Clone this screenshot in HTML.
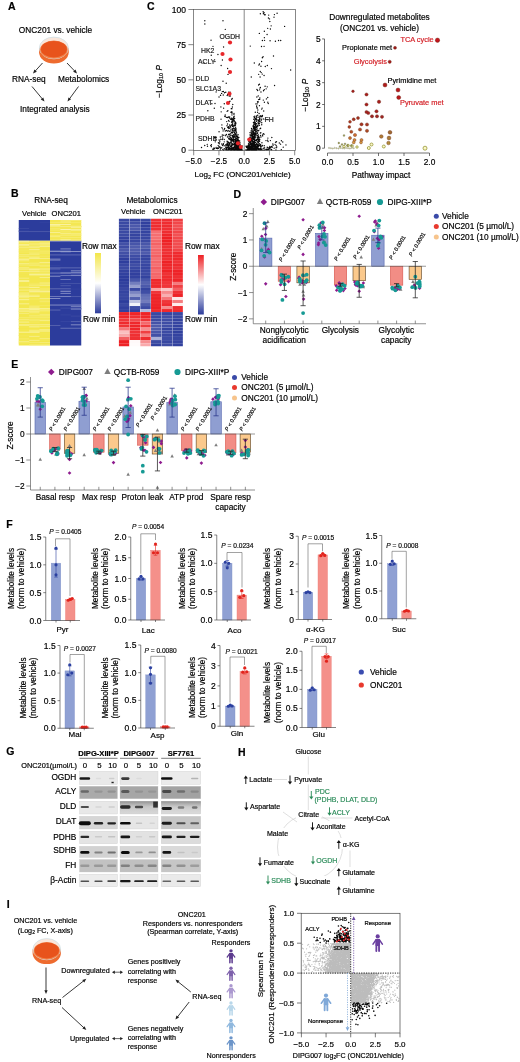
<!DOCTYPE html>
<html><head><meta charset="utf-8"><title>Figure</title>
<style>
html,body{margin:0;padding:0;background:#fff}
svg{display:block}
text{font-family:"Liberation Sans",sans-serif;stroke:#000;stroke-width:.18px}
</style></head><body>
<svg width="520" height="1062" viewBox="0 0 520 1062">
<defs>
<filter id="b1" x="-5%" y="-5%" width="110%" height="110%"><feGaussianBlur stdDeviation="0.55"/></filter>
<filter id="b2" x="-20%" y="-60%" width="140%" height="220%"><feGaussianBlur stdDeviation="1.0"/></filter>
<linearGradient id="gy" x1="0" y1="0" x2="0" y2="1"><stop offset="0" stop-color="#f3e64a"/><stop offset="0.5" stop-color="#ffffff"/><stop offset="1" stop-color="#2c3c9c"/></linearGradient>
<linearGradient id="gr" x1="0" y1="0" x2="0" y2="1"><stop offset="0" stop-color="#ee2024"/><stop offset="0.5" stop-color="#ffffff"/><stop offset="1" stop-color="#2c3c9c"/></linearGradient>
<linearGradient id="gd" x1="0" y1="0" x2="0" y2="1"><stop offset="0" stop-color="#7a7a7a" stop-opacity="0.75"/><stop offset="0.45" stop-color="#9a9a9a" stop-opacity="0.25"/><stop offset="1" stop-color="#bbbbbb" stop-opacity="0"/></linearGradient>
<linearGradient id="dish" x1="0" y1="0" x2="1" y2="1"><stop offset="0" stop-color="#f0642a"/><stop offset="1" stop-color="#e04a18"/></linearGradient>
</defs>
<rect width="520" height="1062" fill="#fff"/>
<text x="8" y="10.2" font-size="10.5" font-weight="bold">A</text>
<text x="55.5" y="33" font-size="8.3" text-anchor="middle">ONC201 vs. vehicle</text>
<path d="M39.05 48 L39.05 52.3 A14.85 11.2 0 0 0 68.75 52.3 L68.75 48 Z" fill="#ee6b2f"/>
<ellipse cx="53.9" cy="48" rx="14.55" ry="10.9" fill="#fbe6da" stroke="#c9e0e8" stroke-width="0.7"/>
<ellipse cx="53.9" cy="49.7" rx="13.85" ry="9.1" fill="#f1824a"/>
<ellipse cx="53.9" cy="49.2" rx="12.95" ry="8.3" fill="#e8531c"/>
<line x1="42.5" y1="63" x2="34.69" y2="71.63" stroke="#222" stroke-width="0.9"/>
<polygon points="33,73.5 34.38,69.53 36.81,71.73" fill="#222"/>
<line x1="67" y1="63" x2="75.26" y2="71.68" stroke="#222" stroke-width="0.9"/>
<polygon points="77,73.5 73.15,71.83 75.52,69.57" fill="#222"/>
<text x="12" y="82.3" font-size="8.3">RNA-seq</text>
<text x="58" y="82.3" font-size="8.3">Metabolomics</text>
<line x1="32" y1="86.5" x2="42.89" y2="99.56" stroke="#222" stroke-width="0.9"/>
<polygon points="44.5,101.5 40.76,99.58 43.29,97.48" fill="#222"/>
<line x1="78.5" y1="86.5" x2="68.99" y2="99.47" stroke="#222" stroke-width="0.9"/>
<polygon points="67.5,101.5 68.46,97.41 71.11,99.35" fill="#222"/>
<text x="20" y="112" font-size="8.3">Integrated analysis</text>
<text x="147" y="10.2" font-size="10.5" font-weight="bold">C</text>
<path d="M233.02 144.31h0M235.65 140.84h0M238.26 150.04h0M241.97 150.19h0M226.94 150.19h0M230.79 130h0M235.52 139.23h0M238.19 143.68h0M230.06 126.55h0M241.12 149.36h0M231.94 114.88h0M229.37 101.69h0M240.99 150.2h0M236.93 150.2h0M232.22 98.52h0M239.66 150.17h0M241.86 150.2h0M227.07 144.56h0M241.32 150.16h0M226.92 149.91h0M222.29 91.58h0M237.27 150.19h0M241.41 149.91h0M235.23 149.12h0M236.65 133.98h0M235.17 144.26h0M231.11 142.5h0M228.6 149.65h0M211.05 40.16h0M237.18 145.76h0M225.29 29.36h0M231.51 132.39h0M230.91 112.31h0M240.33 149.33h0M239.7 149.96h0M236.9 150.2h0M234.89 135.12h0M231.6 118.08h0M241.59 150.15h0M234.19 116.23h0M240.47 150.2h0M238.47 148.74h0M238.33 150.2h0M231.28 108.67h0M227.64 94.49h0M238.24 145.94h0M232.39 128.74h0M240.03 150.19h0M227.88 110.63h0M236.26 144.9h0M242.27 150.19h0M228.02 142.67h0M233.12 141.6h0M237.07 149.04h0M239.04 149.96h0M233.83 144.83h0M239.76 148.59h0M234.88 133.93h0M237.27 150.15h0M233.95 114.2h0M236.74 149.37h0M236.96 146.07h0M236.13 141.83h0M233.61 144.3h0M227.62 68.54h0M223.25 94.98h0M231.71 144.18h0M241.61 150.2h0M236.3 144.61h0M239.04 149.98h0M239 150.06h0M236.78 150.06h0M228.49 116.93h0M239.38 146.83h0M211.26 55.3h0M233.56 128.66h0M235.06 147.36h0M221.88 124.88h0M231.74 112.88h0M220.57 95.18h0M237.93 148.12h0M229.96 101.19h0M242.04 150.2h0M241.04 150.07h0M230.28 95.98h0M231.81 111.63h0M229.94 118.42h0M233.83 150.19h0M240.52 149.2h0M237.12 148.87h0M237.73 149.94h0M222.33 135.03h0M237.69 141.18h0M237.6 140.22h0M225.79 92.26h0M241.18 150.2h0M226.89 146.08h0M240.59 150.16h0M237.9 142.94h0M223.55 47.07h0M241.75 150.2h0M238.93 148.69h0M224.2 129.44h0M231.32 149.65h0M237.21 145.08h0M231.2 150.11h0M228.42 126.82h0M228 74.39h0M224.3 148.8h0M204.02 62.89h0M237.32 149.56h0M220.52 95.42h0M231.91 119.18h0M241.98 150.18h0M224.28 103.71h0M234.33 150.18h0M233.61 140.32h0M212.99 46.35h0M238.67 143.79h0M235.33 140.28h0M231.02 131.85h0M241.52 150.05h0M223.59 108.16h0M241.45 150.2h0M228.71 92.08h0M234.51 146.43h0M219.91 141.1h0M232.39 106.99h0M233.72 117.41h0M221.18 111.83h0M236.09 143.4h0M222.45 128.87h0M232.03 122.5h0M233.81 138.84h0M224.76 116.18h0M214.3 108.28h0M237.97 150.2h0M235.4 140.84h0M232.38 135.56h0M242.18 150.2h0M215.01 103.44h0M240.28 150.08h0M228.18 130.57h0M235.15 139.37h0M239.34 147.69h0M237.41 149.29h0M236.81 149.12h0M232.77 104.57h0M223.48 150.2h0M238.9 145.41h0M204.85 24h0M237.81 143.43h0M239.45 150.18h0M229.15 139.26h0M232.06 122.2h0M238.92 145.84h0M230.03 139.03h0M228.74 149.75h0M219.03 96.96h0M234.97 135.87h0M221.95 127.6h0M236.89 150.2h0M238.51 145.6h0M231.91 150.2h0M235.32 137.27h0M239.86 149.92h0M220.88 106.9h0M234.81 128.9h0M239.9 149.91h0M239.22 147.59h0M237.3 137.45h0M221.78 147.58h0M239.46 150.19h0M221.04 119.16h0M237.14 150.2h0M227.12 111.33h0M239.57 149.3h0M228.2 147.66h0M230.19 135.42h0M235.99 145.02h0M239.79 148.99h0M222.44 60.03h0M238.46 147.69h0M239.84 150h0M221.61 93.41h0M240.66 150.06h0M221.15 65.48h0M236.58 135.61h0M235 124.9h0M229.22 95.93h0M231.9 108.68h0M241.41 150.14h0M235.44 125.24h0M235.76 139.79h0M236.11 146.8h0M231.73 141.84h0M231.25 112.19h0M231.24 139.6h0M216.13 91.92h0M234.67 150.09h0M240.11 149.18h0M242 150.18h0M231.75 99.2h0M235.71 133.83h0M237.78 150.2h0M232.16 112.96h0M230.03 149.85h0M238.86 148.87h0M236.96 149.55h0M232.86 137.57h0M238.42 142.57h0M230.12 92.16h0M235.35 139.3h0M234.87 123.9h0M235.15 143.18h0M229.57 131.22h0M240.38 148.69h0M228.11 127.04h0M239.79 149.49h0M242.07 150.2h0M234.98 150.19h0M234.24 143.41h0M234.95 133.54h0M237.72 145.95h0M241.45 150.19h0M224.22 139.46h0M240.42 148.88h0M237.76 143.49h0M239.79 147.84h0M237.65 143.8h0M231.56 150.2h0M221.79 144h0M224.54 92.73h0M228.62 138.26h0M228.49 146.87h0M238.87 148.54h0M236.74 136.08h0M238.67 150.19h0M234.22 120.52h0M238.49 150.19h0M241.31 150.17h0M238.81 145.52h0M234.79 125.51h0M235.76 148.5h0M239.2 150.2h0M227.2 95.49h0M233.15 130.9h0M229.74 124.97h0M236.79 140.73h0M237.39 150.11h0M238.89 148.03h0M234.04 113.35h0M237.22 149.99h0M240.19 149.7h0M229.68 116.97h0M219.3 143.73h0M239.48 150.15h0M222.07 136.33h0M219.06 131.78h0M238.12 149.73h0M226.22 83.18h0M234.85 123.76h0M234.73 121.64h0M223.4 91.46h0M237.03 143.45h0M239.93 150.07h0M239.15 149.52h0M241.42 150.2h0M238.73 150.14h0M238.68 146.17h0M234.28 118.43h0M234.65 145.21h0M231.75 139.51h0M240.07 150.2h0M236.53 132.26h0M233.83 150.2h0M237.48 141.22h0M232.92 139.41h0M249.15 145.21h0M260.95 66.21h0M247.15 149.58h0M248.36 150.17h0M252.48 150.12h0M248.86 148.37h0M248.48 150.19h0M250.6 146.77h0M249.47 150.2h0M251.6 138.73h0M248.02 149.72h0M250.44 149.81h0M249.62 146.85h0M263.15 11.81h0M253.83 149.83h0M248.41 148.05h0M247.73 150.1h0M252.57 150.18h0M261.68 109.08h0M259.64 89.84h0M259.88 118.33h0M249.13 148.82h0M247.96 150.18h0M256.96 135.81h0M250.32 148.68h0M266.42 98.88h0M253.62 134.05h0M249.23 150.2h0M263.29 100.11h0M249.25 149.91h0M256.41 121.18h0M253.63 137.14h0M252.44 136.79h0M246.96 149.98h0M249.88 149.43h0M264.27 89.67h0M254.22 149.58h0M257.15 108.21h0M259.47 63.96h0M249.96 143.19h0M247.68 149.05h0M252.9 131.73h0M256.93 89.54h0M246.98 150.2h0M255.27 124.85h0M246.43 150.18h0M246.73 149.95h0M247.08 150.19h0M254.13 146.48h0M267.74 97.5h0M251.28 150.07h0M262.31 57.68h0M257.53 148.4h0M256.87 96.99h0M251.41 149.49h0M270.08 40.82h0M251.11 150.2h0M257.55 112.29h0M254.68 129.06h0M262.24 74.1h0M247.65 149.64h0M249.44 149.99h0M251 141.08h0M257.74 115.25h0M247.43 149.74h0M249.29 146.54h0M246.9 149.89h0M262.14 108.11h0M247.99 150.03h0M256.59 106.33h0M254.75 150.2h0M249.73 147.73h0M253.61 136.9h0M247.11 150.04h0M246.7 150.2h0M248.04 150.09h0M249.71 149.09h0M250.15 148.75h0M254.79 144.75h0M251.13 147.15h0M247.46 150.2h0M269.84 21.47h0M264.07 46.36h0M267.31 65.55h0M251.17 150.18h0M248.98 147.65h0M248.6 148.76h0M248.05 149.98h0M248.53 149.38h0M247.38 150.04h0M263.72 110.96h0M253.27 146.49h0M248.25 150.2h0M248.46 147.72h0M256.31 147.08h0M248.13 149.87h0M255.52 125.71h0M253.87 123.94h0M250.64 144.47h0M261.6 61.5h0M247.33 150.2h0M250.24 146.63h0M246.97 150.05h0M253.28 149.44h0M249.21 145.28h0M254.46 134.05h0M255.09 132.67h0M252.55 147.1h0M248.6 148.04h0M249.07 150.01h0M259.31 139.36h0M254.46 135.5h0M249.67 147.74h0M254.3 150.19h0M249 150.15h0M247.48 150h0M258.88 65.04h0M251.28 145.36h0M247.7 149.22h0M259.85 98h0M250.18 143.97h0M267.26 86.84h0M259.51 117.04h0M247.48 150.1h0M250.76 144.04h0M268.69 15.09h0M247.65 150.14h0M264.11 12.7h0M247.83 150.2h0M248.51 148.14h0M264.07 75.51h0M269.49 18.9h0M252.91 134.28h0M264.53 40.35h0M246.52 150.13h0M246.8 150.07h0M247.87 148.87h0M249.95 149.1h0M263.09 56.72h0M253.84 139.86h0M247.61 150.2h0M255.58 119.21h0M250.93 142.68h0M256.65 106h0M246.51 150.19h0M259.67 99.39h0M270.41 29.06h0M259.42 84.27h0M265.09 86.31h0M258.26 95.88h0M249.26 144.9h0M247.67 149.24h0M247.34 149.52h0M250.57 146.3h0M258.08 122.29h0M251.94 148.78h0M264.39 102.23h0M253.47 134.25h0M249.5 146.98h0M247.66 150.2h0M251.38 135.18h0M248.01 149.73h0M247.29 150.15h0M250.95 143.45h0M257.84 110.01h0M260.28 115.61h0M264.59 14.76h0M249.64 145.96h0M254.75 123.75h0M255.67 131.87h0M252.53 142.05h0M250.49 144.04h0M253.27 131.28h0M247.28 150.2h0M254.6 128.55h0M251.58 150.04h0M249.1 148.05h0M265.18 14.79h0M259.04 139.32h0M259.16 120.49h0M252.55 137.6h0M255.22 150.19h0M252.33 142h0M265.28 66.53h0M263.52 90.76h0M248.29 149.35h0M256.26 133.92h0M259.96 88.1h0M249.82 147.12h0M260.1 77.04h0M255.54 125.46h0M247.26 150.19h0M246.98 149.79h0M251.4 143.41h0M258.86 123.58h0M255.3 112.26h0M252.2 141.16h0M250.52 146.73h0M268.25 103.47h0M248.82 148.12h0M250.11 143.75h0M251.48 144.57h0M249 147.11h0M248.41 149.43h0M248.4 148.64h0M261.96 115.71h0M258.36 101.84h0M255.84 142.36h0M264.35 31.21h0M262.24 116.55h0M249.1 149.22h0M249.86 147.26h0M264.04 134.28h0M247.25 150.18h0M256.45 117.07h0M247.26 150.2h0M251.88 141.28h0M261.2 116.77h0M277.09 13.21h0M261.16 120.37h0M255.48 144.94h0M248.2 149.61h0M246.58 150.07h0M257.77 102.19h0M253.89 124.59h0M248.41 149.2h0M248.81 150.13h0M248.5 150.2h0M249.04 150.2h0M252.48 135.31h0M248.08 148.32h0M251.84 150.12h0M248.19 148.49h0M251.91 149.29h0M252.16 132.96h0M260.23 71.57h0M252.24 136.37h0M257.73 126.15h0M256.6 150.2h0M255.93 103.88h0M249.7 150.2h0M261.19 72.59h0M261.5 46.46h0M259.65 119.69h0M254.29 138.52h0M253.36 145.26h0M252.67 143.5h0M257.98 146.7h0M246.87 150.19h0M256.34 134.11h0M248.77 148.02h0M250.88 149.49h0M271.14 25.83h0M267.71 28.36h0M254.31 126.57h0M250.15 148h0M248.42 150.2h0M248.06 148.94h0M257.29 144.9h0M249.25 150.18h0M248.41 147.94h0M257.69 90.44h0M246.52 150.2h0M263.34 133.62h0M258.56 99.59h0M246.16 150.2h0M247.85 150.19h0M249.76 142.85h0M254.55 143.06h0M257.24 103.83h0M254.6 117.59h0M247.37 150.14h0M253.26 132.73h0M248.76 149.68h0M247.42 150.12h0M252.47 140.74h0M254.76 116.13h0M251.41 139.12h0M247.79 150.16h0M247.6 149.98h0M247.21 149.99h0M255.09 128.96h0M258.7 74.35h0M252.29 140.15h0M254.03 149.45h0M252.08 131.01h0M249.51 145.98h0M251.51 143.3h0M259.22 139.66h0M253.73 150.16h0M256.69 131.83h0M250.78 147.51h0M274.56 85.54h0M247.71 149.61h0M248.28 150.13h0M257.17 130.1h0M251.1 146.5h0M257 107.39h0M250.9 149.02h0M252.58 135.18h0M254.86 139.81h0M258.89 148.81h0M251.75 134.5h0M254.22 135.44h0M259.15 149.1h0M248.95 146.55h0M250.05 146.26h0M252.97 132.07h0M247.28 150.15h0M265.26 119.16h0M247.9 150.13h0M248.42 148.14h0M251.75 150.19h0M258.4 136.73h0M249.56 146.84h0M247.37 149.79h0M247.8 150.19h0M257.68 133.02h0M248.69 147.44h0M248.19 150.2h0M253.02 126.07h0M280.71 40.48h0M254.07 150.2h0M259.1 113.5h0M258.58 84.95h0M266.14 88.83h0M248.82 147.44h0M246.19 150.2h0M252.99 136.26h0M256.5 116.04h0M249.37 149.93h0M256.71 140.26h0M248.94 149.09h0M250.91 149.17h0M249.01 147.61h0M262.06 116.18h0M253.08 149.32h0M274.43 14.6h0M259.38 145.58h0M260.98 92.06h0M250.3 148.63h0M267.85 102.26h0M257.71 145.86h0M247.43 150.07h0M275.41 41.23h0M248.6 150.08h0M262.44 115.43h0M259.44 105.67h0M255.47 150.13h0M249.54 150.19h0M252.96 149.89h0M255.2 134.86h0M267.09 34.49h0M248.25 148.14h0M250.31 150.01h0M253.2 131.79h0M253.6 141.62h0M258.02 149.84h0M252.45 144.98h0M248.8 149.95h0M260.39 87.43h0M258.38 119.9h0M251.92 150.2h0M251.25 146.3h0M248.99 146.76h0M255.08 130.28h0M249.36 147.53h0M250.19 149.45h0M247.89 150h0M274.01 17.17h0M248.9 150.02h0M204.81 20.76h0M222.99 20.76h0M217.94 54.52h0M214.91 61.56h0M222.99 81.26h0M211.88 103.77h0M207.84 110.8h0M284.6 26.38h0M290.66 70h0M278.54 40.45h0M273.49 55.93h0M271.47 68.59h0M250.26 46.08h0M254.3 62.97h0M251.27 77.04h0M260.36 13.72h0M263.39 13.72h0M268.44 17.94h0M259.35 33.42h0M264.4 37.64h0M262.38 40.45h0M220.2 147.2h0M262.47 145.36h0M263.98 150.19h0M237.83 147.99h0M260.66 149.54h0M226.71 145.58h0M261.32 146.09h0M236.86 138.88h0M226.24 148.13h0M273.07 145.27h0M204.74 145.46h0M226.72 147.78h0M263.12 148.66h0M238.89 137.56h0M282.76 142.07h0M253.77 141.45h0M252.24 138.34h0M230.2 148.23h0M267.21 147.24h0M251.85 143.57h0M269.1 149.73h0M258.21 149.39h0M258.28 148.75h0M258.7 140.22h0M254.87 141.07h0M233.68 135.97h0M256.04 144.28h0M279.31 143.03h0M228.57 150.04h0M229.76 139.03h0M224.25 141.86h0M270.77 147.53h0M230.75 142.04h0M269.46 147.38h0M259.91 128.83h0M255.88 127.09h0M255.38 145h0M228.53 149.95h0M265.97 140.6h0M235.36 148.64h0M249.99 149.69h0M225.67 147.11h0M269.79 146.44h0M232.32 148.31h0M231.68 146.21h0M251.22 140.09h0M271.84 137.54h0M211.43 144.72h0M258.92 139.98h0M237.45 149.05h0M252.67 141.07h0M215.23 139.95h0M253.82 146.21h0M223.05 145.67h0M253.18 149.68h0M235.83 141.86h0M228.07 144.21h0M260.73 146.57h0M258.01 149.87h0M268.28 149.23h0M236.4 149.67h0M238.69 145.75h0M210.77 145.51h0M257.74 147.53h0M258.66 148.44h0M258.08 145.2h0M213.69 148.11h0M268.04 141.54h0M228.35 145.96h0M227.03 143.32h0M230.51 145.93h0M214.54 137.54h0M216.12 137.54h0M272 146.59h0M249.97 141.14h0M261.93 142.7h0M269.5 148.4h0M258 144.75h0M262.27 150.08h0M219.11 139.97h0M231.06 146.63h0M256.25 148.66h0M267.89 138.09h0M256.6 146.71h0M255.3 140.54h0M274.19 148.16h0M266.85 119.61h0M232.01 139.53h0M233.71 147.94h0M285.97 144.91h0M228.58 134.45h0M267.66 147.8h0M256.69 143.65h0M235.06 144.89h0M283.26 147.14h0M265.11 149.65h0M230.87 137.8h0M217.48 147.95h0M235.89 146.9h0M250.03 149.07h0M214.58 148.18h0M213.83 149.32h0M232.36 148.04h0M215.26 141.84h0M226.56 148.53h0M276.5 141.75h0M231.47 145.68h0M231.79 146.1h0M268.05 119.64h0M230.31 148.43h0M272.19 147.26h0M207.48 146.23h0M268.88 148.88h0M227.6 141.58h0M216.39 148.39h0M218.49 148.37h0M271.6 149.74h0M256.07 144.69h0M253.02 147.14h0M251.82 143.75h0M255.73 150.05h0M251.94 148.83h0M227.51 147.46h0M218.89 147.8h0M258.08 148.19h0M227.89 148.07h0M231.63 148h0M220.31 137.04h0M226.09 134.86h0M250.22 143.34h0M255.57 146.45h0M222.46 145.27h0M220.76 139.27h0M252.63 148.42h0M237.93 139h0M252.91 147.83h0M219.61 142.1h0M270.43 140.6h0M223.79 135.26h0M260.8 132.69h0M259.44 125.29h0M254.39 145.11h0M227.33 117.55h0M225.22 115h0M230.17 143.02h0M227.07 144.39h0M272.85 143.9h0M259.37 148.86h0M220.77 148.48h0M225.85 144.68h0M220.25 150.07h0M229.1 142.68h0M216.12 147.34h0M260.58 144.44h0M231.44 138.35h0M258.2 140.21h0M212.68 149.13h0M233.37 149.99h0M201.52 147.47h0M232.85 137.82h0M225.32 130.94h0M223.43 144.37h0M233.99 141.37h0M228.81 145.39h0M250.02 132.65h0M261.48 149.72h0M238.14 137.1h0M261.75 122.77h0M259.59 141.31h0M228.43 149.77h0M225.24 149.85h0M226.74 121.59h0M235.01 143.88h0M256.77 148.8h0M275.06 144.34h0M239.1 148.72h0M275.97 149.96h0M224.87 145.76h0M267.57 140.13h0M266.37 149.83h0M254.65 149.93h0M231.93 135.46h0M235.14 137.02h0M251.67 132.75h0M229.68 148.71h0M231.06 148.63h0M253.78 144.81h0M231.13 149.06h0M264.25 145.68h0M238.4 143.48h0M238.09 134.82h0M251.03 146.7h0M256.75 146.8h0M252.22 146.93h0M252.92 147.84h0M236.76 140.44h0M260.01 148.75h0M206.41 137.54h0M281.39 140.71h0M276.77 147.04h0M280.54 144.15h0M257.55 101.7h0M270.71 149.11h0M207.2 144.36h0M238.11 143.23h0M233.82 147.46h0M255.19 136.51h0M264.65 148.06h0M235.75 136.89h0M229.93 144.48h0M238.47 150.19h0M239.15 147.94h0M252.86 141.34h0M234.91 145.58h0M271.27 146.36h0M211.37 146.64h0M238.26 142.06h0M222.28 139.46h0M255.35 148.96h0M219.08 146.44h0M236.76 142.3h0M268.85 149.78h0M222.77 137.96h0M252.99 144.62h0M254.4 142.98h0M233.81 148.37h0M236.25 144.87h0M234.47 143.69h0M253.54 142.37h0M255.61 135.05h0M275.53 142.25h0M264.15 147.82h0M260.69 150.12h0M226.53 148.05h0M267.32 149.77h0M238.07 143.63h0M276.08 147.79h0M237.55 145.24h0M276.13 145.55h0M218.17 145.6h0M234.48 146.61h0M239.14 142.23h0M229.74 143.72h0M262.06 146.06h0M217.75 148.51h0M215.74 137.54h0M233.63 134.65h0M255.3 149.73h0M252.96 143.66h0M223.11 130.92h0M222.84 149.39h0M218.42 142.77h0M217.42 148.57h0M223.48 143.69h0M228.48 148.56h0M281.31 149.66h0M269.19 147.48h0M255.9 133.75h0M266.61 149.14h0M253.79 129.12h0M254.34 143.43h0M229.24 127.89h0M252.22 134.59h0M257.73 138.69h0M232.17 124.34h0M232.78 131.94h0M235.72 122.63h0M256.05 148.29h0M249.98 139.94h0M251.25 133.05h0M249.68 146.77h0M231.03 141.93h0M252.15 130h0M257.16 130.67h0M250.15 147.96h0M230.49 148.84h0M257.17 141.54h0M235.65 148.31h0M255.55 145.23h0M253.29 146.16h0M251.68 147.77h0M230.63 140.02h0M234.22 132.17h0M253.36 143.35h0M232.98 125.83h0M255.35 150.1h0M236.84 150h0M236.06 144h0M248.78 141.73h0M261 148.34h0M258.43 148.91h0M231.47 140.49h0M229.07 121.19h0M254.05 127.29h0M247.74 146.03h0M232.98 136.32h0M240.14 145.01h0M253.71 125.97h0M256.1 149.73h0M232.92 118.36h0M238.08 142.91h0M232.49 126.41h0M230.19 150.2h0M248.59 149.85h0M257.04 126.83h0M255.58 131.05h0M236.67 142.33h0M234.43 130.7h0M232.45 136.21h0M256.24 150.19h0M256.22 147.63h0M251.08 131.07h0M233.83 119.36h0M241.18 149.89h0M233.13 120.61h0M225.92 148.31h0M233.79 128.88h0M259.84 139.6h0M237.72 144.26h0M255.04 129.24h0M236.06 149.85h0M234.98 142.25h0M230.55 119.13h0M256.24 149.95h0M236.35 148.66h0M256.73 123.79h0M233.29 150.1h0M255.92 145.86h0M254.71 146.92h0M235.65 130.11h0M252.93 143.13h0M230.12 125.77h0M230.9 133.65h0M246.29 146.2h0M231.54 125.29h0M234.24 143.86h0M231.02 146.56h0M249.39 140.02h0M257.29 144.16h0M233.12 119.11h0M254.93 145.47h0M252.96 143.48h0M232.96 140.43h0M254.78 140.84h0M254.12 130.75h0M233.42 137.71h0M234.26 144.04h0M232.86 148.57h0M234.86 122.01h0M234.01 139.37h0M256.05 126.12h0M254.57 137.64h0M234.07 125.82h0M249.76 138.32h0M252.34 139.19h0M250.51 143.26h0M255.09 127.54h0M253.32 134.29h0M258.45 141.63h0M255.64 147.5h0M258.26 137.79h0M259.36 143.73h0M257.04 128.32h0M254.42 126.47h0M228.83 128.4h0M231.16 119.47h0M258.59 142.8h0M233.18 121.73h0M257.26 144.7h0M257.23 148.67h0M237.77 144.7h0M256.62 119.22h0M260.33 145.93h0M238.06 144.7h0M251.51 128.5h0M236.3 150.1h0M232.53 123.71h0M228.08 145.7h0M232.24 144.99h0M242.08 145.98h0M253.4 128.18h0M250.05 144.33h0M239.68 148.11h0M253.41 147.94h0M254.96 118.29h0M256.97 119.91h0M258.43 134.95h0M239.9 144.1h0M254.9 149.52h0M253.33 138.24h0M258.47 130.7h0M254.06 129.96h0M235.02 121.69h0M253.19 126.81h0M232.93 130.5h0M258.34 148.69h0M236.4 147.12h0M232.38 140.32h0M259.23 150.05h0M251.3 139.76h0M251.59 145.27h0M236.45 136.48h0M237.64 139.84h0M246.64 146.53h0M258.77 138.83h0M240.51 146.3h0M257.74 142.02h0M238.1 137.75h0M259.43 123.18h0M253.83 116.86h0M231.02 150.14h0M236.42 144.54h0M251.87 135.95h0M232.21 143.78h0M230.42 140.08h0M257.95 142.76h0M255.88 145.98h0M229.65 143.89h0M253.15 137.43h0M229.81 136.14h0M235.94 129.68h0M256.85 129.67h0M258.52 149.61h0M238.79 141.35h0M260.92 147.65h0M253.86 132.74h0M261 137.03h0M226.55 117.33h0M228.93 145.09h0M231.67 143.87h0M251.89 129.3h0M259.44 121.56h0M254.16 149.04h0M261.45 149.29h0M232.2 129h0M253.67 150.2h0M261.73 124.69h0M231.12 139.29h0M234.44 136.46h0M253.27 131.45h0M235.18 143.45h0M248.43 145.91h0M237.14 146.59h0M253.8 142.45h0M252.63 150.2h0M256.15 127.56h0M253.13 147.71h0M234.83 133.21h0M257.39 145.8h0M234.99 147.93h0M238.1 146.22h0M254.46 143.54h0M252.55 150h0M253.94 122.22h0M234.93 130.31h0M251.63 135.71h0M228.52 120.35h0M262.63 135.91h0M239.82 149.98h0M227.92 149.8h0M253.34 142.48h0M232.84 139.73h0M253.36 136.53h0M235.55 140.76h0M253.74 145.51h0M226.99 125.82h0M238.59 141.38h0M252.71 132.91h0M232.72 144.48h0M258.48 149.05h0M253.24 148.54h0M254.91 123.34h0M245.78 149.89h0M261.37 119.15h0M232.11 149.15h0M254.35 133.45h0M229.96 148.11h0M230.47 133.92h0M256.56 148.11h0M240.92 149.76h0M226.5 130.45h0M255.67 137.82h0M257.97 125.24h0M240.31 148.34h0M233.71 117.07h0M238.43 145.66h0M260.63 121.85h0M253.05 145.22h0M259.61 118.66h0M256.54 147.92h0M258.21 149.21h0M232.39 124.72h0M256.87 139.46h0M237.48 136.55h0M252.5 140.96h0M232.92 148.47h0M235.96 129.36h0M255.25 122.55h0M255.96 123.76h0M256.9 131.87h0M256.75 139.79h0M255.06 119.07h0M254.23 135.25h0M232.92 119.66h0M233.91 149.97h0M254.96 122.36h0M229.09 145.45h0M254.78 120.53h0M253.32 144.45h0M259.45 145.13h0M250.78 146.06h0M247.01 147.55h0M236.1 148.95h0M236.74 138.79h0M228.73 148h0M258.21 144.72h0M227.53 123.98h0M251.34 139.81h0M250.66 146.53h0M237.63 141.87h0M238.91 142.09h0M240.07 150.14h0M240.9 147.32h0M257.29 133.46h0M252.16 139.06h0M238.51 149.43h0M227.07 144.14h0M248.22 146.77h0M231.15 149.12h0M228 144.56h0M233.56 136.55h0M232.63 132.02h0M251.19 139.97h0M237.2 143.24h0M255.65 134.24h0M260.39 133.05h0M254.66 141.72h0M237.25 137.11h0M258.07 117.28h0M225.35 116.64h0M253.07 150.09h0M255.39 128.94h0M255.14 127.96h0M250.28 141.71h0M251.85 149.37h0M250.03 141.02h0M229.78 147.46h0M253.47 142.21h0M232.27 129.2h0M235.65 138.66h0M260.75 150.17h0M258.32 120.68h0M236.86 148.44h0M237.34 143.94h0M257.9 138.42h0M257.44 125.82h0M250.05 142.83h0M225.55 135.67h0M259.61 137.85h0M232.51 147.62h0M237.81 141.64h0M232.56 132.91h0M232.14 145.7h0M247.65 147.16h0M234.27 139.61h0M260.36 145.19h0M253.6 139.55h0M226.38 134.54h0M249.6 137.85h0M252.84 149.15h0M255.56 124.69h0M233.98 149.96h0M241.49 150.18h0M233.88 150.13h0M235.87 123.74h0M258.39 123.1h0M259.15 145.62h0M237.16 142.85h0M230.18 146.65h0M236.12 130.84h0M235.53 146.13h0M234.98 137.39h0M255.13 134.22h0M260.1 116.64h0M229.87 137.06h0M234.2 149.13h0M255.11 149.14h0M254.92 146.75h0M233.65 147.89h0M250.15 134.8h0M249.81 141.59h0M255.91 126.11h0M233.76 148.29h0M252.54 147.6h0M252.35 141.94h0M263.29 119.01h0M233.58 140.86h0M238.54 142.23h0M253.02 137.73h0M237.2 144.72h0M258.7 136.98h0M233.91 128.37h0M236.48 138.44h0M232.45 130.37h0M233.08 148.76h0M238.85 148.29h0M229.94 128.1h0M235.51 134.55h0M233.74 150.01h0M256.27 118.1h0M227.87 131.21h0M233.6 126.92h0M233.39 126.9h0M227.47 137.11h0M250.57 148.56h0M236.94 148.11h0M250.79 140.44h0M251.88 137.21h0M231.52 121.95h0M250.34 137.66h0M252.51 146.29h0M238.62 142.38h0M237.79 141.47h0M237.24 147.47h0M236.72 145.59h0M241.65 148.53h0M238.44 140.04h0M249.54 141.89h0M250.34 141.24h0M232.78 124.21h0M238.45 146.64h0M235.73 145.44h0M232.11 120.93h0M253.67 125.87h0M226.25 149.41h0M233.15 119.29h0M257.55 147.18h0M247.8 149.93h0M241.17 149.13h0M254.49 148.03h0M229.38 134.21h0M256.12 140.18h0M253.44 122.52h0M239 147.97h0M246.53 147.43h0M239.7 140.89h0M232.31 132.59h0M260.55 135.53h0M238.33 146.68h0M255.09 147.85h0M233.44 136.49h0M254.91 140.75h0M249.93 147.67h0M250.76 146.04h0M254.65 130.4h0M224.65 128.4h0M236.91 145.48h0M231.63 147.59h0M228.41 142.32h0M258.09 139.91h0M258.66 123.7h0M250.18 136.07h0M235.31 142.62h0M234.9 132.82h0M234.06 140.08h0M235.61 127.19h0M257.71 145.75h0M258.85 140.39h0M251.4 146.05h0M255.26 142.48h0M239.68 140.88h0M235.35 143.67h0M248.42 144.9h0M233.93 149.69h0M234.91 144.32h0M231.8 149.99h0M254.41 148.96h0M252.04 149.48h0M237.32 136.09h0M254.49 136.56h0M227.09 141.18h0M255.53 148.74h0M236.26 149.53h0M253.75 119.3h0M248.31 145.85h0M235.82 147.82h0M248.88 150.07h0M232.08 148.61h0M251.18 135.85h0M254.71 144.22h0M232.74 149.87h0M254.32 122.04h0M258.75 130.46h0M235.83 141.46h0M249.61 147.22h0M257.32 146.45h0M238.32 149.94h0M232.05 129.06h0M239.03 144h0M256.12 126.74h0M251.37 135.87h0M231.6 138.51h0M239.94 142.64h0M252.12 135.08h0M238.86 143.58h0M241.56 148.12h0M233 125.72h0M256.6 149.85h0M257 147.13h0M249.43 149.04h0M252.06 146.27h0M233.52 147.43h0M237.57 147.51h0M249.79 145.99h0M229.11 138.61h0M251.85 134.57h0M228.46 127.71h0M256.94 148.53h0M257.4 132.84h0M260.42 149.3h0M234.3 149.85h0M235.95 128.44h0M254.5 123.88h0M255.87 129.66h0M234.1 147.32h0M234.64 118.45h0M230.78 127.11h0M228.81 149.28h0M262.55 134.98h0M235.65 131.17h0M257.47 137.31h0M248.65 146.84h0M238.5 143.33h0M249.17 148.32h0M256.85 149.97h0M251.85 138.02h0M248.55 143.67h0M236.3 135.92h0M233.45 142.04h0M257.31 135.5h0M227.75 127.46h0M256.6 126.08h0M234.93 144.06h0M258.5 146.54h0M235.28 149.98h0M254.67 133.51h0M258.75 136.58h0M231.99 146.07h0M237.75 141.82h0M254.69 144.63h0M253.97 146.55h0M260.64 128.21h0M246 146.31h0M252.67 143.4h0M235.51 147.55h0M235.54 133.9h0M227.97 136.26h0M237.39 146.25h0M228.13 144h0M229.11 117.37h0" fill="none" stroke="#0a0a0a" stroke-width="1.4" stroke-linecap="round"/>
<rect x="193.5" y="9.5" width="102" height="141" fill="none" stroke="#555" stroke-width="0.7"/>
<line x1="244.2" y1="9.5" x2="244.2" y2="150.5" stroke="#555" stroke-width="0.7"/>
<line x1="188.4" y1="150.2" x2="193.5" y2="150.2" stroke="#555" stroke-width="0.7"/>
<text x="186" y="153.25" font-size="8.5" text-anchor="end">0</text>
<line x1="188.4" y1="115.02" x2="193.5" y2="115.02" stroke="#555" stroke-width="0.7"/>
<text x="186" y="118.07" font-size="8.5" text-anchor="end">25</text>
<line x1="188.4" y1="79.85" x2="193.5" y2="79.85" stroke="#555" stroke-width="0.7"/>
<text x="186" y="82.9" font-size="8.5" text-anchor="end">50</text>
<line x1="188.4" y1="44.67" x2="193.5" y2="44.67" stroke="#555" stroke-width="0.7"/>
<text x="186" y="47.72" font-size="8.5" text-anchor="end">75</text>
<line x1="188.4" y1="9.5" x2="193.5" y2="9.5" stroke="#555" stroke-width="0.7"/>
<text x="186" y="12.55" font-size="8.5" text-anchor="end">100</text>
<line x1="193.7" y1="150.5" x2="193.7" y2="155.3" stroke="#555" stroke-width="0.7"/>
<text x="193.7" y="164.4" font-size="8.2" text-anchor="middle">−5.0</text>
<line x1="218.95" y1="150.5" x2="218.95" y2="155.3" stroke="#555" stroke-width="0.7"/>
<text x="218.95" y="164.4" font-size="8.2" text-anchor="middle">−2.5</text>
<line x1="244.2" y1="150.5" x2="244.2" y2="155.3" stroke="#555" stroke-width="0.7"/>
<text x="244.2" y="164.4" font-size="8.2" text-anchor="middle">0.0</text>
<line x1="269.45" y1="150.5" x2="269.45" y2="155.3" stroke="#555" stroke-width="0.7"/>
<text x="269.45" y="164.4" font-size="8.2" text-anchor="middle">2.5</text>
<line x1="294.7" y1="150.5" x2="294.7" y2="155.3" stroke="#555" stroke-width="0.7"/>
<text x="294.7" y="164.4" font-size="8.2" text-anchor="middle">5.0</text>
<text x="194.5" y="177.2" font-size="8.1">Log<tspan font-size="5.5" dy="1.8">2</tspan><tspan dy="-1.8"> FC (ONC201/vehicle)</tspan></text>
<text transform="translate(161.5 97.7) rotate(-90)" font-size="8.3">−Log<tspan font-size="5.5" dy="1.8">10</tspan><tspan dy="-1.8"> </tspan><tspan font-style="italic">P</tspan></text>
<circle cx="230" cy="42.5" r="2.1" fill="#e8262a"/>
<circle cx="222.5" cy="54" r="2.1" fill="#e8262a"/>
<circle cx="230.5" cy="59.5" r="2.1" fill="#e8262a"/>
<circle cx="230" cy="72" r="2.1" fill="#e8262a"/>
<circle cx="229.5" cy="93.8" r="2.1" fill="#e8262a"/>
<circle cx="228" cy="103" r="2.1" fill="#e8262a"/>
<circle cx="238" cy="143.3" r="2.1" fill="#e8262a"/>
<circle cx="240.8" cy="147" r="2.1" fill="#e8262a"/>
<circle cx="249.3" cy="139.5" r="2.1" fill="#e8262a"/>
<text x="219.5" y="38.8" font-size="6.85" fill="#1a1a1a" style="stroke:#1a1a1a">OGDH</text>
<text x="201" y="53" font-size="6.85" fill="#1a1a1a" style="stroke:#1a1a1a">HK2</text>
<text x="198" y="64.3" font-size="6.85" fill="#1a1a1a" style="stroke:#1a1a1a">ACLY</text>
<text x="195.5" y="80.5" font-size="6.85" fill="#1a1a1a" style="stroke:#1a1a1a">DLD</text>
<text x="195.5" y="91.3" font-size="6.85" fill="#1a1a1a" style="stroke:#1a1a1a">SLC1A3</text>
<text x="195.5" y="105" font-size="6.85" fill="#1a1a1a" style="stroke:#1a1a1a">DLAT</text>
<text x="195.5" y="121.3" font-size="6.85" fill="#1a1a1a" style="stroke:#1a1a1a">PDHB</text>
<text x="198" y="141.3" font-size="6.85" fill="#1a1a1a" style="stroke:#1a1a1a">SDHB</text>
<text x="264.5" y="122.3" font-size="6.85" fill="#1a1a1a" style="stroke:#1a1a1a">FH</text>
<text x="379.5" y="20" font-size="8.3" text-anchor="middle">Downregulated metabolites</text>
<text x="379.5" y="30.6" font-size="8.3" text-anchor="middle">(ONC201 vs. vehicle)</text>
<line x1="324.5" y1="38.95" x2="324.5" y2="148.2" stroke="#333" stroke-width="0.7"/>
<line x1="322.1" y1="148.2" x2="324.5" y2="148.2" stroke="#333" stroke-width="0.7"/>
<text x="320.6" y="151.2" font-size="8.4" text-anchor="end">0</text>
<line x1="322.1" y1="126.35" x2="324.5" y2="126.35" stroke="#333" stroke-width="0.7"/>
<text x="320.6" y="129.35" font-size="8.4" text-anchor="end">1</text>
<line x1="322.1" y1="104.5" x2="324.5" y2="104.5" stroke="#333" stroke-width="0.7"/>
<text x="320.6" y="107.5" font-size="8.4" text-anchor="end">2</text>
<line x1="322.1" y1="82.65" x2="324.5" y2="82.65" stroke="#333" stroke-width="0.7"/>
<text x="320.6" y="85.65" font-size="8.4" text-anchor="end">3</text>
<line x1="322.1" y1="60.8" x2="324.5" y2="60.8" stroke="#333" stroke-width="0.7"/>
<text x="320.6" y="63.8" font-size="8.4" text-anchor="end">4</text>
<line x1="322.1" y1="38.95" x2="324.5" y2="38.95" stroke="#333" stroke-width="0.7"/>
<text x="320.6" y="41.95" font-size="8.4" text-anchor="end">5</text>
<line x1="327.5" y1="153" x2="429.5" y2="153" stroke="#333" stroke-width="0.7"/>
<line x1="327.5" y1="153" x2="327.5" y2="156" stroke="#333" stroke-width="0.7"/>
<text x="327.5" y="165.3" font-size="8.3" text-anchor="middle">0.0</text>
<line x1="353" y1="153" x2="353" y2="156" stroke="#333" stroke-width="0.7"/>
<text x="353" y="165.3" font-size="8.3" text-anchor="middle">0.5</text>
<line x1="378.5" y1="153" x2="378.5" y2="156" stroke="#333" stroke-width="0.7"/>
<text x="378.5" y="165.3" font-size="8.3" text-anchor="middle">1.0</text>
<line x1="404" y1="153" x2="404" y2="156" stroke="#333" stroke-width="0.7"/>
<text x="404" y="165.3" font-size="8.3" text-anchor="middle">1.5</text>
<line x1="429.5" y1="153" x2="429.5" y2="156" stroke="#333" stroke-width="0.7"/>
<text x="429.5" y="165.3" font-size="8.3" text-anchor="middle">2.0</text>
<text x="381" y="177.5" font-size="8.3" text-anchor="middle">Pathway impact</text>
<text transform="translate(307.6 111.4) rotate(-90)" font-size="8.3">−Log<tspan font-size="5.5" dy="1.8">10</tspan><tspan dy="-1.8"> </tspan><tspan font-style="italic">P</tspan></text>
<circle cx="437.5" cy="40.2" r="2.2" fill="#c4141c" stroke="#6b2a1a" stroke-width="0.4"/>
<circle cx="395" cy="47.8" r="1.5" fill="#a01818" stroke="#6b2a1a" stroke-width="0.4"/>
<circle cx="389.7" cy="61.8" r="1.6" fill="#a81a1a" stroke="#6b2a1a" stroke-width="0.4"/>
<circle cx="385" cy="85" r="2" fill="#b01a1a" stroke="#6b2a1a" stroke-width="0.4"/>
<circle cx="398" cy="90" r="2" fill="#b8161c" stroke="#6b2a1a" stroke-width="0.4"/>
<circle cx="398.7" cy="97.5" r="2" fill="#b8161c" stroke="#6b2a1a" stroke-width="0.4"/>
<circle cx="353" cy="91.3" r="1.3" fill="#a81c1c" stroke="#6b2a1a" stroke-width="0.4"/>
<circle cx="366.5" cy="94.5" r="1.6" fill="#a81c1c" stroke="#6b2a1a" stroke-width="0.4"/>
<circle cx="366.5" cy="104.5" r="1.6" fill="#a81c1c" stroke="#6b2a1a" stroke-width="0.4"/>
<circle cx="379" cy="101.8" r="1.7" fill="#a81c1c" stroke="#6b2a1a" stroke-width="0.4"/>
<circle cx="366.5" cy="112" r="1.6" fill="#a82020" stroke="#6b2a1a" stroke-width="0.4"/>
<circle cx="368.3" cy="113" r="1.6" fill="#a82020" stroke="#6b2a1a" stroke-width="0.4"/>
<circle cx="376.5" cy="111.3" r="1.6" fill="#a82020" stroke="#6b2a1a" stroke-width="0.4"/>
<circle cx="372" cy="116.3" r="1.6" fill="#a02424" stroke="#6b2a1a" stroke-width="0.4"/>
<circle cx="377" cy="116.3" r="1.6" fill="#a02424" stroke="#6b2a1a" stroke-width="0.4"/>
<circle cx="382" cy="116.8" r="1.6" fill="#a02424" stroke="#6b2a1a" stroke-width="0.4"/>
<circle cx="358" cy="118" r="1.5" fill="#a83020" stroke="#6b2a1a" stroke-width="0.4"/>
<circle cx="353.7" cy="119.3" r="1.5" fill="#a83020" stroke="#6b2a1a" stroke-width="0.4"/>
<circle cx="350" cy="121.8" r="1.4" fill="#b03820" stroke="#6b2a1a" stroke-width="0.4"/>
<circle cx="361.5" cy="124.3" r="1.6" fill="#a83420" stroke="#6b2a1a" stroke-width="0.4"/>
<circle cx="367" cy="124.5" r="1.6" fill="#a83420" stroke="#6b2a1a" stroke-width="0.4"/>
<circle cx="349.3" cy="127" r="1.4" fill="#b04020" stroke="#6b2a1a" stroke-width="0.4"/>
<circle cx="360" cy="129.5" r="1.6" fill="#b04a24" stroke="#6b2a1a" stroke-width="0.4"/>
<circle cx="367" cy="130.8" r="1.6" fill="#b04a24" stroke="#6b2a1a" stroke-width="0.4"/>
<circle cx="351.3" cy="131.8" r="1.5" fill="#b85028" stroke="#6b2a1a" stroke-width="0.4"/>
<circle cx="355" cy="135" r="1.6" fill="#d07030" stroke="#6b2a1a" stroke-width="0.4"/>
<circle cx="350" cy="138" r="1.5" fill="#c87830" stroke="#6b2a1a" stroke-width="0.4"/>
<circle cx="354.5" cy="140" r="1.5" fill="#d08838" stroke="#6b2a1a" stroke-width="0.4"/>
<circle cx="361.5" cy="140" r="1.5" fill="#d08838" stroke="#6b2a1a" stroke-width="0.4"/>
<circle cx="353.7" cy="142.5" r="1.4" fill="#d89a40" stroke="#6b2a1a" stroke-width="0.4"/>
<circle cx="361" cy="142.5" r="1.4" fill="#d89a40" stroke="#6b2a1a" stroke-width="0.4"/>
<circle cx="390" cy="132.3" r="1.9" fill="#a06a30" stroke="#6b2a1a" stroke-width="0.4"/>
<circle cx="381.3" cy="136.5" r="1.8" fill="#b07c34" stroke="#6b2a1a" stroke-width="0.4"/>
<circle cx="389" cy="138" r="1.9" fill="#a87a34" stroke="#6b2a1a" stroke-width="0.4"/>
<circle cx="388.5" cy="143" r="1.8" fill="#b08c38" stroke="#6b2a1a" stroke-width="0.4"/>
<circle cx="383.8" cy="146.5" r="1.5" fill="#fbf8c8" stroke="#8a8a20" stroke-width="0.7"/>
<circle cx="371.5" cy="144.5" r="1.5" fill="#fbf8c8" stroke="#8a8a20" stroke-width="0.7"/>
<circle cx="368.8" cy="148" r="1.5" fill="#fbf8c8" stroke="#8a8a20" stroke-width="0.7"/>
<circle cx="425" cy="148.2" r="2" fill="#fbf8c8" stroke="#8a8a20" stroke-width="0.7"/>
<circle cx="352" cy="146" r="1.3" fill="#fbf8c8" stroke="#8a8a20" stroke-width="0.7"/>
<circle cx="348" cy="145.5" r="1.3" fill="#fbf8c8" stroke="#8a8a20" stroke-width="0.7"/>
<circle cx="344" cy="146.5" r="1.2" fill="#fbf8c8" stroke="#8a8a20" stroke-width="0.7"/>
<circle cx="357" cy="147" r="1.2" fill="#fbf8c8" stroke="#8a8a20" stroke-width="0.7"/>
<circle cx="344" cy="135.5" r="0.9" fill="#9a9a40" stroke="#666" stroke-width="0.3"/>
<circle cx="338.8" cy="143" r="0.9" fill="#9a9a40" stroke="#666" stroke-width="0.3"/>
<circle cx="342" cy="144.5" r="0.9" fill="#9a9a40" stroke="#666" stroke-width="0.3"/>
<circle cx="345" cy="143.8" r="0.9" fill="#9a9a40" stroke="#666" stroke-width="0.3"/>
<circle cx="347.5" cy="145.5" r="0.9" fill="#9a9a40" stroke="#666" stroke-width="0.3"/>
<circle cx="351.3" cy="145.5" r="0.9" fill="#9a9a40" stroke="#666" stroke-width="0.3"/>
<circle cx="340" cy="146.5" r="0.9" fill="#9a9a40" stroke="#666" stroke-width="0.3"/>
<circle cx="329" cy="147.9" r="0.7" fill="#d8d890" stroke="#777" stroke-width="0.3"/>
<circle cx="330.9" cy="148.2" r="0.7" fill="#d8d890" stroke="#777" stroke-width="0.3"/>
<circle cx="332.8" cy="148.5" r="0.7" fill="#d8d890" stroke="#777" stroke-width="0.3"/>
<circle cx="334.7" cy="147.9" r="0.7" fill="#d8d890" stroke="#777" stroke-width="0.3"/>
<circle cx="336.6" cy="148.2" r="0.7" fill="#d8d890" stroke="#777" stroke-width="0.3"/>
<circle cx="338.5" cy="148.5" r="0.7" fill="#d8d890" stroke="#777" stroke-width="0.3"/>
<circle cx="340.4" cy="147.9" r="0.7" fill="#d8d890" stroke="#777" stroke-width="0.3"/>
<circle cx="342.3" cy="148.2" r="0.7" fill="#d8d890" stroke="#777" stroke-width="0.3"/>
<circle cx="344.2" cy="148.5" r="0.7" fill="#d8d890" stroke="#777" stroke-width="0.3"/>
<circle cx="346.1" cy="147.9" r="0.7" fill="#d8d890" stroke="#777" stroke-width="0.3"/>
<circle cx="348" cy="148.2" r="0.7" fill="#d8d890" stroke="#777" stroke-width="0.3"/>
<circle cx="349.9" cy="148.5" r="0.7" fill="#d8d890" stroke="#777" stroke-width="0.3"/>
<circle cx="351.8" cy="147.9" r="0.7" fill="#d8d890" stroke="#777" stroke-width="0.3"/>
<circle cx="353.7" cy="148.2" r="0.7" fill="#d8d890" stroke="#777" stroke-width="0.3"/>
<text x="433.7" y="42.3" font-size="7.4" text-anchor="end" fill="#d42027" style="stroke:#d42027">TCA cycle</text>
<text x="342" y="50" font-size="7.4">Propionate met</text>
<text x="353.7" y="64" font-size="7.4" fill="#d42027" style="stroke:#d42027">Glycolysis</text>
<text x="387.5" y="82.5" font-size="7.4">Pyrimidine met</text>
<text x="400" y="104.5" font-size="7.4" fill="#d42027" style="stroke:#d42027">Pyruvate met</text>
<text x="11" y="197" font-size="10.5" font-weight="bold">B</text>
<text x="51" y="203" font-size="8.3" text-anchor="middle">RNA-seq</text>
<text x="22" y="215.5" font-size="7.6">Vehicle</text>
<text x="51.5" y="215.5" font-size="7.6">ONC201</text>
<rect x="18.75" y="220" width="31.25" height="20.75" fill="#2c3c9c"/>
<rect x="50" y="220" width="31.25" height="20.75" fill="#f4e753"/>
<rect x="18.75" y="240.75" width="31.25" height="104.75" fill="#f3e74f"/>
<rect x="50" y="240.75" width="31.25" height="104.75" fill="#2c3c9c"/>
<rect x="70.83" y="227.15" width="10.42" height="0.92" fill="#f8f095"/>
<rect x="60.42" y="229.29" width="20.83" height="0.82" fill="#faf4b0"/>
<rect x="50" y="229.36" width="10.42" height="0.77" fill="#f5ea65"/>
<rect x="70.83" y="234.59" width="10.42" height="0.59" fill="#f6ec76"/>
<rect x="60.42" y="235.9" width="10.42" height="0.81" fill="#f4e859"/>
<rect x="50" y="239.4" width="10.42" height="0.89" fill="#f3e64b"/>
<rect x="50" y="239.18" width="20.83" height="0.84" fill="#f7ee85"/>
<rect x="50" y="239.32" width="10.42" height="0.98" fill="#f4e95f"/>
<rect x="60.42" y="227.21" width="10.42" height="0.57" fill="#f4e85c"/>
<rect x="50" y="236.31" width="10.42" height="0.8" fill="#f7ef8a"/>
<rect x="70.83" y="226.18" width="10.42" height="0.74" fill="#f9f2a3"/>
<rect x="60.42" y="229.43" width="10.42" height="0.63" fill="#f4e95d"/>
<rect x="50" y="228.07" width="20.83" height="0.71" fill="#f7ee86"/>
<rect x="60.42" y="220.18" width="10.42" height="0.59" fill="#f3e74f"/>
<rect x="50" y="224.91" width="10.42" height="0.73" fill="#f9f2a3"/>
<rect x="70.83" y="230.47" width="10.42" height="0.55" fill="#f9f29e"/>
<rect x="60.42" y="225.9" width="20.83" height="0.99" fill="#f6ec79"/>
<rect x="50" y="232.19" width="10.42" height="0.67" fill="#faf4ae"/>
<rect x="70.83" y="226.23" width="10.42" height="0.59" fill="#f5eb6c"/>
<rect x="50" y="226.17" width="31.25" height="0.86" fill="#f6ed7f"/>
<rect x="50" y="228.1" width="20.83" height="0.8" fill="#f5ea64"/>
<rect x="60.42" y="228.41" width="10.42" height="0.96" fill="#f3e750"/>
<rect x="50" y="224.13" width="20.83" height="0.78" fill="#faf5b5"/>
<rect x="50" y="222.13" width="31.25" height="0.57" fill="#f6ed79"/>
<rect x="60.42" y="229.04" width="10.42" height="0.93" fill="#faf5b7"/>
<rect x="70.83" y="229.74" width="10.42" height="0.74" fill="#f8f199"/>
<rect x="60.42" y="237.99" width="10.42" height="0.91" fill="#f4e856"/>
<rect x="50" y="229.96" width="31.25" height="0.54" fill="#f5eb6f"/>
<rect x="60.42" y="230.93" width="10.42" height="0.53" fill="#f7ee81"/>
<rect x="50" y="235.15" width="31.25" height="0.85" fill="#f6eb71"/>
<rect x="60.42" y="239.57" width="20.83" height="0.98" fill="#f8f198"/>
<rect x="60.42" y="220.23" width="20.83" height="0.63" fill="#f7ee85"/>
<rect x="70.83" y="225.76" width="10.42" height="0.84" fill="#f7ee80"/>
<rect x="60.42" y="232.85" width="10.42" height="0.91" fill="#f8f19a"/>
<rect x="60.42" y="237.3" width="20.83" height="0.68" fill="#f6ed7b"/>
<rect x="60.42" y="230.56" width="10.42" height="0.92" fill="#f4e85c"/>
<rect x="60.42" y="221.57" width="10.42" height="0.71" fill="#f8f093"/>
<rect x="60.42" y="233.28" width="20.83" height="0.81" fill="#f6ec78"/>
<rect x="70.83" y="239.87" width="10.42" height="0.79" fill="#f4e95f"/>
<rect x="60.42" y="233.68" width="20.83" height="0.52" fill="#f8ef8f"/>
<rect x="29.17" y="333.45" width="20.83" height="0.98" fill="#f4e855"/>
<rect x="29.17" y="244.46" width="10.42" height="0.69" fill="#f6ec78"/>
<rect x="39.58" y="261.99" width="10.42" height="0.69" fill="#f8f091"/>
<rect x="29.17" y="269.7" width="10.42" height="0.56" fill="#f6ec73"/>
<rect x="39.58" y="244.5" width="10.42" height="0.55" fill="#f7ee87"/>
<rect x="39.58" y="339.62" width="10.42" height="0.68" fill="#f5ea67"/>
<rect x="18.75" y="325.26" width="10.42" height="0.68" fill="#f7ef8a"/>
<rect x="18.75" y="280.54" width="10.42" height="0.6" fill="#f6ed79"/>
<rect x="18.75" y="333.63" width="20.83" height="0.55" fill="#f3e64a"/>
<rect x="29.17" y="274.58" width="20.83" height="0.78" fill="#f9f2a1"/>
<rect x="29.17" y="264.28" width="10.42" height="0.99" fill="#f5ea67"/>
<rect x="29.17" y="329.62" width="10.42" height="0.8" fill="#f4e85a"/>
<rect x="29.17" y="283.94" width="20.83" height="0.99" fill="#f5ea6a"/>
<rect x="29.17" y="243.22" width="20.83" height="0.98" fill="#f7ef8c"/>
<rect x="18.75" y="322.01" width="10.42" height="0.51" fill="#f8f19c"/>
<rect x="39.58" y="266.06" width="10.42" height="0.52" fill="#f6ed79"/>
<rect x="29.17" y="256.84" width="10.42" height="0.65" fill="#faf4ac"/>
<rect x="29.17" y="330.51" width="20.83" height="0.95" fill="#f9f2a2"/>
<rect x="18.75" y="296.21" width="20.83" height="0.65" fill="#f5eb6b"/>
<rect x="39.58" y="277.11" width="10.42" height="0.91" fill="#f7ef8e"/>
<rect x="18.75" y="266.99" width="10.42" height="0.96" fill="#f6ec77"/>
<rect x="39.58" y="242.26" width="10.42" height="0.71" fill="#f8f197"/>
<rect x="18.75" y="308.2" width="31.25" height="0.92" fill="#f9f29f"/>
<rect x="29.17" y="329.31" width="10.42" height="0.65" fill="#f4e95e"/>
<rect x="18.75" y="241.09" width="10.42" height="0.79" fill="#f8f198"/>
<rect x="18.75" y="255.58" width="31.25" height="0.77" fill="#f6ed7a"/>
<rect x="29.17" y="284.99" width="20.83" height="0.52" fill="#f7ed80"/>
<rect x="39.58" y="325.95" width="10.42" height="0.83" fill="#f8f199"/>
<rect x="18.75" y="285.38" width="10.42" height="0.7" fill="#f3e751"/>
<rect x="29.17" y="328.28" width="10.42" height="0.82" fill="#f4e960"/>
<rect x="18.75" y="271.15" width="20.83" height="0.57" fill="#f9f3a5"/>
<rect x="39.58" y="324.12" width="10.42" height="0.61" fill="#f3e751"/>
<rect x="39.58" y="280.17" width="10.42" height="0.53" fill="#f3e751"/>
<rect x="39.58" y="282.18" width="10.42" height="0.5" fill="#f7ef88"/>
<rect x="18.75" y="303.14" width="10.42" height="0.97" fill="#f6ed7b"/>
<rect x="29.17" y="271.39" width="20.83" height="0.84" fill="#f7ee83"/>
<rect x="29.17" y="305.29" width="20.83" height="0.78" fill="#f5ea64"/>
<rect x="29.17" y="342.11" width="20.83" height="0.93" fill="#f8f19a"/>
<rect x="29.17" y="314.9" width="20.83" height="0.54" fill="#f7ef8b"/>
<rect x="39.58" y="330.5" width="10.42" height="0.73" fill="#f6ed7c"/>
<rect x="29.17" y="274.36" width="20.83" height="0.51" fill="#f8f199"/>
<rect x="39.58" y="328.92" width="10.42" height="0.71" fill="#f9f3a8"/>
<rect x="18.75" y="335.49" width="20.83" height="0.61" fill="#f6ed7b"/>
<rect x="29.17" y="265.18" width="20.83" height="0.81" fill="#f5eb6b"/>
<rect x="29.17" y="315.88" width="20.83" height="0.65" fill="#f5eb6e"/>
<rect x="39.58" y="329.27" width="10.42" height="0.8" fill="#f6ed7e"/>
<rect x="39.58" y="259.52" width="10.42" height="0.52" fill="#f3e750"/>
<rect x="18.75" y="244.85" width="10.42" height="0.74" fill="#f9f2a3"/>
<rect x="29.17" y="289.63" width="10.42" height="0.81" fill="#f9f2a3"/>
<rect x="29.17" y="288.76" width="10.42" height="0.83" fill="#f4e95d"/>
<rect x="18.75" y="280.84" width="10.42" height="0.58" fill="#f9f2a2"/>
<rect x="29.17" y="325.83" width="10.42" height="0.84" fill="#f8f095"/>
<rect x="18.75" y="244.09" width="10.42" height="0.68" fill="#f9f3a6"/>
<rect x="18.75" y="289.79" width="31.25" height="0.56" fill="#f9f3a8"/>
<rect x="39.58" y="287.93" width="10.42" height="1" fill="#f5e962"/>
<rect x="18.75" y="243.34" width="10.42" height="0.54" fill="#f5e961"/>
<rect x="18.75" y="311.49" width="31.25" height="0.68" fill="#f4e95c"/>
<rect x="18.75" y="257.73" width="31.25" height="0.84" fill="#f5e962"/>
<rect x="18.75" y="342.15" width="20.83" height="0.53" fill="#f3e64b"/>
<rect x="39.58" y="245.42" width="10.42" height="0.99" fill="#f7ee81"/>
<rect x="39.58" y="338.41" width="10.42" height="0.62" fill="#f8f091"/>
<rect x="29.17" y="289.74" width="10.42" height="0.82" fill="#f8ef8e"/>
<rect x="29.17" y="247" width="10.42" height="0.7" fill="#f5ea63"/>
<rect x="18.75" y="339.52" width="31.25" height="0.85" fill="#f4e95d"/>
<rect x="39.58" y="295.98" width="10.42" height="0.66" fill="#f4e752"/>
<rect x="18.75" y="343.16" width="10.42" height="0.54" fill="#f4e85a"/>
<rect x="39.58" y="242.56" width="10.42" height="0.74" fill="#f7ed80"/>
<rect x="29.17" y="254.55" width="20.83" height="0.88" fill="#f3e64b"/>
<rect x="39.58" y="326.66" width="10.42" height="0.56" fill="#f4e960"/>
<rect x="29.17" y="321.82" width="10.42" height="0.7" fill="#f5ea64"/>
<rect x="18.75" y="249.27" width="10.42" height="0.54" fill="#f5e962"/>
<rect x="18.75" y="269.42" width="31.25" height="0.62" fill="#f6ed7b"/>
<rect x="39.58" y="270.48" width="10.42" height="0.55" fill="#f5eb6f"/>
<rect x="29.17" y="320.71" width="20.83" height="0.64" fill="#f3e64a"/>
<rect x="18.75" y="286.71" width="10.42" height="0.83" fill="#f8f19b"/>
<rect x="18.75" y="268.58" width="31.25" height="0.69" fill="#f8f19b"/>
<rect x="18.75" y="272.6" width="10.42" height="0.75" fill="#f4e858"/>
<rect x="29.17" y="247.35" width="10.42" height="0.78" fill="#f8f196"/>
<rect x="18.75" y="341.53" width="10.42" height="0.72" fill="#f8f19c"/>
<rect x="18.75" y="264.77" width="31.25" height="0.68" fill="#f6ec75"/>
<rect x="29.17" y="257.72" width="10.42" height="0.58" fill="#f7ef88"/>
<rect x="18.75" y="303.74" width="10.42" height="0.57" fill="#f7ef89"/>
<rect x="29.17" y="273.71" width="20.83" height="0.73" fill="#f9f3a5"/>
<rect x="29.17" y="245.78" width="10.42" height="0.58" fill="#f7ef8c"/>
<rect x="29.17" y="251.52" width="20.83" height="0.71" fill="#f8f19b"/>
<rect x="18.75" y="240.86" width="10.42" height="0.62" fill="#f9f2a4"/>
<rect x="29.17" y="263.16" width="20.83" height="0.6" fill="#f5ea66"/>
<rect x="39.58" y="320.23" width="10.42" height="0.68" fill="#f8f198"/>
<rect x="18.75" y="335.18" width="31.25" height="0.75" fill="#f3e750"/>
<rect x="29.17" y="327.2" width="10.42" height="0.52" fill="#f6ed7b"/>
<rect x="18.75" y="319.09" width="10.42" height="0.96" fill="#f5ea66"/>
<rect x="29.17" y="289.62" width="10.42" height="0.55" fill="#f7ed7f"/>
<rect x="18.75" y="241.8" width="10.42" height="0.79" fill="#f6ed7d"/>
<rect x="18.75" y="311.22" width="20.83" height="0.76" fill="#f7ee87"/>
<rect x="39.58" y="313.86" width="10.42" height="0.99" fill="#f6eb72"/>
<rect x="18.75" y="310.41" width="31.25" height="0.9" fill="#f7ed7f"/>
<rect x="29.17" y="320.79" width="20.83" height="0.64" fill="#f4e95f"/>
<rect x="18.75" y="277.74" width="10.42" height="0.88" fill="#f7ee84"/>
<rect x="39.58" y="341.44" width="10.42" height="0.96" fill="#f3e64b"/>
<rect x="18.75" y="319.07" width="10.42" height="0.98" fill="#f7ef8d"/>
<rect x="18.75" y="317.53" width="31.25" height="0.6" fill="#f7ee87"/>
<rect x="39.58" y="253.33" width="10.42" height="0.89" fill="#f5eb6c"/>
<rect x="29.17" y="241.06" width="10.42" height="0.59" fill="#f6eb71"/>
<rect x="39.58" y="262.29" width="10.42" height="0.66" fill="#f7ef8d"/>
<rect x="29.17" y="312.35" width="10.42" height="0.86" fill="#f7ee81"/>
<rect x="29.17" y="251.15" width="10.42" height="0.9" fill="#f5ea67"/>
<rect x="39.58" y="339.55" width="10.42" height="0.71" fill="#f4e752"/>
<rect x="18.75" y="247.27" width="10.42" height="0.92" fill="#f7ee82"/>
<rect x="29.17" y="284.97" width="20.83" height="0.95" fill="#f6ed7f"/>
<rect x="29.17" y="249.53" width="10.42" height="0.67" fill="#f9f2a3"/>
<rect x="29.17" y="252.77" width="10.42" height="0.8" fill="#f7ee82"/>
<rect x="18.75" y="274.64" width="10.42" height="0.89" fill="#f4e754"/>
<rect x="29.17" y="291.13" width="20.83" height="0.98" fill="#f9f19d"/>
<rect x="29.17" y="289.4" width="10.42" height="0.95" fill="#f6eb70"/>
<rect x="18.75" y="328.06" width="31.25" height="0.84" fill="#f3e64a"/>
<rect x="18.75" y="256.55" width="10.42" height="0.55" fill="#f7ee87"/>
<rect x="18.75" y="324.3" width="31.25" height="0.96" fill="#f8f091"/>
<rect x="18.75" y="251.49" width="31.25" height="0.53" fill="#f4e754"/>
<rect x="18.75" y="258.72" width="10.42" height="0.99" fill="#f9f2a3"/>
<rect x="18.75" y="338.61" width="10.42" height="0.5" fill="#f6ec78"/>
<rect x="29.17" y="241.09" width="20.83" height="0.67" fill="#f6eb70"/>
<rect x="39.58" y="319.73" width="10.42" height="0.65" fill="#f8f092"/>
<rect x="18.75" y="318.81" width="31.25" height="0.67" fill="#f4e95d"/>
<rect x="18.75" y="292.6" width="10.42" height="0.89" fill="#f8f08f"/>
<rect x="39.58" y="283.17" width="10.42" height="0.53" fill="#f9f3a8"/>
<rect x="29.17" y="284.49" width="10.42" height="0.83" fill="#f5e962"/>
<rect x="18.75" y="341.32" width="10.42" height="0.72" fill="#f7ee81"/>
<rect x="18.75" y="280.9" width="10.42" height="0.55" fill="#f9f3a7"/>
<rect x="29.17" y="249.44" width="10.42" height="0.57" fill="#f8f19b"/>
<rect x="18.75" y="299.2" width="10.42" height="0.93" fill="#f9f3a9"/>
<rect x="18.75" y="263.47" width="10.42" height="0.72" fill="#f9f3ab"/>
<rect x="29.17" y="340.14" width="10.42" height="0.92" fill="#f7ee86"/>
<rect x="29.17" y="246.26" width="10.42" height="0.89" fill="#f6eb71"/>
<rect x="18.75" y="309.46" width="31.25" height="0.79" fill="#f7ef88"/>
<rect x="18.75" y="320.75" width="10.42" height="0.94" fill="#f6ec73"/>
<rect x="29.17" y="344.6" width="20.83" height="0.95" fill="#f8f095"/>
<rect x="18.75" y="260.58" width="10.42" height="0.54" fill="#f9f19d"/>
<rect x="29.17" y="284.56" width="10.42" height="0.73" fill="#f5ea65"/>
<rect x="29.17" y="306.59" width="10.42" height="0.88" fill="#f8f197"/>
<rect x="18.75" y="280.37" width="10.42" height="0.94" fill="#f9f2a3"/>
<rect x="18.75" y="292.08" width="31.25" height="0.73" fill="#f5ea6a"/>
<rect x="29.17" y="336.4" width="10.42" height="0.52" fill="#f9f3a7"/>
<rect x="18.75" y="254.4" width="20.83" height="0.67" fill="#f7ef8b"/>
<rect x="18.75" y="294.63" width="10.42" height="0.85" fill="#f9f3ab"/>
<rect x="18.75" y="251.75" width="10.42" height="0.65" fill="#f6eb72"/>
<rect x="29.17" y="286.84" width="10.42" height="0.98" fill="#f9f2a1"/>
<rect x="18.75" y="297.44" width="10.42" height="0.57" fill="#f8f093"/>
<rect x="29.17" y="242.33" width="20.83" height="0.62" fill="#f4e95f"/>
<rect x="18.75" y="246.58" width="31.25" height="0.52" fill="#f6ed7c"/>
<rect x="18.75" y="298.73" width="31.25" height="0.55" fill="#f6ec76"/>
<rect x="18.75" y="295.85" width="20.83" height="0.97" fill="#f8f091"/>
<rect x="29.17" y="258.07" width="20.83" height="0.54" fill="#f9f3a7"/>
<rect x="29.17" y="262.79" width="10.42" height="0.55" fill="#f7ef88"/>
<rect x="39.58" y="298.1" width="10.42" height="0.57" fill="#f8f19d"/>
<rect x="29.17" y="241.15" width="10.42" height="0.78" fill="#f7ee82"/>
<rect x="18.75" y="249.89" width="10.42" height="0.57" fill="#f5eb6c"/>
<rect x="29.17" y="269.41" width="10.42" height="0.87" fill="#f8f198"/>
<rect x="29.17" y="243.33" width="10.42" height="0.58" fill="#f5e963"/>
<rect x="18.75" y="331.73" width="20.83" height="0.92" fill="#f9f3a5"/>
<rect x="39.58" y="246.15" width="10.42" height="0.78" fill="#f8f094"/>
<rect x="18.75" y="312.86" width="10.42" height="0.84" fill="#f7ee87"/>
<rect x="39.58" y="301.96" width="10.42" height="0.86" fill="#f4e856"/>
<rect x="39.58" y="300.73" width="10.42" height="0.85" fill="#f7ed7f"/>
<rect x="39.58" y="311.86" width="10.42" height="0.53" fill="#f4e753"/>
<rect x="29.17" y="295.27" width="10.42" height="0.92" fill="#f7ed80"/>
<rect x="29.17" y="282.86" width="20.83" height="0.73" fill="#f5ea68"/>
<rect x="29.17" y="319.57" width="10.42" height="0.95" fill="#f6ed7d"/>
<rect x="29.17" y="308.94" width="10.42" height="0.66" fill="#f9f3a8"/>
<rect x="39.58" y="249.92" width="10.42" height="0.54" fill="#f5eb6d"/>
<rect x="29.17" y="294.61" width="10.42" height="0.6" fill="#f6eb71"/>
<rect x="60.42" y="292.95" width="10.42" height="0.67" fill="#a2a9d4"/>
<rect x="50" y="268.59" width="10.42" height="0.77" fill="#6b76b9"/>
<rect x="50" y="309.6" width="10.42" height="0.89" fill="#616db5"/>
<rect x="60.42" y="251.96" width="10.42" height="0.68" fill="#4d5aab"/>
<rect x="70.83" y="306.17" width="10.42" height="0.98" fill="#7d87c2"/>
<rect x="50" y="250.72" width="20.83" height="0.64" fill="#9aa2d0"/>
<rect x="70.83" y="321.46" width="10.42" height="0.59" fill="#717cbc"/>
<rect x="60.42" y="283.2" width="20.83" height="0.55" fill="#5663b0"/>
<rect x="50" y="275.8" width="10.42" height="0.7" fill="#aab1d7"/>
<rect x="50" y="259.48" width="10.42" height="0.9" fill="#a3aad4"/>
<rect x="70.83" y="288.75" width="10.42" height="0.71" fill="#3544a0"/>
<rect x="70.83" y="308.48" width="10.42" height="0.66" fill="#828cc4"/>
<rect x="60.42" y="251.43" width="20.83" height="0.56" fill="#8d96ca"/>
<rect x="70.83" y="308.81" width="10.42" height="0.69" fill="#808ac3"/>
<rect x="50" y="298.02" width="10.42" height="0.71" fill="#a7aed6"/>
<rect x="50" y="254.65" width="31.25" height="0.59" fill="#7f89c3"/>
<rect x="50" y="325.04" width="10.42" height="0.57" fill="#6f7abb"/>
<rect x="50" y="272.6" width="31.25" height="0.9" fill="#727dbd"/>
<rect x="70.83" y="270.29" width="10.42" height="0.63" fill="#8a93c8"/>
<rect x="60.42" y="314.55" width="10.42" height="0.8" fill="#3848a2"/>
<rect x="50" y="251.42" width="31.25" height="0.57" fill="#aab1d7"/>
<rect x="50" y="267.47" width="31.25" height="0.84" fill="#6772b8"/>
<rect x="70.83" y="271.72" width="10.42" height="0.81" fill="#9ca4d1"/>
<rect x="70.83" y="315.66" width="10.42" height="0.88" fill="#3b4aa3"/>
<rect x="60.42" y="290.78" width="10.42" height="0.94" fill="#979fce"/>
<rect x="60.42" y="275.45" width="20.83" height="0.57" fill="#9ba3d0"/>
<rect x="60.42" y="279.26" width="10.42" height="0.64" fill="#8e96ca"/>
<rect x="50" y="240.86" width="31.25" height="0.66" fill="#a3aad4"/>
<rect x="60.42" y="327.83" width="20.83" height="0.67" fill="#828bc4"/>
<rect x="70.83" y="274.83" width="10.42" height="0.89" fill="#838dc5"/>
<rect x="50" y="292.16" width="10.42" height="0.9" fill="#2c3c9c"/>
<rect x="60.42" y="296.39" width="20.83" height="0.56" fill="#6974b8"/>
<rect x="50" y="258.51" width="10.42" height="0.83" fill="#6c77ba"/>
<rect x="60.42" y="307.77" width="20.83" height="0.64" fill="#4957aa"/>
<rect x="50" y="265.27" width="10.42" height="0.97" fill="#3444a0"/>
<rect x="60.42" y="272.6" width="10.42" height="0.69" fill="#8992c8"/>
<rect x="70.83" y="324.41" width="10.42" height="0.86" fill="#8f98cb"/>
<rect x="60.42" y="241.03" width="10.42" height="0.73" fill="#626eb5"/>
<rect x="50" y="288.37" width="20.83" height="0.9" fill="#646fb6"/>
<rect x="60.42" y="248.5" width="10.42" height="0.85" fill="#8d96ca"/>
<rect x="50" y="304.58" width="31.25" height="0.93" fill="#8790c7"/>
<rect x="70.83" y="308.46" width="10.42" height="0.75" fill="#6470b6"/>
<rect x="50" y="296.27" width="20.83" height="0.59" fill="#9ca4d1"/>
<rect x="60.42" y="285.31" width="10.42" height="0.86" fill="#525fae"/>
<rect x="60.42" y="320.98" width="10.42" height="0.69" fill="#3a49a3"/>
<rect x="18.75" y="228.03" width="10.42" height="0.7" fill="#3f4ea5"/>
<rect x="18.75" y="230.47" width="10.42" height="0.84" fill="#3444a0"/>
<rect x="39.58" y="221.84" width="10.42" height="0.71" fill="#3645a1"/>
<rect x="18.75" y="231.19" width="31.25" height="0.87" fill="#4f5cac"/>
<text x="82" y="248.8" font-size="8.3">Row max</text>
<rect x="95" y="253" width="6" height="60.3" fill="url(#gy)"/>
<text x="83" y="322" font-size="8.3">Row min</text>
<text x="152" y="203" font-size="8.3" text-anchor="middle">Metabolomics</text>
<text x="121" y="214.3" font-size="7.6">Vehicle</text>
<text x="153" y="214.3" font-size="7.6">ONC201</text>
<rect x="118.75" y="218.75" width="64.25" height="127.5" fill="#fff"/>
<rect x="118.9" y="218.75" width="10.41" height="3.01" fill="#3847a2"/>
<rect x="129.61" y="218.75" width="10.41" height="3.01" fill="#3443a0"/>
<rect x="140.32" y="218.75" width="10.41" height="3.01" fill="#3847a2"/>
<rect x="151.03" y="218.75" width="10.41" height="3.01" fill="#ef2f33"/>
<rect x="161.73" y="218.75" width="10.41" height="3.01" fill="#ef2f33"/>
<rect x="172.44" y="218.75" width="10.41" height="3.01" fill="#f04043"/>
<rect x="118.9" y="221.82" width="10.41" height="2.95" fill="#3a49a3"/>
<rect x="129.61" y="221.82" width="10.41" height="2.95" fill="#414fa6"/>
<rect x="140.32" y="221.82" width="10.41" height="2.95" fill="#31409e"/>
<rect x="151.03" y="221.82" width="10.41" height="2.95" fill="#ef2e31"/>
<rect x="161.73" y="221.82" width="10.41" height="2.95" fill="#ef2d30"/>
<rect x="172.44" y="221.82" width="10.41" height="2.95" fill="#f1474a"/>
<rect x="118.9" y="224.83" width="10.41" height="2.95" fill="#3a49a2"/>
<rect x="129.61" y="224.83" width="10.41" height="2.95" fill="#4c59ab"/>
<rect x="140.32" y="224.83" width="10.41" height="2.95" fill="#31419e"/>
<rect x="151.03" y="224.83" width="10.41" height="2.95" fill="#ef2c30"/>
<rect x="161.73" y="224.83" width="10.41" height="2.95" fill="#ef2d30"/>
<rect x="172.44" y="224.83" width="10.41" height="2.95" fill="#f25053"/>
<rect x="118.9" y="227.83" width="10.41" height="2.95" fill="#3948a2"/>
<rect x="129.61" y="227.83" width="10.41" height="2.95" fill="#4d5aab"/>
<rect x="140.32" y="227.83" width="10.41" height="2.95" fill="#3645a1"/>
<rect x="151.03" y="227.83" width="10.41" height="2.95" fill="#ef3135"/>
<rect x="161.73" y="227.83" width="10.41" height="2.95" fill="#ef3034"/>
<rect x="172.44" y="227.83" width="10.41" height="2.95" fill="#f14c4f"/>
<rect x="118.9" y="230.84" width="10.41" height="2.95" fill="#3b4aa3"/>
<rect x="129.61" y="230.84" width="10.41" height="2.95" fill="#3848a2"/>
<rect x="140.32" y="230.84" width="10.41" height="2.95" fill="#3444a0"/>
<rect x="151.03" y="230.84" width="10.41" height="2.95" fill="#f47073"/>
<rect x="161.73" y="230.84" width="10.41" height="2.95" fill="#ef2d31"/>
<rect x="172.44" y="230.84" width="10.41" height="2.95" fill="#f14649"/>
<rect x="118.9" y="233.85" width="10.41" height="2.95" fill="#3b4aa3"/>
<rect x="129.61" y="233.85" width="10.41" height="2.95" fill="#3544a0"/>
<rect x="140.32" y="233.85" width="10.41" height="2.95" fill="#3847a2"/>
<rect x="151.03" y="233.85" width="10.41" height="2.95" fill="#f46e71"/>
<rect x="161.73" y="233.85" width="10.41" height="2.95" fill="#ee262a"/>
<rect x="172.44" y="233.85" width="10.41" height="2.95" fill="#f25154"/>
<rect x="118.9" y="236.86" width="10.41" height="2.95" fill="#33429f"/>
<rect x="129.61" y="236.86" width="10.41" height="2.95" fill="#3746a1"/>
<rect x="140.32" y="236.86" width="10.41" height="2.95" fill="#3847a1"/>
<rect x="151.03" y="236.86" width="10.41" height="2.95" fill="#f47072"/>
<rect x="161.73" y="236.86" width="10.41" height="2.95" fill="#ee2024"/>
<rect x="172.44" y="236.86" width="10.41" height="2.95" fill="#f1484b"/>
<rect x="118.9" y="239.87" width="10.41" height="2.95" fill="#2e3e9d"/>
<rect x="129.61" y="239.87" width="10.41" height="2.95" fill="#3948a2"/>
<rect x="140.32" y="239.87" width="10.41" height="2.95" fill="#3b4aa3"/>
<rect x="151.03" y="239.87" width="10.41" height="2.95" fill="#f3676a"/>
<rect x="161.73" y="239.87" width="10.41" height="2.95" fill="#ee2125"/>
<rect x="172.44" y="239.87" width="10.41" height="2.95" fill="#f14b4e"/>
<rect x="118.9" y="242.87" width="10.41" height="2.95" fill="#4250a6"/>
<rect x="129.61" y="242.87" width="10.41" height="2.95" fill="#4755a9"/>
<rect x="140.32" y="242.87" width="10.41" height="2.95" fill="#4957a9"/>
<rect x="151.03" y="242.87" width="10.41" height="2.95" fill="#f36264"/>
<rect x="161.73" y="242.87" width="10.41" height="2.95" fill="#ee262a"/>
<rect x="172.44" y="242.87" width="10.41" height="2.95" fill="#f14d50"/>
<rect x="118.9" y="245.88" width="10.41" height="2.95" fill="#3e4ca4"/>
<rect x="129.61" y="245.88" width="10.41" height="2.95" fill="#505dad"/>
<rect x="140.32" y="245.88" width="10.41" height="2.95" fill="#505ead"/>
<rect x="151.03" y="245.88" width="10.41" height="2.95" fill="#f46f72"/>
<rect x="161.73" y="245.88" width="10.41" height="2.95" fill="#ef3034"/>
<rect x="172.44" y="245.88" width="10.41" height="2.95" fill="#f14d50"/>
<rect x="118.9" y="248.89" width="10.41" height="2.95" fill="#4c59ab"/>
<rect x="129.61" y="248.89" width="10.41" height="2.95" fill="#515ead"/>
<rect x="140.32" y="248.89" width="10.41" height="2.95" fill="#4553a8"/>
<rect x="151.03" y="248.89" width="10.41" height="2.95" fill="#f3676a"/>
<rect x="161.73" y="248.89" width="10.41" height="2.95" fill="#ef3033"/>
<rect x="172.44" y="248.89" width="10.41" height="2.95" fill="#f14346"/>
<rect x="118.9" y="251.9" width="10.41" height="2.95" fill="#4250a6"/>
<rect x="129.61" y="251.9" width="10.41" height="2.95" fill="#4c5aab"/>
<rect x="140.32" y="251.9" width="10.41" height="2.95" fill="#4e5bac"/>
<rect x="151.03" y="251.9" width="10.41" height="2.95" fill="#f4696b"/>
<rect x="161.73" y="251.9" width="10.41" height="2.95" fill="#ef3135"/>
<rect x="172.44" y="251.9" width="10.41" height="2.95" fill="#ef2b2f"/>
<rect x="118.9" y="254.91" width="10.41" height="2.95" fill="#3b4aa3"/>
<rect x="129.61" y="254.91" width="10.41" height="2.95" fill="#3e4da5"/>
<rect x="140.32" y="254.91" width="10.41" height="2.95" fill="#3847a2"/>
<rect x="151.03" y="254.91" width="10.41" height="2.95" fill="#f36063"/>
<rect x="161.73" y="254.91" width="10.41" height="2.95" fill="#ef272b"/>
<rect x="172.44" y="254.91" width="10.41" height="2.95" fill="#ef2a2d"/>
<rect x="118.9" y="257.91" width="10.41" height="2.95" fill="#2f3e9d"/>
<rect x="129.61" y="257.91" width="10.41" height="2.95" fill="#3b4aa3"/>
<rect x="140.32" y="257.91" width="10.41" height="2.95" fill="#3545a0"/>
<rect x="151.03" y="257.91" width="10.41" height="2.95" fill="#f47073"/>
<rect x="161.73" y="257.91" width="10.41" height="2.95" fill="#ef3033"/>
<rect x="172.44" y="257.91" width="10.41" height="2.95" fill="#ef292c"/>
<rect x="118.9" y="260.92" width="10.41" height="2.95" fill="#2e3e9d"/>
<rect x="129.61" y="260.92" width="10.41" height="2.95" fill="#3645a1"/>
<rect x="140.32" y="260.92" width="10.41" height="2.95" fill="#3c4ba4"/>
<rect x="151.03" y="260.92" width="10.41" height="2.95" fill="#f3676a"/>
<rect x="161.73" y="260.92" width="10.41" height="2.95" fill="#ee2125"/>
<rect x="172.44" y="260.92" width="10.41" height="2.95" fill="#ef3337"/>
<rect x="118.9" y="263.93" width="10.41" height="2.95" fill="#3847a2"/>
<rect x="129.61" y="263.93" width="10.41" height="2.95" fill="#404ea5"/>
<rect x="140.32" y="263.93" width="10.41" height="2.95" fill="#3847a2"/>
<rect x="151.03" y="263.93" width="10.41" height="2.95" fill="#f46e71"/>
<rect x="161.73" y="263.93" width="10.41" height="2.95" fill="#ee2629"/>
<rect x="172.44" y="263.93" width="10.41" height="2.95" fill="#ef2a2e"/>
<rect x="118.9" y="266.94" width="10.41" height="2.95" fill="#3b4aa3"/>
<rect x="129.61" y="266.94" width="10.41" height="2.95" fill="#3948a2"/>
<rect x="140.32" y="266.94" width="10.41" height="2.95" fill="#3746a1"/>
<rect x="151.03" y="266.94" width="10.41" height="2.95" fill="#f36063"/>
<rect x="161.73" y="266.94" width="10.41" height="2.95" fill="#ef292d"/>
<rect x="172.44" y="266.94" width="10.41" height="2.95" fill="#ef3236"/>
<rect x="118.9" y="269.95" width="10.41" height="2.95" fill="#33429f"/>
<rect x="129.61" y="269.95" width="10.41" height="2.95" fill="#3443a0"/>
<rect x="140.32" y="269.95" width="10.41" height="2.95" fill="#3a49a3"/>
<rect x="151.03" y="269.95" width="10.41" height="2.95" fill="#f46f72"/>
<rect x="161.73" y="269.95" width="10.41" height="2.95" fill="#ee2226"/>
<rect x="172.44" y="269.95" width="10.41" height="2.95" fill="#ee2327"/>
<rect x="118.9" y="272.96" width="10.41" height="2.95" fill="#31419f"/>
<rect x="129.61" y="272.96" width="10.41" height="2.95" fill="#31409e"/>
<rect x="140.32" y="272.96" width="10.41" height="2.95" fill="#3b4aa3"/>
<rect x="151.03" y="272.96" width="10.41" height="2.95" fill="#f36669"/>
<rect x="161.73" y="272.96" width="10.41" height="2.95" fill="#ef3134"/>
<rect x="172.44" y="272.96" width="10.41" height="2.95" fill="#ee2428"/>
<rect x="118.9" y="275.96" width="10.41" height="2.95" fill="#2c3c9c"/>
<rect x="129.61" y="275.96" width="10.41" height="2.95" fill="#33429f"/>
<rect x="140.32" y="275.96" width="10.41" height="2.95" fill="#33439f"/>
<rect x="151.03" y="275.96" width="10.41" height="2.95" fill="#f4696b"/>
<rect x="161.73" y="275.96" width="10.41" height="2.95" fill="#ef2b2e"/>
<rect x="172.44" y="275.96" width="10.41" height="2.95" fill="#ef2f32"/>
<rect x="118.9" y="278.97" width="10.41" height="2.95" fill="#2c3c9c"/>
<rect x="129.61" y="278.97" width="10.41" height="2.95" fill="#4856a9"/>
<rect x="140.32" y="278.97" width="10.41" height="2.95" fill="#4856a9"/>
<rect x="151.03" y="278.97" width="10.41" height="2.95" fill="#ef272b"/>
<rect x="161.73" y="278.97" width="10.41" height="2.95" fill="#ef2a2e"/>
<rect x="172.44" y="278.97" width="10.41" height="2.95" fill="#ee262a"/>
<rect x="118.9" y="281.98" width="10.41" height="2.95" fill="#31419e"/>
<rect x="129.61" y="281.98" width="10.41" height="2.95" fill="#727dbd"/>
<rect x="140.32" y="281.98" width="10.41" height="2.95" fill="#5562af"/>
<rect x="151.03" y="281.98" width="10.41" height="2.95" fill="#ef2c2f"/>
<rect x="161.73" y="281.98" width="10.41" height="2.95" fill="#f03438"/>
<rect x="172.44" y="281.98" width="10.41" height="2.95" fill="#f57a7d"/>
<rect x="118.9" y="284.99" width="10.41" height="2.95" fill="#31409e"/>
<rect x="129.61" y="284.99" width="10.41" height="2.95" fill="#959dcd"/>
<rect x="140.32" y="284.99" width="10.41" height="2.95" fill="#4b59ab"/>
<rect x="151.03" y="284.99" width="10.41" height="2.95" fill="#ef2a2d"/>
<rect x="161.73" y="284.99" width="10.41" height="2.95" fill="#f03438"/>
<rect x="172.44" y="284.99" width="10.41" height="2.95" fill="#f03f43"/>
<rect x="118.9" y="288" width="10.41" height="2.95" fill="#3847a2"/>
<rect x="129.61" y="288" width="10.41" height="2.95" fill="#3a49a3"/>
<rect x="140.32" y="288" width="10.41" height="2.95" fill="#3545a0"/>
<rect x="151.03" y="288" width="10.41" height="2.95" fill="#f8a2a3"/>
<rect x="161.73" y="288" width="10.41" height="2.95" fill="#fac4c5"/>
<rect x="172.44" y="288" width="10.41" height="2.95" fill="#f36063"/>
<rect x="118.9" y="291" width="10.41" height="2.95" fill="#3444a0"/>
<rect x="129.61" y="291" width="10.41" height="2.95" fill="#7a84c1"/>
<rect x="140.32" y="291" width="10.41" height="2.95" fill="#3f4ea5"/>
<rect x="151.03" y="291" width="10.41" height="2.95" fill="#f03539"/>
<rect x="161.73" y="291" width="10.41" height="2.95" fill="#f68b8d"/>
<rect x="172.44" y="291" width="10.41" height="2.95" fill="#ef3034"/>
<rect x="118.9" y="294.01" width="10.41" height="2.95" fill="#3747a1"/>
<rect x="129.61" y="294.01" width="10.41" height="2.95" fill="#969ece"/>
<rect x="140.32" y="294.01" width="10.41" height="2.95" fill="#5e6bb4"/>
<rect x="151.03" y="294.01" width="10.41" height="2.95" fill="#ee2529"/>
<rect x="161.73" y="294.01" width="10.41" height="2.95" fill="#f9aeb0"/>
<rect x="172.44" y="294.01" width="10.41" height="2.95" fill="#ee2226"/>
<rect x="118.9" y="297.02" width="10.41" height="2.95" fill="#3545a0"/>
<rect x="129.61" y="297.02" width="10.41" height="2.95" fill="#5360ae"/>
<rect x="140.32" y="297.02" width="10.41" height="2.95" fill="#6672b7"/>
<rect x="151.03" y="297.02" width="10.41" height="2.95" fill="#ee2327"/>
<rect x="161.73" y="297.02" width="10.41" height="2.95" fill="#f57578"/>
<rect x="172.44" y="297.02" width="10.41" height="2.95" fill="#fde9e9"/>
<rect x="118.9" y="300.03" width="10.41" height="2.95" fill="#2c3c9c"/>
<rect x="129.61" y="300.03" width="10.41" height="2.95" fill="#bec3e0"/>
<rect x="140.32" y="300.03" width="10.41" height="2.95" fill="#717bbc"/>
<rect x="151.03" y="300.03" width="10.41" height="2.95" fill="#ee262a"/>
<rect x="161.73" y="300.03" width="10.41" height="2.95" fill="#f03538"/>
<rect x="172.44" y="300.03" width="10.41" height="2.95" fill="#f57d7f"/>
<rect x="118.9" y="303.04" width="10.41" height="2.95" fill="#3948a2"/>
<rect x="129.61" y="303.04" width="10.41" height="2.95" fill="#f1f2f8"/>
<rect x="140.32" y="303.04" width="10.41" height="2.95" fill="#4e5cac"/>
<rect x="151.03" y="303.04" width="10.41" height="2.95" fill="#ee2428"/>
<rect x="161.73" y="303.04" width="10.41" height="2.95" fill="#ef2c30"/>
<rect x="172.44" y="303.04" width="10.41" height="2.95" fill="#feeded"/>
<rect x="118.9" y="306.04" width="10.41" height="2.95" fill="#303f9e"/>
<rect x="129.61" y="306.04" width="10.41" height="2.95" fill="#3f4da5"/>
<rect x="140.32" y="306.04" width="10.41" height="2.95" fill="#3c4ba4"/>
<rect x="151.03" y="306.04" width="10.41" height="2.95" fill="#ee2024"/>
<rect x="161.73" y="306.04" width="10.41" height="2.95" fill="#f68a8c"/>
<rect x="172.44" y="306.04" width="10.41" height="2.95" fill="#ef2e32"/>
<rect x="118.9" y="309.05" width="10.41" height="2.95" fill="#32419f"/>
<rect x="129.61" y="309.05" width="10.41" height="2.95" fill="#32419f"/>
<rect x="140.32" y="309.05" width="10.41" height="2.95" fill="#b2b8db"/>
<rect x="151.03" y="309.05" width="10.41" height="2.95" fill="#ef292d"/>
<rect x="161.73" y="309.05" width="10.41" height="2.95" fill="#ef282c"/>
<rect x="172.44" y="309.05" width="10.41" height="2.95" fill="#ef282c"/>
<rect x="118.9" y="312.06" width="10.41" height="3.05" fill="#ee2529"/>
<rect x="129.61" y="312.06" width="10.41" height="3.05" fill="#ee2529"/>
<rect x="140.32" y="312.06" width="10.41" height="3.05" fill="#ee2327"/>
<rect x="151.03" y="312.06" width="10.41" height="3.05" fill="#3a49a2"/>
<rect x="161.73" y="312.06" width="10.41" height="3.05" fill="#3645a1"/>
<rect x="172.44" y="312.06" width="10.41" height="3.05" fill="#3948a2"/>
<rect x="118.9" y="315.17" width="10.41" height="3.05" fill="#ee262a"/>
<rect x="129.61" y="315.17" width="10.41" height="3.05" fill="#ef3034"/>
<rect x="140.32" y="315.17" width="10.41" height="3.05" fill="#ee262a"/>
<rect x="151.03" y="315.17" width="10.41" height="3.05" fill="#3a49a3"/>
<rect x="161.73" y="315.17" width="10.41" height="3.05" fill="#404ea5"/>
<rect x="172.44" y="315.17" width="10.41" height="3.05" fill="#3847a1"/>
<rect x="118.9" y="318.29" width="10.41" height="3.05" fill="#f0373b"/>
<rect x="129.61" y="318.29" width="10.41" height="3.05" fill="#f14b4e"/>
<rect x="140.32" y="318.29" width="10.41" height="3.05" fill="#f03438"/>
<rect x="151.03" y="318.29" width="10.41" height="3.05" fill="#3c4ba3"/>
<rect x="161.73" y="318.29" width="10.41" height="3.05" fill="#3e4da5"/>
<rect x="172.44" y="318.29" width="10.41" height="3.05" fill="#3443a0"/>
<rect x="118.9" y="321.4" width="10.41" height="3.05" fill="#ef2a2e"/>
<rect x="129.61" y="321.4" width="10.41" height="3.05" fill="#ef282c"/>
<rect x="140.32" y="321.4" width="10.41" height="3.05" fill="#f4696c"/>
<rect x="151.03" y="321.4" width="10.41" height="3.05" fill="#4553a8"/>
<rect x="161.73" y="321.4" width="10.41" height="3.05" fill="#3e4da5"/>
<rect x="172.44" y="321.4" width="10.41" height="3.05" fill="#3645a1"/>
<rect x="118.9" y="324.51" width="10.41" height="3.05" fill="#ef3336"/>
<rect x="129.61" y="324.51" width="10.41" height="3.05" fill="#ee2529"/>
<rect x="140.32" y="324.51" width="10.41" height="3.05" fill="#f03a3d"/>
<rect x="151.03" y="324.51" width="10.41" height="3.05" fill="#4f5cac"/>
<rect x="161.73" y="324.51" width="10.41" height="3.05" fill="#404fa6"/>
<rect x="172.44" y="324.51" width="10.41" height="3.05" fill="#33429f"/>
<rect x="118.9" y="327.63" width="10.41" height="3.05" fill="#f57b7e"/>
<rect x="129.61" y="327.63" width="10.41" height="3.05" fill="#ee262a"/>
<rect x="140.32" y="327.63" width="10.41" height="3.05" fill="#f68f91"/>
<rect x="151.03" y="327.63" width="10.41" height="3.05" fill="#4e5bac"/>
<rect x="161.73" y="327.63" width="10.41" height="3.05" fill="#3444a0"/>
<rect x="172.44" y="327.63" width="10.41" height="3.05" fill="#32429f"/>
<rect x="118.9" y="330.74" width="10.41" height="3.05" fill="#fabfc0"/>
<rect x="129.61" y="330.74" width="10.41" height="3.05" fill="#ef3337"/>
<rect x="140.32" y="330.74" width="10.41" height="3.05" fill="#f03f42"/>
<rect x="151.03" y="330.74" width="10.41" height="3.05" fill="#4856a9"/>
<rect x="161.73" y="330.74" width="10.41" height="3.05" fill="#3c4ba4"/>
<rect x="172.44" y="330.74" width="10.41" height="3.05" fill="#30409e"/>
<rect x="118.9" y="333.86" width="10.41" height="3.05" fill="#f8a8aa"/>
<rect x="129.61" y="333.86" width="10.41" height="3.05" fill="#ef3033"/>
<rect x="140.32" y="333.86" width="10.41" height="3.05" fill="#f57f81"/>
<rect x="151.03" y="333.86" width="10.41" height="3.05" fill="#4150a6"/>
<rect x="161.73" y="333.86" width="10.41" height="3.05" fill="#3948a2"/>
<rect x="172.44" y="333.86" width="10.41" height="3.05" fill="#3443a0"/>
<rect x="118.9" y="336.97" width="10.41" height="3.05" fill="#f35f62"/>
<rect x="129.61" y="336.97" width="10.41" height="3.05" fill="#ef3033"/>
<rect x="140.32" y="336.97" width="10.41" height="3.05" fill="#ef2c30"/>
<rect x="151.03" y="336.97" width="10.41" height="3.05" fill="#aab0d7"/>
<rect x="161.73" y="336.97" width="10.41" height="3.05" fill="#3d4ca4"/>
<rect x="172.44" y="336.97" width="10.41" height="3.05" fill="#3847a1"/>
<rect x="118.9" y="340.08" width="10.41" height="3.05" fill="#ee2024"/>
<rect x="129.61" y="340.08" width="10.41" height="3.05" fill="#fff9f9"/>
<rect x="140.32" y="340.08" width="10.41" height="3.05" fill="#f79092"/>
<rect x="151.03" y="340.08" width="10.41" height="3.05" fill="#3c4ba3"/>
<rect x="161.73" y="340.08" width="10.41" height="3.05" fill="#3747a1"/>
<rect x="172.44" y="340.08" width="10.41" height="3.05" fill="#3544a0"/>
<rect x="118.9" y="343.2" width="10.41" height="3.05" fill="#ee2226"/>
<rect x="129.61" y="343.2" width="10.41" height="3.05" fill="#fffbfb"/>
<rect x="140.32" y="343.2" width="10.41" height="3.05" fill="#f9aaac"/>
<rect x="151.03" y="343.2" width="10.41" height="3.05" fill="#32429f"/>
<rect x="161.73" y="343.2" width="10.41" height="3.05" fill="#3e4da4"/>
<rect x="172.44" y="343.2" width="10.41" height="3.05" fill="#32429f"/>
<text x="185" y="248.8" font-size="8.3">Row max</text>
<rect x="198" y="255" width="5.8" height="59.5" fill="url(#gr)"/>
<text x="185" y="322" font-size="8.3">Row min</text>
<text x="233.5" y="197.5" font-size="10.5" font-weight="bold">D</text>
<path d="M263.8 198.68 L267.12 202 L263.8 205.32 L260.48 202 Z" fill="#8e1b8e"/>
<text x="270.8" y="205" font-size="8.3">DIPG007</text>
<path d="M320 198.2 L323.2 203.96 L316.8 203.96 Z" fill="#7d7d7d"/>
<text x="325.8" y="205" font-size="8.3">QCTB-R059</text>
<circle cx="380" cy="202" r="3.1" fill="#169a94"/>
<text x="387.5" y="205" font-size="8.3">DIPG-XIII*P</text>
<circle cx="436.3" cy="216.3" r="2.5" fill="#3a4aa8"/>
<text x="442" y="218.9" font-size="8.3">Vehicle</text>
<circle cx="436.3" cy="226.5" r="2.5" fill="#e8392e"/>
<text x="442" y="229.2" font-size="8.3">ONC201 (5 µmol/L)</text>
<circle cx="436.3" cy="237" r="2.5" fill="#f7c48c"/>
<text x="442" y="239.7" font-size="8.3">ONC201 (10 µmol/L)</text>
<rect x="259.5" y="238.11" width="12.4" height="28.14" fill="#8f9ed1" stroke="#5566b0" stroke-width="0.6"/>
<rect x="278.2" y="266.25" width="12.4" height="14.99" fill="#f28d85" stroke="#d8534a" stroke-width="0.6"/>
<rect x="296.9" y="266.25" width="12.4" height="16.57" fill="#fbc98c" stroke="#5a4020" stroke-width="0.6"/>
<rect x="315.6" y="233.38" width="12.4" height="32.88" fill="#8f9ed1" stroke="#5566b0" stroke-width="0.6"/>
<rect x="334.3" y="266.25" width="12.4" height="18.67" fill="#f28d85" stroke="#d8534a" stroke-width="0.6"/>
<rect x="353" y="266.25" width="12.4" height="14.46" fill="#fbc98c" stroke="#5a4020" stroke-width="0.6"/>
<rect x="371.7" y="235.22" width="12.4" height="31.03" fill="#8f9ed1" stroke="#5566b0" stroke-width="0.6"/>
<rect x="390.4" y="266.25" width="12.4" height="18.94" fill="#f28d85" stroke="#d8534a" stroke-width="0.6"/>
<rect x="409.1" y="266.25" width="12.4" height="13.15" fill="#fbc98c" stroke="#5a4020" stroke-width="0.6"/>
<line x1="253.25" y1="266.25" x2="426" y2="266.25" stroke="#555" stroke-width="0.6"/>
<path d="M261.58 247.02 L263.34 250.19 L259.82 250.19 Z" fill="#7d7d7d"/>
<path d="M267.85 219.87 L269.61 223.03 L266.09 223.03 Z" fill="#7d7d7d"/>
<path d="M266.74 224.22 L268.5 227.38 L264.98 227.38 Z" fill="#7d7d7d"/>
<path d="M263.29 227.1 L265.05 230.27 L261.53 230.27 Z" fill="#7d7d7d"/>
<path d="M264.54 255.13 L266.34 256.93 L264.54 258.74 L262.73 256.93 Z" fill="#8e1b8e"/>
<path d="M267.41 249.38 L269.21 251.19 L267.41 252.99 L265.6 251.19 Z" fill="#8e1b8e"/>
<path d="M265.81 226.56 L267.62 228.36 L265.81 230.17 L264.01 228.36 Z" fill="#8e1b8e"/>
<path d="M263.32 237.31 L265.13 239.11 L263.32 240.92 L261.52 239.11 Z" fill="#8e1b8e"/>
<path d="M265.51 232.69 L267.32 234.5 L265.51 236.3 L263.71 234.5 Z" fill="#8e1b8e"/>
<path d="M261.82 234.46 L263.63 236.26 L261.82 238.07 L260.02 236.26 Z" fill="#8e1b8e"/>
<path d="M268.33 247.57 L270.14 249.38 L268.33 251.18 L266.53 249.38 Z" fill="#8e1b8e"/>
<circle cx="269.55" cy="252.61" r="1.9" fill="#169a94"/>
<circle cx="265.56" cy="244.87" r="1.9" fill="#169a94"/>
<circle cx="264.16" cy="255.84" r="1.9" fill="#169a94"/>
<circle cx="261.53" cy="250.41" r="1.9" fill="#169a94"/>
<circle cx="264.52" cy="223.25" r="1.9" fill="#169a94"/>
<circle cx="268.56" cy="251.55" r="1.9" fill="#169a94"/>
<circle cx="262.24" cy="239.38" r="1.9" fill="#169a94"/>
<circle cx="266.17" cy="240.96" r="1.9" fill="#169a94"/>
<path d="M265.7 282.07 L267.5 283.87 L265.7 285.68 L263.89 283.87 Z" fill="#8e1b8e"/>
<line x1="265.7" y1="252.57" x2="265.7" y2="222.86" stroke="#27348a" stroke-width="0.75"/>
<line x1="263.1" y1="252.57" x2="268.3" y2="252.57" stroke="#27348a" stroke-width="0.75"/>
<line x1="263.1" y1="222.86" x2="268.3" y2="222.86" stroke="#27348a" stroke-width="0.75"/>
<path d="M280.91 272.59 L282.67 275.76 L279.15 275.76 Z" fill="#7d7d7d"/>
<path d="M284.6 276.59 L286.36 279.76 L282.84 279.76 Z" fill="#7d7d7d"/>
<path d="M282.77 276.89 L284.53 280.06 L281.01 280.06 Z" fill="#7d7d7d"/>
<path d="M281.33 274.08 L283.14 275.89 L281.33 277.69 L279.53 275.89 Z" fill="#8e1b8e"/>
<path d="M288.74 275.32 L290.55 277.13 L288.74 278.93 L286.94 277.13 Z" fill="#8e1b8e"/>
<path d="M282.76 277.58 L284.57 279.38 L282.76 281.19 L280.96 279.38 Z" fill="#8e1b8e"/>
<path d="M280.53 282.83 L282.34 284.63 L280.53 286.44 L278.73 284.63 Z" fill="#8e1b8e"/>
<path d="M288.49 279.78 L290.3 281.59 L288.49 283.39 L286.69 281.59 Z" fill="#8e1b8e"/>
<path d="M282.29 277.76 L284.1 279.56 L282.29 281.37 L280.49 279.56 Z" fill="#8e1b8e"/>
<circle cx="282.89" cy="275.89" r="1.9" fill="#169a94"/>
<circle cx="281.47" cy="274.95" r="1.9" fill="#169a94"/>
<circle cx="281.42" cy="282.07" r="1.9" fill="#169a94"/>
<circle cx="281.34" cy="280.15" r="1.9" fill="#169a94"/>
<circle cx="284.58" cy="284.27" r="1.9" fill="#169a94"/>
<circle cx="285.54" cy="277.62" r="1.9" fill="#169a94"/>
<circle cx="288.27" cy="276.65" r="1.9" fill="#169a94"/>
<circle cx="282.4" cy="299.91" r="1.9" fill="#169a94"/>
<path d="M285.9 294.69 L287.7 296.5 L285.9 298.3 L284.09 296.5 Z" fill="#8e1b8e"/>
<line x1="284.4" y1="290.45" x2="284.4" y2="274.14" stroke="#222" stroke-width="0.75"/>
<line x1="281.8" y1="290.45" x2="287" y2="290.45" stroke="#222" stroke-width="0.75"/>
<line x1="281.8" y1="274.14" x2="287" y2="274.14" stroke="#222" stroke-width="0.75"/>
<text transform="translate(281.8 261.95) rotate(-59)" font-size="5.5" fill="#111"><tspan font-style="italic">P</tspan> &lt; 0.0001</text>
<path d="M304.45 282.56 L306.21 285.73 L302.69 285.73 Z" fill="#7d7d7d"/>
<path d="M299.04 275.59 L300.8 278.76 L297.28 278.76 Z" fill="#7d7d7d"/>
<path d="M304.41 273.91 L306.17 277.08 L302.65 277.08 Z" fill="#7d7d7d"/>
<path d="M299.96 282.49 L301.72 285.65 L298.2 285.65 Z" fill="#7d7d7d"/>
<path d="M299.12 275.4 L300.92 277.2 L299.12 279.01 L297.31 277.2 Z" fill="#8e1b8e"/>
<path d="M298.91 276.38 L300.72 278.18 L298.91 279.99 L297.11 278.18 Z" fill="#8e1b8e"/>
<path d="M302.15 281.23 L303.96 283.03 L302.15 284.84 L300.35 283.03 Z" fill="#8e1b8e"/>
<path d="M306.28 280.76 L308.08 282.57 L306.28 284.37 L304.47 282.57 Z" fill="#8e1b8e"/>
<path d="M302.27 278.97 L304.07 280.78 L302.27 282.58 L300.46 280.78 Z" fill="#8e1b8e"/>
<circle cx="306.72" cy="280.24" r="1.9" fill="#169a94"/>
<circle cx="305.55" cy="281.61" r="1.9" fill="#169a94"/>
<circle cx="302.91" cy="275.19" r="1.9" fill="#169a94"/>
<circle cx="299.85" cy="280.33" r="1.9" fill="#169a94"/>
<circle cx="299.85" cy="279.01" r="1.9" fill="#169a94"/>
<circle cx="299.98" cy="281.65" r="1.9" fill="#169a94"/>
<circle cx="306.69" cy="274.7" r="1.9" fill="#169a94"/>
<path d="M303.1 217.89 L304.9 219.7 L303.1 221.5 L301.29 219.7 Z" fill="#8e1b8e"/>
<path d="M303.1 252.61 L304.9 254.41 L303.1 256.22 L301.29 254.41 Z" fill="#8e1b8e"/>
<path d="M303.6 297.32 L305.4 299.12 L303.6 300.93 L301.79 299.12 Z" fill="#8e1b8e"/>
<circle cx="303.1" cy="313.06" r="1.9" fill="#169a94"/>
<path d="M303.1 289.48 L304.86 292.64 L301.34 292.64 Z" fill="#7d7d7d"/>
<path d="M303.6 293.42 L305.36 296.59 L301.84 296.59 Z" fill="#7d7d7d"/>
<line x1="303.1" y1="305.7" x2="303.1" y2="260.99" stroke="#222" stroke-width="0.75"/>
<line x1="300.5" y1="305.7" x2="305.7" y2="305.7" stroke="#222" stroke-width="0.75"/>
<line x1="300.5" y1="260.99" x2="305.7" y2="260.99" stroke="#222" stroke-width="0.75"/>
<text transform="translate(300.2 249.65) rotate(-59)" font-size="5.5" fill="#111"><tspan font-style="italic">P</tspan> &lt; 0.0001</text>
<path d="M322.89 222.58 L324.65 225.75 L321.13 225.75 Z" fill="#7d7d7d"/>
<path d="M322.74 225.85 L324.5 229.02 L320.98 229.02 Z" fill="#7d7d7d"/>
<path d="M325.02 240.23 L326.78 243.4 L323.26 243.4 Z" fill="#7d7d7d"/>
<path d="M324 239.73 L325.76 242.9 L322.24 242.9 Z" fill="#7d7d7d"/>
<path d="M320.87 221.18 L322.67 222.99 L320.87 224.79 L319.06 222.99 Z" fill="#8e1b8e"/>
<path d="M318.58 241.26 L320.38 243.06 L318.58 244.87 L316.77 243.06 Z" fill="#8e1b8e"/>
<path d="M318.98 234.8 L320.79 236.61 L318.98 238.41 L317.18 236.61 Z" fill="#8e1b8e"/>
<path d="M318.37 242.92 L320.18 244.73 L318.37 246.53 L316.57 244.73 Z" fill="#8e1b8e"/>
<path d="M320.04 237.69 L321.84 239.5 L320.04 241.3 L318.23 239.5 Z" fill="#8e1b8e"/>
<path d="M324.61 225.94 L326.41 227.75 L324.61 229.55 L322.8 227.75 Z" fill="#8e1b8e"/>
<path d="M324.38 228.69 L326.18 230.49 L324.38 232.3 L322.57 230.49 Z" fill="#8e1b8e"/>
<circle cx="319.5" cy="227.89" r="1.9" fill="#169a94"/>
<circle cx="325.66" cy="245.11" r="1.9" fill="#169a94"/>
<circle cx="324.01" cy="233.91" r="1.9" fill="#169a94"/>
<circle cx="325.08" cy="236.84" r="1.9" fill="#169a94"/>
<circle cx="322.4" cy="236.58" r="1.9" fill="#169a94"/>
<circle cx="323.84" cy="242.62" r="1.9" fill="#169a94"/>
<circle cx="319.4" cy="225.18" r="1.9" fill="#169a94"/>
<circle cx="322.75" cy="222.44" r="1.9" fill="#169a94"/>
<line x1="321.8" y1="239.95" x2="321.8" y2="226.8" stroke="#27348a" stroke-width="0.75"/>
<line x1="319.2" y1="239.95" x2="324.4" y2="239.95" stroke="#27348a" stroke-width="0.75"/>
<line x1="319.2" y1="226.8" x2="324.4" y2="226.8" stroke="#27348a" stroke-width="0.75"/>
<path d="M338.03 285.99 L339.79 289.16 L336.27 289.16 Z" fill="#7d7d7d"/>
<path d="M339.98 283.88 L341.74 287.05 L338.22 287.05 Z" fill="#7d7d7d"/>
<path d="M339.5 284.98 L341.26 288.15 L337.74 288.15 Z" fill="#7d7d7d"/>
<path d="M339.2 280.95 L341 282.76 L339.2 284.56 L337.39 282.76 Z" fill="#8e1b8e"/>
<path d="M344.94 286.67 L346.74 288.47 L344.94 290.28 L343.13 288.47 Z" fill="#8e1b8e"/>
<path d="M336.68 288.5 L338.49 290.3 L336.68 292.11 L334.88 290.3 Z" fill="#8e1b8e"/>
<path d="M340.03 282.83 L341.84 284.64 L340.03 286.44 L338.23 284.64 Z" fill="#8e1b8e"/>
<path d="M343.33 288.79 L345.13 290.6 L343.33 292.4 L341.52 290.6 Z" fill="#8e1b8e"/>
<path d="M336.18 284.04 L337.98 285.84 L336.18 287.65 L334.37 285.84 Z" fill="#8e1b8e"/>
<circle cx="344.67" cy="285.75" r="1.9" fill="#169a94"/>
<circle cx="342.34" cy="289.09" r="1.9" fill="#169a94"/>
<circle cx="340.38" cy="287.89" r="1.9" fill="#169a94"/>
<circle cx="338.13" cy="287.28" r="1.9" fill="#169a94"/>
<circle cx="339.91" cy="290.81" r="1.9" fill="#169a94"/>
<circle cx="342.51" cy="284.14" r="1.9" fill="#169a94"/>
<circle cx="340.32" cy="290.49" r="1.9" fill="#169a94"/>
<line x1="340.5" y1="286.24" x2="340.5" y2="283.61" stroke="#222" stroke-width="0.75"/>
<line x1="337.9" y1="286.24" x2="343.1" y2="286.24" stroke="#222" stroke-width="0.75"/>
<line x1="337.9" y1="283.61" x2="343.1" y2="283.61" stroke="#222" stroke-width="0.75"/>
<text transform="translate(336.9 261.25) rotate(-59)" font-size="5.5" fill="#111"><tspan font-style="italic">P</tspan> &lt; 0.0001</text>
<path d="M363.19 283.94 L364.95 287.11 L361.43 287.11 Z" fill="#7d7d7d"/>
<path d="M363.3 284.96 L365.06 288.13 L361.54 288.13 Z" fill="#7d7d7d"/>
<path d="M358.86 281.63 L360.62 284.79 L357.1 284.79 Z" fill="#7d7d7d"/>
<path d="M363.37 281.15 L365.18 282.95 L363.37 284.76 L361.57 282.95 Z" fill="#8e1b8e"/>
<path d="M354.76 280.28 L356.56 282.09 L354.76 283.89 L352.95 282.09 Z" fill="#8e1b8e"/>
<path d="M356.01 283.43 L357.81 285.23 L356.01 287.04 L354.2 285.23 Z" fill="#8e1b8e"/>
<path d="M357.51 283.84 L359.31 285.65 L357.51 287.45 L355.7 285.65 Z" fill="#8e1b8e"/>
<path d="M355.42 282.57 L357.22 284.38 L355.42 286.18 L353.61 284.38 Z" fill="#8e1b8e"/>
<circle cx="360.47" cy="285.53" r="1.9" fill="#169a94"/>
<circle cx="360.83" cy="286.48" r="1.9" fill="#169a94"/>
<circle cx="360.08" cy="286.24" r="1.9" fill="#169a94"/>
<circle cx="356.55" cy="283.59" r="1.9" fill="#169a94"/>
<circle cx="357.05" cy="283.7" r="1.9" fill="#169a94"/>
<circle cx="362.31" cy="285.95" r="1.9" fill="#169a94"/>
<circle cx="357.6" cy="282.29" r="1.9" fill="#169a94"/>
<path d="M359.2 214.47 L361 216.28 L359.2 218.09 L357.39 216.28 Z" fill="#8e1b8e"/>
<path d="M361.2 255.29 L362.96 258.45 L359.44 258.45 Z" fill="#7d7d7d"/>
<path d="M359.2 289.43 L361 291.24 L359.2 293.04 L357.39 291.24 Z" fill="#8e1b8e"/>
<line x1="359.2" y1="297.28" x2="359.2" y2="264.41" stroke="#222" stroke-width="0.75"/>
<line x1="356.6" y1="297.28" x2="361.8" y2="297.28" stroke="#222" stroke-width="0.75"/>
<line x1="356.6" y1="264.41" x2="361.8" y2="264.41" stroke="#222" stroke-width="0.75"/>
<text transform="translate(356 259.45) rotate(-59)" font-size="5.5" fill="#111"><tspan font-style="italic">P</tspan> &lt; 0.0001</text>
<path d="M373.43 237.5 L375.19 240.67 L371.67 240.67 Z" fill="#7d7d7d"/>
<path d="M376.18 223.28 L377.94 226.45 L374.42 226.45 Z" fill="#7d7d7d"/>
<path d="M375.11 219.29 L376.87 222.45 L373.35 222.45 Z" fill="#7d7d7d"/>
<path d="M377.29 221.13 L379.05 224.29 L375.53 224.29 Z" fill="#7d7d7d"/>
<path d="M378.54 243.68 L380.3 246.85 L376.78 246.85 Z" fill="#7d7d7d"/>
<path d="M376.71 222.29 L378.51 224.09 L376.71 225.9 L374.9 224.09 Z" fill="#8e1b8e"/>
<path d="M382.32 235.07 L384.12 236.87 L382.32 238.68 L380.51 236.87 Z" fill="#8e1b8e"/>
<path d="M374.73 220.19 L376.54 221.99 L374.73 223.8 L372.93 221.99 Z" fill="#8e1b8e"/>
<path d="M375.34 219.17 L377.14 220.98 L375.34 222.78 L373.53 220.98 Z" fill="#8e1b8e"/>
<path d="M374.29 229.86 L376.1 231.67 L374.29 233.47 L372.49 231.67 Z" fill="#8e1b8e"/>
<path d="M377.37 236.62 L379.18 238.43 L377.37 240.23 L375.57 238.43 Z" fill="#8e1b8e"/>
<path d="M378.62 246.4 L380.43 248.21 L378.62 250.01 L376.82 248.21 Z" fill="#8e1b8e"/>
<path d="M379.07 238.06 L380.87 239.87 L379.07 241.67 L377.26 239.87 Z" fill="#8e1b8e"/>
<circle cx="377.88" cy="245.87" r="1.9" fill="#169a94"/>
<circle cx="381.34" cy="237.85" r="1.9" fill="#169a94"/>
<circle cx="378.57" cy="243.08" r="1.9" fill="#169a94"/>
<circle cx="380.89" cy="237.29" r="1.9" fill="#169a94"/>
<circle cx="378.66" cy="225.55" r="1.9" fill="#169a94"/>
<circle cx="374.06" cy="230.55" r="1.9" fill="#169a94"/>
<circle cx="379.32" cy="220.55" r="1.9" fill="#169a94"/>
<circle cx="380.53" cy="236.32" r="1.9" fill="#169a94"/>
<line x1="377.9" y1="242.58" x2="377.9" y2="228.12" stroke="#27348a" stroke-width="0.75"/>
<line x1="375.3" y1="242.58" x2="380.5" y2="242.58" stroke="#27348a" stroke-width="0.75"/>
<line x1="375.3" y1="228.12" x2="380.5" y2="228.12" stroke="#27348a" stroke-width="0.75"/>
<path d="M396.62 287.3 L398.38 290.47 L394.86 290.47 Z" fill="#7d7d7d"/>
<path d="M395.02 286.01 L396.78 289.18 L393.26 289.18 Z" fill="#7d7d7d"/>
<path d="M400.69 287.46 L402.45 290.63 L398.93 290.63 Z" fill="#7d7d7d"/>
<path d="M397.37 287.62 L399.17 289.42 L397.37 291.23 L395.56 289.42 Z" fill="#8e1b8e"/>
<path d="M399.2 286.9 L401.01 288.71 L399.2 290.51 L397.4 288.71 Z" fill="#8e1b8e"/>
<path d="M395.27 286.37 L397.08 288.17 L395.27 289.98 L393.47 288.17 Z" fill="#8e1b8e"/>
<path d="M393.89 287.06 L395.7 288.87 L393.89 290.67 L392.09 288.87 Z" fill="#8e1b8e"/>
<path d="M395.33 287.17 L397.13 288.98 L395.33 290.78 L393.52 288.98 Z" fill="#8e1b8e"/>
<path d="M392.39 286.12 L394.2 287.92 L392.39 289.73 L390.59 287.92 Z" fill="#8e1b8e"/>
<circle cx="399.88" cy="287.43" r="1.9" fill="#169a94"/>
<circle cx="397.56" cy="285.85" r="1.9" fill="#169a94"/>
<circle cx="392.27" cy="287.66" r="1.9" fill="#169a94"/>
<circle cx="395.42" cy="290.31" r="1.9" fill="#169a94"/>
<circle cx="392.6" cy="288.68" r="1.9" fill="#169a94"/>
<circle cx="397.88" cy="286.45" r="1.9" fill="#169a94"/>
<circle cx="397.93" cy="286.15" r="1.9" fill="#169a94"/>
<line x1="396.6" y1="286.76" x2="396.6" y2="283.61" stroke="#222" stroke-width="0.75"/>
<line x1="394" y1="286.76" x2="399.2" y2="286.76" stroke="#222" stroke-width="0.75"/>
<line x1="394" y1="283.61" x2="399.2" y2="283.61" stroke="#222" stroke-width="0.75"/>
<text transform="translate(392 259.95) rotate(-59)" font-size="5.5" fill="#111"><tspan font-style="italic">P</tspan> &lt; 0.0001</text>
<path d="M412.96 279.78 L414.72 282.95 L411.2 282.95 Z" fill="#7d7d7d"/>
<path d="M418.6 281.98 L420.36 285.14 L416.84 285.14 Z" fill="#7d7d7d"/>
<path d="M413.97 282.64 L415.73 285.81 L412.21 285.81 Z" fill="#7d7d7d"/>
<path d="M419.57 286.44 L421.38 288.24 L419.57 290.05 L417.77 288.24 Z" fill="#8e1b8e"/>
<path d="M419.4 281.05 L421.2 282.86 L419.4 284.66 L417.59 282.86 Z" fill="#8e1b8e"/>
<path d="M414.51 283.51 L416.32 285.31 L414.51 287.12 L412.71 285.31 Z" fill="#8e1b8e"/>
<path d="M415.43 286.03 L417.24 287.84 L415.43 289.64 L413.63 287.84 Z" fill="#8e1b8e"/>
<path d="M414.85 285.48 L416.65 287.29 L414.85 289.09 L413.04 287.29 Z" fill="#8e1b8e"/>
<circle cx="419.72" cy="286.51" r="1.9" fill="#169a94"/>
<circle cx="415.59" cy="287.96" r="1.9" fill="#169a94"/>
<circle cx="419.75" cy="284.65" r="1.9" fill="#169a94"/>
<circle cx="417.48" cy="283.11" r="1.9" fill="#169a94"/>
<circle cx="412.25" cy="287.19" r="1.9" fill="#169a94"/>
<circle cx="419.39" cy="281.53" r="1.9" fill="#169a94"/>
<circle cx="419.66" cy="282.97" r="1.9" fill="#169a94"/>
<circle cx="415.3" cy="276.77" r="1.9" fill="#169a94"/>
<line x1="415.3" y1="297.81" x2="415.3" y2="261.52" stroke="#222" stroke-width="0.75"/>
<line x1="412.7" y1="297.81" x2="417.9" y2="297.81" stroke="#222" stroke-width="0.75"/>
<line x1="412.7" y1="261.52" x2="417.9" y2="261.52" stroke="#222" stroke-width="0.75"/>
<text transform="translate(411.8 256.75) rotate(-59)" font-size="5.5" fill="#111"><tspan font-style="italic">P</tspan> &lt; 0.0001</text>
<line x1="253.25" y1="208" x2="253.25" y2="323.75" stroke="#555" stroke-width="0.65"/>
<line x1="253.25" y1="323.75" x2="426" y2="323.75" stroke="#555" stroke-width="0.65"/>
<line x1="249.05" y1="213.65" x2="253.25" y2="213.65" stroke="#555" stroke-width="0.65"/>
<text x="247.45" y="216.65" font-size="8.3" text-anchor="end">2</text>
<line x1="249.05" y1="239.95" x2="253.25" y2="239.95" stroke="#555" stroke-width="0.65"/>
<text x="247.45" y="242.95" font-size="8.3" text-anchor="end">1</text>
<line x1="249.05" y1="266.25" x2="253.25" y2="266.25" stroke="#555" stroke-width="0.65"/>
<text x="247.45" y="269.25" font-size="8.3" text-anchor="end">0</text>
<line x1="249.05" y1="292.55" x2="253.25" y2="292.55" stroke="#555" stroke-width="0.65"/>
<text x="247.45" y="295.55" font-size="8.3" text-anchor="end">−1</text>
<line x1="249.05" y1="318.85" x2="253.25" y2="318.85" stroke="#555" stroke-width="0.65"/>
<text x="247.45" y="321.85" font-size="8.3" text-anchor="end">−2</text>
<line x1="265.7" y1="320.55" x2="265.7" y2="323.75" stroke="#555" stroke-width="0.65"/>
<line x1="284.4" y1="320.55" x2="284.4" y2="323.75" stroke="#555" stroke-width="0.65"/>
<line x1="303.1" y1="320.55" x2="303.1" y2="323.75" stroke="#555" stroke-width="0.65"/>
<line x1="321.8" y1="320.55" x2="321.8" y2="323.75" stroke="#555" stroke-width="0.65"/>
<line x1="340.5" y1="320.55" x2="340.5" y2="323.75" stroke="#555" stroke-width="0.65"/>
<line x1="359.2" y1="320.55" x2="359.2" y2="323.75" stroke="#555" stroke-width="0.65"/>
<line x1="377.9" y1="320.55" x2="377.9" y2="323.75" stroke="#555" stroke-width="0.65"/>
<line x1="396.6" y1="320.55" x2="396.6" y2="323.75" stroke="#555" stroke-width="0.65"/>
<line x1="415.3" y1="320.55" x2="415.3" y2="323.75" stroke="#555" stroke-width="0.65"/>
<text transform="translate(236.3 280.7) rotate(-90)" font-size="8.3">Z-score</text>
<text x="284.3" y="333" font-size="8.3" text-anchor="middle">Nonglycolytic</text>
<text x="284.3" y="343" font-size="8.3" text-anchor="middle">acidification</text>
<text x="340.3" y="333" font-size="8.3" text-anchor="middle">Glycolysis</text>
<text x="396.3" y="333" font-size="8.3" text-anchor="middle">Glycolytic</text>
<text x="396.3" y="343" font-size="8.3" text-anchor="middle">capacity</text>
<text x="11.2" y="367.5" font-size="10.5" font-weight="bold">E</text>
<path d="M51.3 368.68 L54.62 372 L51.3 375.32 L47.97 372 Z" fill="#8e1b8e"/>
<text x="58.8" y="375" font-size="8.3">DIPG007</text>
<path d="M107.5 368.2 L110.7 373.96 L104.3 373.96 Z" fill="#7d7d7d"/>
<text x="113.8" y="375" font-size="8.3">QCTB-R059</text>
<circle cx="177.5" cy="372" r="3.1" fill="#169a94"/>
<text x="185" y="375" font-size="8.3">DIPG-XIII*P</text>
<circle cx="234.5" cy="377.5" r="2.5" fill="#3a4aa8"/>
<text x="241.3" y="380.2" font-size="8.3">Vehicle</text>
<circle cx="234.5" cy="387.5" r="2.5" fill="#e8392e"/>
<text x="241.3" y="390.3" font-size="8.3">ONC201 (5 µmol/L)</text>
<circle cx="234.5" cy="398" r="2.5" fill="#f7c48c"/>
<text x="241.3" y="400.7" font-size="8.3">ONC201 (10 µmol/L)</text>
<rect x="35" y="402.54" width="10.5" height="31.46" fill="#8f9ed1" stroke="#5566b0" stroke-width="0.6"/>
<rect x="49.65" y="434" width="10.5" height="15.6" fill="#f28d85" stroke="#d8534a" stroke-width="0.6"/>
<rect x="64.3" y="434" width="10.5" height="19.24" fill="#fbc98c" stroke="#5a4020" stroke-width="0.6"/>
<rect x="78.95" y="401.24" width="10.5" height="32.76" fill="#8f9ed1" stroke="#5566b0" stroke-width="0.6"/>
<rect x="93.6" y="434" width="10.5" height="18.2" fill="#f28d85" stroke="#d8534a" stroke-width="0.6"/>
<rect x="108.25" y="434" width="10.5" height="19.24" fill="#fbc98c" stroke="#5a4020" stroke-width="0.6"/>
<rect x="122.9" y="406.96" width="10.5" height="27.04" fill="#8f9ed1" stroke="#5566b0" stroke-width="0.6"/>
<rect x="137.55" y="434" width="10.5" height="11.18" fill="#f28d85" stroke="#d8534a" stroke-width="0.6"/>
<rect x="152.2" y="434" width="10.5" height="20.02" fill="#fbc98c" stroke="#5a4020" stroke-width="0.6"/>
<rect x="166.85" y="402.54" width="10.5" height="31.46" fill="#8f9ed1" stroke="#5566b0" stroke-width="0.6"/>
<rect x="181.5" y="434" width="10.5" height="16.64" fill="#f28d85" stroke="#d8534a" stroke-width="0.6"/>
<rect x="196.15" y="434" width="10.5" height="18.72" fill="#fbc98c" stroke="#5a4020" stroke-width="0.6"/>
<rect x="210.8" y="401.76" width="10.5" height="32.24" fill="#8f9ed1" stroke="#5566b0" stroke-width="0.6"/>
<rect x="225.45" y="434" width="10.5" height="18.72" fill="#f28d85" stroke="#d8534a" stroke-width="0.6"/>
<rect x="240.1" y="434" width="10.5" height="18.2" fill="#fbc98c" stroke="#5a4020" stroke-width="0.6"/>
<line x1="30.5" y1="434" x2="255" y2="434" stroke="#555" stroke-width="0.6"/>
<path d="M38.28 403.31 L40.04 406.48 L36.52 406.48 Z" fill="#7d7d7d"/>
<path d="M37.75 403.09 L39.51 406.25 L35.99 406.25 Z" fill="#7d7d7d"/>
<path d="M38.86 399.74 L40.67 401.55 L38.86 403.35 L37.06 401.55 Z" fill="#8e1b8e"/>
<path d="M37.03 399.31 L38.84 401.12 L37.03 402.92 L35.23 401.12 Z" fill="#8e1b8e"/>
<path d="M39.1 395.66 L40.91 397.47 L39.1 399.27 L37.3 397.47 Z" fill="#8e1b8e"/>
<path d="M38.19 394.85 L40 396.65 L38.19 398.46 L36.39 396.65 Z" fill="#8e1b8e"/>
<circle cx="39.96" cy="396.96" r="1.9" fill="#169a94"/>
<circle cx="42.11" cy="400.23" r="1.9" fill="#169a94"/>
<circle cx="42.84" cy="401.01" r="1.9" fill="#169a94"/>
<circle cx="36.94" cy="398.83" r="1.9" fill="#169a94"/>
<circle cx="42.19" cy="406.32" r="1.9" fill="#169a94"/>
<circle cx="37.68" cy="395.98" r="1.9" fill="#169a94"/>
<circle cx="38.83" cy="396.56" r="1.9" fill="#169a94"/>
<path d="M40.25 407.5 L42.05 409.3 L40.25 411.11 L38.45 409.3 Z" fill="#8e1b8e"/>
<path d="M40.25 457.46 L42.01 460.63 L38.49 460.63 Z" fill="#7d7d7d"/>
<line x1="40.25" y1="417.1" x2="40.25" y2="387.72" stroke="#27348a" stroke-width="0.75"/>
<line x1="37.65" y1="417.1" x2="42.85" y2="417.1" stroke="#27348a" stroke-width="0.75"/>
<line x1="37.65" y1="387.72" x2="42.85" y2="387.72" stroke="#27348a" stroke-width="0.75"/>
<path d="M58.38 447.57 L60.14 450.74 L56.62 450.74 Z" fill="#7d7d7d"/>
<path d="M55.84 452.28 L57.6 455.45 L54.08 455.45 Z" fill="#7d7d7d"/>
<path d="M55.01 448.34 L56.77 451.51 L53.25 451.51 Z" fill="#7d7d7d"/>
<path d="M58.05 452.09 L59.86 453.89 L58.05 455.7 L56.25 453.89 Z" fill="#8e1b8e"/>
<path d="M53.57 448.66 L55.37 450.47 L53.57 452.27 L51.76 450.47 Z" fill="#8e1b8e"/>
<path d="M51.94 451.18 L53.74 452.99 L51.94 454.79 L50.13 452.99 Z" fill="#8e1b8e"/>
<path d="M56.87 446.82 L58.67 448.62 L56.87 450.43 L55.06 448.62 Z" fill="#8e1b8e"/>
<path d="M54.57 447.65 L56.38 449.45 L54.57 451.26 L52.77 449.45 Z" fill="#8e1b8e"/>
<circle cx="57.5" cy="452.89" r="1.9" fill="#169a94"/>
<circle cx="50.97" cy="451" r="1.9" fill="#169a94"/>
<circle cx="53.17" cy="448.66" r="1.9" fill="#169a94"/>
<circle cx="56.95" cy="454.36" r="1.9" fill="#169a94"/>
<circle cx="57.07" cy="453.83" r="1.9" fill="#169a94"/>
<circle cx="58.27" cy="448.24" r="1.9" fill="#169a94"/>
<circle cx="51.16" cy="451.19" r="1.9" fill="#169a94"/>
<line x1="54.9" y1="451.68" x2="54.9" y2="447.52" stroke="#222" stroke-width="0.75"/>
<line x1="52.3" y1="451.68" x2="57.5" y2="451.68" stroke="#222" stroke-width="0.75"/>
<line x1="52.3" y1="447.52" x2="57.5" y2="447.52" stroke="#222" stroke-width="0.75"/>
<text transform="translate(51.9 431.4) rotate(-59)" font-size="5.5" fill="#111"><tspan font-style="italic">P</tspan> &lt; 0.0001</text>
<path d="M65.71 449.21 L67.47 452.38 L63.95 452.38 Z" fill="#7d7d7d"/>
<path d="M69.19 450.16 L70.95 453.33 L67.43 453.33 Z" fill="#7d7d7d"/>
<path d="M66.24 450.55 L68 453.72 L64.48 453.72 Z" fill="#7d7d7d"/>
<path d="M70.24 452.9 L72 456.07 L68.48 456.07 Z" fill="#7d7d7d"/>
<path d="M69.21 450.16 L71.01 451.97 L69.21 453.77 L67.4 451.97 Z" fill="#8e1b8e"/>
<path d="M68.48 450.16 L70.28 451.97 L68.48 453.77 L66.67 451.97 Z" fill="#8e1b8e"/>
<path d="M67.34 450.96 L69.14 452.76 L67.34 454.57 L65.53 452.76 Z" fill="#8e1b8e"/>
<path d="M71.59 452.04 L73.39 453.85 L71.59 455.65 L69.78 453.85 Z" fill="#8e1b8e"/>
<circle cx="66.87" cy="452.91" r="1.9" fill="#169a94"/>
<circle cx="70.54" cy="455.11" r="1.9" fill="#169a94"/>
<circle cx="67.32" cy="450.59" r="1.9" fill="#169a94"/>
<circle cx="68.17" cy="450.91" r="1.9" fill="#169a94"/>
<circle cx="67.04" cy="455.79" r="1.9" fill="#169a94"/>
<circle cx="69.83" cy="455.37" r="1.9" fill="#169a94"/>
<circle cx="67.27" cy="453.97" r="1.9" fill="#169a94"/>
<path d="M69.55 471.19 L71.36 473 L69.55 474.81 L67.74 473 Z" fill="#8e1b8e"/>
<path d="M69.55 443.94 L71.31 447.11 L67.79 447.11 Z" fill="#7d7d7d"/>
<path d="M69.55 457.68 L71.36 459.48 L69.55 461.29 L67.74 459.48 Z" fill="#8e1b8e"/>
<line x1="69.55" y1="458.7" x2="69.55" y2="447.52" stroke="#222" stroke-width="0.75"/>
<line x1="66.95" y1="458.7" x2="72.15" y2="458.7" stroke="#222" stroke-width="0.75"/>
<line x1="66.95" y1="447.52" x2="72.15" y2="447.52" stroke="#222" stroke-width="0.75"/>
<text transform="translate(66.55 431.4) rotate(-59)" font-size="5.5" fill="#111"><tspan font-style="italic">P</tspan> &lt; 0.0001</text>
<path d="M84.74 399.3 L86.5 402.46 L82.98 402.46 Z" fill="#7d7d7d"/>
<path d="M86.89 396.49 L88.65 399.66 L85.13 399.66 Z" fill="#7d7d7d"/>
<path d="M83.5 395.14 L85.3 396.95 L83.5 398.75 L81.69 396.95 Z" fill="#8e1b8e"/>
<path d="M86.35 393.62 L88.15 395.42 L86.35 397.23 L84.54 395.42 Z" fill="#8e1b8e"/>
<path d="M85.59 393.94 L87.39 395.74 L85.59 397.55 L83.78 395.74 Z" fill="#8e1b8e"/>
<path d="M86.22 399.1 L88.03 400.91 L86.22 402.71 L84.42 400.91 Z" fill="#8e1b8e"/>
<circle cx="85.18" cy="405.01" r="1.9" fill="#169a94"/>
<circle cx="82.72" cy="396.82" r="1.9" fill="#169a94"/>
<circle cx="82.5" cy="397.3" r="1.9" fill="#169a94"/>
<circle cx="84.08" cy="397.01" r="1.9" fill="#169a94"/>
<circle cx="82.53" cy="400.49" r="1.9" fill="#169a94"/>
<circle cx="84.14" cy="401.54" r="1.9" fill="#169a94"/>
<circle cx="83.53" cy="404.92" r="1.9" fill="#169a94"/>
<path d="M84.2 386.74 L85.96 389.91 L82.44 389.91 Z" fill="#7d7d7d"/>
<path d="M84.2 453.04 L85.96 456.21 L82.44 456.21 Z" fill="#7d7d7d"/>
<line x1="84.2" y1="415.28" x2="84.2" y2="387.2" stroke="#27348a" stroke-width="0.75"/>
<line x1="81.6" y1="415.28" x2="86.8" y2="415.28" stroke="#27348a" stroke-width="0.75"/>
<line x1="81.6" y1="387.2" x2="86.8" y2="387.2" stroke="#27348a" stroke-width="0.75"/>
<path d="M99.86 451.81 L101.62 454.97 L98.1 454.97 Z" fill="#7d7d7d"/>
<path d="M100.66 448.33 L102.42 451.49 L98.9 451.49 Z" fill="#7d7d7d"/>
<path d="M96.59 447.96 L98.35 451.12 L94.83 451.12 Z" fill="#7d7d7d"/>
<path d="M97.97 450.66 L99.78 452.46 L97.97 454.27 L96.17 452.46 Z" fill="#8e1b8e"/>
<path d="M100.27 450.83 L102.07 452.64 L100.27 454.44 L98.46 452.64 Z" fill="#8e1b8e"/>
<path d="M95.24 448.18 L97.05 449.99 L95.24 451.79 L93.44 449.99 Z" fill="#8e1b8e"/>
<path d="M95.7 449.82 L97.51 451.63 L95.7 453.43 L93.9 451.63 Z" fill="#8e1b8e"/>
<path d="M101.47 448.85 L103.27 450.66 L101.47 452.46 L99.66 450.66 Z" fill="#8e1b8e"/>
<circle cx="94.96" cy="449.75" r="1.9" fill="#169a94"/>
<circle cx="96.15" cy="451.67" r="1.9" fill="#169a94"/>
<circle cx="101.65" cy="450.54" r="1.9" fill="#169a94"/>
<circle cx="96.17" cy="452.85" r="1.9" fill="#169a94"/>
<circle cx="96.84" cy="449.75" r="1.9" fill="#169a94"/>
<circle cx="95" cy="450.56" r="1.9" fill="#169a94"/>
<circle cx="98.33" cy="451.23" r="1.9" fill="#169a94"/>
<line x1="98.85" y1="453.24" x2="98.85" y2="451.16" stroke="#222" stroke-width="0.75"/>
<line x1="96.25" y1="453.24" x2="101.45" y2="453.24" stroke="#222" stroke-width="0.75"/>
<line x1="96.25" y1="451.16" x2="101.45" y2="451.16" stroke="#222" stroke-width="0.75"/>
<text transform="translate(95.85 431.4) rotate(-59)" font-size="5.5" fill="#111"><tspan font-style="italic">P</tspan> &lt; 0.0001</text>
<path d="M115.27 449.38 L117.03 452.54 L113.51 452.54 Z" fill="#7d7d7d"/>
<path d="M116.07 450.42 L117.83 453.59 L114.31 453.59 Z" fill="#7d7d7d"/>
<path d="M114.12 452.91 L115.88 456.08 L112.36 456.08 Z" fill="#7d7d7d"/>
<path d="M111.93 449.63 L113.74 451.43 L111.93 453.24 L110.13 451.43 Z" fill="#8e1b8e"/>
<path d="M115.38 449.74 L117.19 451.54 L115.38 453.35 L113.58 451.54 Z" fill="#8e1b8e"/>
<path d="M115.5 451.65 L117.31 453.45 L115.5 455.26 L113.7 453.45 Z" fill="#8e1b8e"/>
<path d="M109.97 452.63 L111.77 454.43 L109.97 456.24 L108.16 454.43 Z" fill="#8e1b8e"/>
<circle cx="110.47" cy="453.72" r="1.9" fill="#169a94"/>
<circle cx="111.02" cy="453.04" r="1.9" fill="#169a94"/>
<circle cx="111.19" cy="450.51" r="1.9" fill="#169a94"/>
<circle cx="114.83" cy="451.75" r="1.9" fill="#169a94"/>
<circle cx="115.63" cy="450.19" r="1.9" fill="#169a94"/>
<circle cx="111.18" cy="454.69" r="1.9" fill="#169a94"/>
<circle cx="110.83" cy="453.81" r="1.9" fill="#169a94"/>
<path d="M113.5 460.8 L115.31 462.6 L113.5 464.41 L111.69 462.6 Z" fill="#8e1b8e"/>
<line x1="113.5" y1="454.8" x2="113.5" y2="451.16" stroke="#222" stroke-width="0.75"/>
<line x1="110.9" y1="454.8" x2="116.1" y2="454.8" stroke="#222" stroke-width="0.75"/>
<line x1="110.9" y1="451.16" x2="116.1" y2="451.16" stroke="#222" stroke-width="0.75"/>
<text transform="translate(110.5 431.4) rotate(-59)" font-size="5.5" fill="#111"><tspan font-style="italic">P</tspan> &lt; 0.0001</text>
<path d="M130.19 410.67 L131.95 413.83 L128.43 413.83 Z" fill="#7d7d7d"/>
<path d="M124.69 414.22 L126.45 417.38 L122.93 417.38 Z" fill="#7d7d7d"/>
<path d="M130.02 413.84 L131.82 415.65 L130.02 417.45 L128.21 415.65 Z" fill="#8e1b8e"/>
<path d="M130.76 403.97 L132.56 405.78 L130.76 407.58 L128.95 405.78 Z" fill="#8e1b8e"/>
<path d="M126.94 419.76 L128.75 421.57 L126.94 423.37 L125.14 421.57 Z" fill="#8e1b8e"/>
<path d="M128.53 395.83 L130.33 397.64 L128.53 399.44 L126.72 397.64 Z" fill="#8e1b8e"/>
<path d="M127.96 418.77 L129.77 420.57 L127.96 422.38 L126.16 420.57 Z" fill="#8e1b8e"/>
<path d="M128.73 416.97 L130.54 418.78 L128.73 420.58 L126.93 418.78 Z" fill="#8e1b8e"/>
<circle cx="130.82" cy="398.82" r="1.9" fill="#169a94"/>
<circle cx="127.89" cy="399.64" r="1.9" fill="#169a94"/>
<circle cx="129.21" cy="409.13" r="1.9" fill="#169a94"/>
<circle cx="127.09" cy="416.36" r="1.9" fill="#169a94"/>
<circle cx="125.29" cy="419.2" r="1.9" fill="#169a94"/>
<circle cx="126.08" cy="406.4" r="1.9" fill="#169a94"/>
<circle cx="128.15" cy="380.18" r="1.9" fill="#169a94"/>
<circle cx="128.15" cy="434.52" r="1.9" fill="#169a94"/>
<path d="M128.15 472.54 L129.91 475.71 L126.39 475.71 Z" fill="#7d7d7d"/>
<line x1="128.15" y1="427.5" x2="128.15" y2="387.2" stroke="#27348a" stroke-width="0.75"/>
<line x1="125.55" y1="427.5" x2="130.75" y2="427.5" stroke="#27348a" stroke-width="0.75"/>
<line x1="125.55" y1="387.2" x2="130.75" y2="387.2" stroke="#27348a" stroke-width="0.75"/>
<path d="M144.63 437.19 L146.39 440.36 L142.87 440.36 Z" fill="#7d7d7d"/>
<path d="M141.97 447.52 L143.73 450.68 L140.21 450.68 Z" fill="#7d7d7d"/>
<path d="M145.64 436.31 L147.4 439.47 L143.88 439.47 Z" fill="#7d7d7d"/>
<path d="M144.89 448.4 L146.69 450.21 L144.89 452.01 L143.08 450.21 Z" fill="#8e1b8e"/>
<path d="M146.23 449.79 L148.03 451.6 L146.23 453.4 L144.42 451.6 Z" fill="#8e1b8e"/>
<path d="M140.82 445.68 L142.63 447.49 L140.82 449.29 L139.02 447.49 Z" fill="#8e1b8e"/>
<path d="M145.6 440.89 L147.4 442.69 L145.6 444.5 L143.79 442.69 Z" fill="#8e1b8e"/>
<path d="M143.39 448.31 L145.19 450.12 L143.39 451.92 L141.58 450.12 Z" fill="#8e1b8e"/>
<path d="M143.77 435.18 L145.58 436.98 L143.77 438.79 L141.97 436.98 Z" fill="#8e1b8e"/>
<circle cx="146.52" cy="451.87" r="1.9" fill="#169a94"/>
<circle cx="142.27" cy="447.57" r="1.9" fill="#169a94"/>
<circle cx="145.08" cy="439.99" r="1.9" fill="#169a94"/>
<circle cx="142.49" cy="435.59" r="1.9" fill="#169a94"/>
<circle cx="141.37" cy="448.74" r="1.9" fill="#169a94"/>
<circle cx="146.77" cy="436.45" r="1.9" fill="#169a94"/>
<circle cx="142.8" cy="465.72" r="1.9" fill="#169a94"/>
<circle cx="142.8" cy="471.7" r="1.9" fill="#169a94"/>
<line x1="142.8" y1="456.1" x2="142.8" y2="434.52" stroke="#222" stroke-width="0.75"/>
<line x1="140.2" y1="456.1" x2="145.4" y2="456.1" stroke="#222" stroke-width="0.75"/>
<line x1="140.2" y1="434.52" x2="145.4" y2="434.52" stroke="#222" stroke-width="0.75"/>
<text transform="translate(138.8 427.5) rotate(-59)" font-size="5.5" fill="#111"><tspan font-style="italic">P</tspan> &lt; 0.0001</text>
<path d="M161.32 450.78 L163.08 453.94 L159.56 453.94 Z" fill="#7d7d7d"/>
<path d="M159.75 439.51 L161.51 442.68 L157.99 442.68 Z" fill="#7d7d7d"/>
<path d="M155.57 448.77 L157.33 451.94 L153.81 451.94 Z" fill="#7d7d7d"/>
<path d="M161.34 439.27 L163.14 441.07 L161.34 442.88 L159.53 441.07 Z" fill="#8e1b8e"/>
<path d="M159.22 447.93 L161.03 449.73 L159.22 451.54 L157.42 449.73 Z" fill="#8e1b8e"/>
<path d="M160.55 460.75 L162.36 462.55 L160.55 464.36 L158.75 462.55 Z" fill="#8e1b8e"/>
<path d="M161.35 441.86 L163.16 443.67 L161.35 445.47 L159.55 443.67 Z" fill="#8e1b8e"/>
<path d="M153.52 445.57 L155.33 447.38 L153.52 449.18 L151.72 447.38 Z" fill="#8e1b8e"/>
<path d="M154.17 437.1 L155.98 438.9 L154.17 440.71 L152.37 438.9 Z" fill="#8e1b8e"/>
<circle cx="154.59" cy="439.7" r="1.9" fill="#169a94"/>
<circle cx="159.41" cy="452.91" r="1.9" fill="#169a94"/>
<circle cx="155.86" cy="438.59" r="1.9" fill="#169a94"/>
<circle cx="158.68" cy="439.92" r="1.9" fill="#169a94"/>
<circle cx="158.56" cy="448.63" r="1.9" fill="#169a94"/>
<circle cx="159.6" cy="448.81" r="1.9" fill="#169a94"/>
<path d="M157.45 428.34 L159.21 431.51 L155.69 431.51 Z" fill="#7d7d7d"/>
<path d="M157.45 485.54 L159.21 488.71 L155.69 488.71 Z" fill="#7d7d7d"/>
<line x1="157.45" y1="470.92" x2="157.45" y2="437.12" stroke="#222" stroke-width="0.75"/>
<line x1="154.85" y1="470.92" x2="160.05" y2="470.92" stroke="#222" stroke-width="0.75"/>
<line x1="154.85" y1="437.12" x2="160.05" y2="437.12" stroke="#222" stroke-width="0.75"/>
<text transform="translate(153.45 420.5) rotate(-59)" font-size="5.5" fill="#111"><tspan font-style="italic">P</tspan> &lt; 0.0001</text>
<path d="M169.86 402.29 L171.62 405.46 L168.1 405.46 Z" fill="#7d7d7d"/>
<path d="M174.69 393.27 L176.45 396.44 L172.93 396.44 Z" fill="#7d7d7d"/>
<path d="M169.96 401.26 L171.77 403.07 L169.96 404.87 L168.16 403.07 Z" fill="#8e1b8e"/>
<path d="M171.98 397.23 L173.79 399.03 L171.98 400.84 L170.18 399.03 Z" fill="#8e1b8e"/>
<path d="M170.21 399.43 L172.01 401.24 L170.21 403.04 L168.4 401.24 Z" fill="#8e1b8e"/>
<path d="M170.82 397.46 L172.62 399.26 L170.82 401.07 L169.01 399.26 Z" fill="#8e1b8e"/>
<circle cx="175.32" cy="399.67" r="1.9" fill="#169a94"/>
<circle cx="172.83" cy="405.57" r="1.9" fill="#169a94"/>
<circle cx="175.21" cy="404.55" r="1.9" fill="#169a94"/>
<circle cx="172.11" cy="403.18" r="1.9" fill="#169a94"/>
<circle cx="174.98" cy="396.17" r="1.9" fill="#169a94"/>
<circle cx="174.43" cy="404.29" r="1.9" fill="#169a94"/>
<circle cx="172.78" cy="400.45" r="1.9" fill="#169a94"/>
<path d="M172.1 454.34 L173.86 457.51 L170.34 457.51 Z" fill="#7d7d7d"/>
<line x1="172.1" y1="417.1" x2="172.1" y2="388.24" stroke="#27348a" stroke-width="0.75"/>
<line x1="169.5" y1="417.1" x2="174.7" y2="417.1" stroke="#27348a" stroke-width="0.75"/>
<line x1="169.5" y1="388.24" x2="174.7" y2="388.24" stroke="#27348a" stroke-width="0.75"/>
<path d="M185.93 449.41 L187.69 452.58 L184.17 452.58 Z" fill="#7d7d7d"/>
<path d="M188.52 451.3 L190.28 454.47 L186.76 454.47 Z" fill="#7d7d7d"/>
<path d="M188.01 448.35 L189.77 451.51 L186.25 451.51 Z" fill="#7d7d7d"/>
<path d="M186.09 447.94 L187.9 449.75 L186.09 451.55 L184.29 449.75 Z" fill="#8e1b8e"/>
<path d="M190.72 449.21 L192.53 451.01 L190.72 452.82 L188.92 451.01 Z" fill="#8e1b8e"/>
<path d="M185.92 448.51 L187.73 450.31 L185.92 452.12 L184.12 450.31 Z" fill="#8e1b8e"/>
<path d="M184.19 449.58 L186 451.39 L184.19 453.19 L182.39 451.39 Z" fill="#8e1b8e"/>
<path d="M188.44 451.58 L190.25 453.38 L188.44 455.19 L186.64 453.38 Z" fill="#8e1b8e"/>
<circle cx="190.44" cy="453.1" r="1.9" fill="#169a94"/>
<circle cx="186.86" cy="451.8" r="1.9" fill="#169a94"/>
<circle cx="189.66" cy="450.09" r="1.9" fill="#169a94"/>
<circle cx="188.61" cy="452.95" r="1.9" fill="#169a94"/>
<circle cx="184.03" cy="453.05" r="1.9" fill="#169a94"/>
<circle cx="188.12" cy="453.2" r="1.9" fill="#169a94"/>
<circle cx="187.99" cy="453.8" r="1.9" fill="#169a94"/>
<path d="M186.75 456.12 L188.56 457.92 L186.75 459.73 L184.94 457.92 Z" fill="#8e1b8e"/>
<line x1="186.75" y1="452.2" x2="186.75" y2="449.08" stroke="#222" stroke-width="0.75"/>
<line x1="184.15" y1="452.2" x2="189.35" y2="452.2" stroke="#222" stroke-width="0.75"/>
<line x1="184.15" y1="449.08" x2="189.35" y2="449.08" stroke="#222" stroke-width="0.75"/>
<text transform="translate(183.75 431.4) rotate(-59)" font-size="5.5" fill="#111"><tspan font-style="italic">P</tspan> &lt; 0.0001</text>
<path d="M202.56 450.33 L204.32 453.5 L200.8 453.5 Z" fill="#7d7d7d"/>
<path d="M198.35 452.05 L200.11 455.22 L196.59 455.22 Z" fill="#7d7d7d"/>
<path d="M203.82 453.36 L205.58 456.53 L202.06 456.53 Z" fill="#7d7d7d"/>
<path d="M205.25 449.6 L207.06 451.4 L205.25 453.21 L203.45 451.4 Z" fill="#8e1b8e"/>
<path d="M202.41 452.02 L204.21 453.83 L202.41 455.63 L200.6 453.83 Z" fill="#8e1b8e"/>
<path d="M199.82 452.04 L201.63 453.85 L199.82 455.65 L198.02 453.85 Z" fill="#8e1b8e"/>
<path d="M204.89 453.42 L206.7 455.23 L204.89 457.03 L203.09 455.23 Z" fill="#8e1b8e"/>
<circle cx="199.58" cy="451.73" r="1.9" fill="#169a94"/>
<circle cx="204.72" cy="451.24" r="1.9" fill="#169a94"/>
<circle cx="200.61" cy="454.08" r="1.9" fill="#169a94"/>
<circle cx="198.19" cy="451.14" r="1.9" fill="#169a94"/>
<circle cx="203.53" cy="455.78" r="1.9" fill="#169a94"/>
<circle cx="203.8" cy="450.32" r="1.9" fill="#169a94"/>
<circle cx="197.72" cy="450.24" r="1.9" fill="#169a94"/>
<path d="M201.4 461.31 L203.21 463.12 L201.4 464.93 L199.59 463.12 Z" fill="#8e1b8e"/>
<line x1="201.4" y1="454.8" x2="201.4" y2="450.64" stroke="#222" stroke-width="0.75"/>
<line x1="198.8" y1="454.8" x2="204" y2="454.8" stroke="#222" stroke-width="0.75"/>
<line x1="198.8" y1="450.64" x2="204" y2="450.64" stroke="#222" stroke-width="0.75"/>
<text transform="translate(198.4 431.4) rotate(-59)" font-size="5.5" fill="#111"><tspan font-style="italic">P</tspan> &lt; 0.0001</text>
<path d="M215.86 401.84 L217.62 405 L214.1 405 Z" fill="#7d7d7d"/>
<path d="M217.51 395.65 L219.27 398.82 L215.75 398.82 Z" fill="#7d7d7d"/>
<path d="M215.43 395.52 L217.23 397.32 L215.43 399.13 L213.62 397.32 Z" fill="#8e1b8e"/>
<path d="M212.93 397.36 L214.73 399.16 L212.93 400.97 L211.12 399.16 Z" fill="#8e1b8e"/>
<path d="M218.74 395.98 L220.54 397.79 L218.74 399.59 L216.93 397.79 Z" fill="#8e1b8e"/>
<path d="M218.26 397.22 L220.07 399.02 L218.26 400.83 L216.46 399.02 Z" fill="#8e1b8e"/>
<circle cx="215.09" cy="404.48" r="1.9" fill="#169a94"/>
<circle cx="217.99" cy="395.89" r="1.9" fill="#169a94"/>
<circle cx="218.12" cy="403.52" r="1.9" fill="#169a94"/>
<circle cx="214.95" cy="402.25" r="1.9" fill="#169a94"/>
<circle cx="217.85" cy="397.48" r="1.9" fill="#169a94"/>
<circle cx="218.02" cy="401.71" r="1.9" fill="#169a94"/>
<circle cx="218.88" cy="395.63" r="1.9" fill="#169a94"/>
<path d="M216.05 443.16 L217.81 446.33 L214.29 446.33 Z" fill="#7d7d7d"/>
<line x1="216.05" y1="415.8" x2="216.05" y2="388.76" stroke="#27348a" stroke-width="0.75"/>
<line x1="213.45" y1="415.8" x2="218.65" y2="415.8" stroke="#27348a" stroke-width="0.75"/>
<line x1="213.45" y1="388.76" x2="218.65" y2="388.76" stroke="#27348a" stroke-width="0.75"/>
<path d="M227.55 452.26 L229.31 455.43 L225.79 455.43 Z" fill="#7d7d7d"/>
<path d="M234.27 451.49 L236.03 454.65 L232.51 454.65 Z" fill="#7d7d7d"/>
<path d="M229.94 452.41 L231.7 455.57 L228.18 455.57 Z" fill="#7d7d7d"/>
<path d="M227.32 450.4 L229.12 452.2 L227.32 454.01 L225.51 452.2 Z" fill="#8e1b8e"/>
<path d="M233.45 452.63 L235.25 454.44 L233.45 456.24 L231.64 454.44 Z" fill="#8e1b8e"/>
<path d="M227.31 451.56 L229.11 453.36 L227.31 455.17 L225.5 453.36 Z" fill="#8e1b8e"/>
<path d="M229.82 452.09 L231.62 453.9 L229.82 455.7 L228.01 453.9 Z" fill="#8e1b8e"/>
<path d="M228.12 449.88 L229.92 451.68 L228.12 453.49 L226.31 451.68 Z" fill="#8e1b8e"/>
<circle cx="233.9" cy="453.42" r="1.9" fill="#169a94"/>
<circle cx="232.42" cy="451.18" r="1.9" fill="#169a94"/>
<circle cx="228.32" cy="452.73" r="1.9" fill="#169a94"/>
<circle cx="228.53" cy="451.96" r="1.9" fill="#169a94"/>
<circle cx="228.23" cy="451.23" r="1.9" fill="#169a94"/>
<circle cx="226.85" cy="451.85" r="1.9" fill="#169a94"/>
<circle cx="231.64" cy="455.65" r="1.9" fill="#169a94"/>
<line x1="230.7" y1="454.28" x2="230.7" y2="451.16" stroke="#222" stroke-width="0.75"/>
<line x1="228.1" y1="454.28" x2="233.3" y2="454.28" stroke="#222" stroke-width="0.75"/>
<line x1="228.1" y1="451.16" x2="233.3" y2="451.16" stroke="#222" stroke-width="0.75"/>
<text transform="translate(227.7 431.4) rotate(-59)" font-size="5.5" fill="#111"><tspan font-style="italic">P</tspan> &lt; 0.0001</text>
<path d="M241.61 448.53 L243.37 451.69 L239.85 451.69 Z" fill="#7d7d7d"/>
<path d="M248.96 451.19 L250.72 454.36 L247.2 454.36 Z" fill="#7d7d7d"/>
<path d="M248.91 451.82 L250.67 454.99 L247.15 454.99 Z" fill="#7d7d7d"/>
<path d="M241.84 451.55 L243.65 453.35 L241.84 455.16 L240.04 453.35 Z" fill="#8e1b8e"/>
<path d="M247.73 448.33 L249.53 450.13 L247.73 451.94 L245.92 450.13 Z" fill="#8e1b8e"/>
<path d="M241.51 452.52 L243.31 454.33 L241.51 456.13 L239.7 454.33 Z" fill="#8e1b8e"/>
<path d="M247.29 447.91 L249.1 449.71 L247.29 451.52 L245.49 449.71 Z" fill="#8e1b8e"/>
<circle cx="241.68" cy="454.9" r="1.9" fill="#169a94"/>
<circle cx="243.89" cy="454.4" r="1.9" fill="#169a94"/>
<circle cx="248.52" cy="449.87" r="1.9" fill="#169a94"/>
<circle cx="247.4" cy="453.08" r="1.9" fill="#169a94"/>
<circle cx="247.97" cy="452.4" r="1.9" fill="#169a94"/>
<circle cx="246.84" cy="450.8" r="1.9" fill="#169a94"/>
<circle cx="248.17" cy="455.57" r="1.9" fill="#169a94"/>
<path d="M245.35 438.69 L247.16 440.5 L245.35 442.31 L243.54 440.5 Z" fill="#8e1b8e"/>
<path d="M245.35 445.19 L247.16 447 L245.35 448.81 L243.54 447 Z" fill="#8e1b8e"/>
<line x1="245.35" y1="458.7" x2="245.35" y2="439.2" stroke="#222" stroke-width="0.75"/>
<line x1="242.75" y1="458.7" x2="247.95" y2="458.7" stroke="#222" stroke-width="0.75"/>
<line x1="242.75" y1="439.2" x2="247.95" y2="439.2" stroke="#222" stroke-width="0.75"/>
<text transform="translate(242.35 431.4) rotate(-59)" font-size="5.5" fill="#111"><tspan font-style="italic">P</tspan> &lt; 0.0001</text>
<line x1="30.5" y1="377" x2="30.5" y2="490" stroke="#555" stroke-width="0.65"/>
<line x1="30.5" y1="490" x2="255" y2="490" stroke="#555" stroke-width="0.65"/>
<line x1="26.3" y1="382" x2="30.5" y2="382" stroke="#555" stroke-width="0.65"/>
<text x="24.7" y="385" font-size="8.3" text-anchor="end">2</text>
<line x1="26.3" y1="408" x2="30.5" y2="408" stroke="#555" stroke-width="0.65"/>
<text x="24.7" y="411" font-size="8.3" text-anchor="end">1</text>
<line x1="26.3" y1="434" x2="30.5" y2="434" stroke="#555" stroke-width="0.65"/>
<text x="24.7" y="437" font-size="8.3" text-anchor="end">0</text>
<line x1="26.3" y1="460" x2="30.5" y2="460" stroke="#555" stroke-width="0.65"/>
<text x="24.7" y="463" font-size="8.3" text-anchor="end">−1</text>
<line x1="26.3" y1="486" x2="30.5" y2="486" stroke="#555" stroke-width="0.65"/>
<text x="24.7" y="489" font-size="8.3" text-anchor="end">−2</text>
<line x1="40.25" y1="486.8" x2="40.25" y2="490" stroke="#555" stroke-width="0.65"/>
<line x1="54.9" y1="486.8" x2="54.9" y2="490" stroke="#555" stroke-width="0.65"/>
<line x1="69.55" y1="486.8" x2="69.55" y2="490" stroke="#555" stroke-width="0.65"/>
<line x1="84.2" y1="486.8" x2="84.2" y2="490" stroke="#555" stroke-width="0.65"/>
<line x1="98.85" y1="486.8" x2="98.85" y2="490" stroke="#555" stroke-width="0.65"/>
<line x1="113.5" y1="486.8" x2="113.5" y2="490" stroke="#555" stroke-width="0.65"/>
<line x1="128.15" y1="486.8" x2="128.15" y2="490" stroke="#555" stroke-width="0.65"/>
<line x1="142.8" y1="486.8" x2="142.8" y2="490" stroke="#555" stroke-width="0.65"/>
<line x1="157.45" y1="486.8" x2="157.45" y2="490" stroke="#555" stroke-width="0.65"/>
<line x1="172.1" y1="486.8" x2="172.1" y2="490" stroke="#555" stroke-width="0.65"/>
<line x1="186.75" y1="486.8" x2="186.75" y2="490" stroke="#555" stroke-width="0.65"/>
<line x1="201.4" y1="486.8" x2="201.4" y2="490" stroke="#555" stroke-width="0.65"/>
<line x1="216.05" y1="486.8" x2="216.05" y2="490" stroke="#555" stroke-width="0.65"/>
<line x1="230.7" y1="486.8" x2="230.7" y2="490" stroke="#555" stroke-width="0.65"/>
<line x1="245.35" y1="486.8" x2="245.35" y2="490" stroke="#555" stroke-width="0.65"/>
<text transform="translate(13.2 449.5) rotate(-90)" font-size="8.3">Z-score</text>
<text x="55.3" y="499.5" font-size="8.3" text-anchor="middle">Basal resp</text>
<text x="99" y="499.5" font-size="8.3" text-anchor="middle">Max resp</text>
<text x="142.5" y="499.5" font-size="8.3" text-anchor="middle">Proton leak</text>
<text x="186.3" y="499.5" font-size="8.3" text-anchor="middle">ATP prod</text>
<text x="230.5" y="499.5" font-size="8.3" text-anchor="middle">Spare resp</text>
<text x="230.5" y="509.5" font-size="8.3" text-anchor="middle">capacity</text>
<text x="6.2" y="527.5" font-size="10.5" font-weight="bold">F</text>
<rect x="51.25" y="563.16" width="9.5" height="57.34" fill="#8fa0d3" stroke="#7f90c8" stroke-width="0.4"/>
<rect x="65.5" y="599.35" width="9.5" height="21.15" fill="#f4908a" stroke="#ee7d76" stroke-width="0.4"/>
<line x1="56" y1="577.08" x2="56" y2="549.25" stroke="#2b40a0" stroke-width="0.6"/>
<line x1="54.2" y1="577.08" x2="57.8" y2="577.08" stroke="#2b40a0" stroke-width="0.6"/>
<line x1="54.2" y1="549.25" x2="57.8" y2="549.25" stroke="#2b40a0" stroke-width="0.6"/>
<line x1="70.25" y1="600.46" x2="70.25" y2="598.23" stroke="#e2231c" stroke-width="0.6"/>
<line x1="68.45" y1="600.46" x2="72.05" y2="600.46" stroke="#e2231c" stroke-width="0.6"/>
<line x1="68.45" y1="598.23" x2="72.05" y2="598.23" stroke="#e2231c" stroke-width="0.6"/>
<circle cx="56" cy="548.13" r="1.55" fill="#2b40a0"/>
<circle cx="56" cy="564.83" r="1.55" fill="#2b40a0"/>
<circle cx="56" cy="574.85" r="1.55" fill="#2b40a0"/>
<circle cx="68.25" cy="600.18" r="1.55" fill="#e2231c"/>
<circle cx="70.25" cy="599.35" r="1.55" fill="#e2231c"/>
<circle cx="72.25" cy="598.51" r="1.55" fill="#e2231c"/>
<line x1="45.75" y1="537" x2="45.75" y2="620.5" stroke="#333" stroke-width="0.6"/>
<line x1="45.75" y1="620.5" x2="80" y2="620.5" stroke="#333" stroke-width="0.6"/>
<line x1="43.25" y1="620.5" x2="45.75" y2="620.5" stroke="#333" stroke-width="0.6"/>
<text x="41.45" y="623.5" font-size="8.5" text-anchor="end">0.0</text>
<line x1="43.25" y1="592.67" x2="45.75" y2="592.67" stroke="#333" stroke-width="0.6"/>
<text x="41.45" y="595.67" font-size="8.5" text-anchor="end">0.5</text>
<line x1="43.25" y1="564.83" x2="45.75" y2="564.83" stroke="#333" stroke-width="0.6"/>
<text x="41.45" y="567.83" font-size="8.5" text-anchor="end">1.0</text>
<line x1="43.25" y1="537" x2="45.75" y2="537" stroke="#333" stroke-width="0.6"/>
<text x="41.45" y="540" font-size="8.5" text-anchor="end">1.5</text>
<line x1="56" y1="620.5" x2="56" y2="622.5" stroke="#333" stroke-width="0.6"/>
<line x1="70.25" y1="620.5" x2="70.25" y2="622.5" stroke="#333" stroke-width="0.6"/>
<path d="M55.5 546 L55.5 538.8 L70 538.8 L70 596" fill="none" stroke="#444" stroke-width="0.5"/>
<text x="49.3" y="533.8" font-size="6.6" fill="#111"><tspan font-style="italic">P</tspan> = 0.0405</text>
<text x="62.5" y="631.8" font-size="8" text-anchor="middle">Pyr</text>
<text transform="translate(13.7 578.5) rotate(-90)" font-size="8.2" text-anchor="middle">Metabolite levels</text>
<text transform="translate(23.8 578.5) rotate(-90)" font-size="8.2" text-anchor="middle">(norm to vehicle)</text>
<rect x="136.25" y="578.5" width="9.5" height="41.5" fill="#8fa0d3" stroke="#7f90c8" stroke-width="0.4"/>
<rect x="150.75" y="550.28" width="9.5" height="69.72" fill="#f4908a" stroke="#ee7d76" stroke-width="0.4"/>
<line x1="141" y1="580.16" x2="141" y2="576.84" stroke="#2b40a0" stroke-width="0.6"/>
<line x1="139.2" y1="580.16" x2="142.8" y2="580.16" stroke="#2b40a0" stroke-width="0.6"/>
<line x1="139.2" y1="576.84" x2="142.8" y2="576.84" stroke="#2b40a0" stroke-width="0.6"/>
<line x1="155.5" y1="555.26" x2="155.5" y2="545.3" stroke="#e2231c" stroke-width="0.6"/>
<line x1="153.7" y1="555.26" x2="157.3" y2="555.26" stroke="#e2231c" stroke-width="0.6"/>
<line x1="153.7" y1="545.3" x2="157.3" y2="545.3" stroke="#e2231c" stroke-width="0.6"/>
<circle cx="139" cy="578.91" r="1.55" fill="#2b40a0"/>
<circle cx="141" cy="576.42" r="1.55" fill="#2b40a0"/>
<circle cx="143" cy="578.91" r="1.55" fill="#2b40a0"/>
<circle cx="155.5" cy="544.05" r="1.55" fill="#e2231c"/>
<circle cx="153.5" cy="552.77" r="1.55" fill="#e2231c"/>
<circle cx="157.5" cy="552.77" r="1.55" fill="#e2231c"/>
<line x1="130.75" y1="537" x2="130.75" y2="620" stroke="#333" stroke-width="0.6"/>
<line x1="130.75" y1="620" x2="165" y2="620" stroke="#333" stroke-width="0.6"/>
<line x1="128.25" y1="620" x2="130.75" y2="620" stroke="#333" stroke-width="0.6"/>
<text x="126.45" y="623" font-size="8.5" text-anchor="end">0.0</text>
<line x1="128.25" y1="599.25" x2="130.75" y2="599.25" stroke="#333" stroke-width="0.6"/>
<text x="126.45" y="602.25" font-size="8.5" text-anchor="end">0.5</text>
<line x1="128.25" y1="578.5" x2="130.75" y2="578.5" stroke="#333" stroke-width="0.6"/>
<text x="126.45" y="581.5" font-size="8.5" text-anchor="end">1.0</text>
<line x1="128.25" y1="557.75" x2="130.75" y2="557.75" stroke="#333" stroke-width="0.6"/>
<text x="126.45" y="560.75" font-size="8.5" text-anchor="end">1.5</text>
<line x1="128.25" y1="537" x2="130.75" y2="537" stroke="#333" stroke-width="0.6"/>
<text x="126.45" y="540" font-size="8.5" text-anchor="end">2.0</text>
<line x1="141" y1="620" x2="141" y2="622" stroke="#333" stroke-width="0.6"/>
<line x1="155.5" y1="620" x2="155.5" y2="622" stroke="#333" stroke-width="0.6"/>
<path d="M140.8 573.8 L140.8 533.8 L155.5 533.8 L155.5 540" fill="none" stroke="#444" stroke-width="0.5"/>
<text x="132" y="528.8" font-size="6.6" fill="#111"><tspan font-style="italic">P</tspan> = 0.0054</text>
<text x="148.3" y="632.5" font-size="8" text-anchor="middle">Lac</text>
<text transform="translate(97.9 578.5) rotate(-90)" font-size="8.2" text-anchor="middle">Metabolite levels</text>
<text transform="translate(108 578.5) rotate(-90)" font-size="8.2" text-anchor="middle">(norm to vehicle)</text>
<rect x="222.5" y="563.33" width="9.5" height="56.67" fill="#8fa0d3" stroke="#7f90c8" stroke-width="0.4"/>
<rect x="237" y="595.07" width="9.5" height="24.93" fill="#f4908a" stroke="#ee7d76" stroke-width="0.4"/>
<line x1="227.25" y1="566.17" x2="227.25" y2="560.5" stroke="#2b40a0" stroke-width="0.6"/>
<line x1="225.45" y1="566.17" x2="229.05" y2="566.17" stroke="#2b40a0" stroke-width="0.6"/>
<line x1="225.45" y1="560.5" x2="229.05" y2="560.5" stroke="#2b40a0" stroke-width="0.6"/>
<line x1="241.75" y1="598.47" x2="241.75" y2="591.67" stroke="#e2231c" stroke-width="0.6"/>
<line x1="239.95" y1="598.47" x2="243.55" y2="598.47" stroke="#e2231c" stroke-width="0.6"/>
<line x1="239.95" y1="591.67" x2="243.55" y2="591.67" stroke="#e2231c" stroke-width="0.6"/>
<circle cx="225.25" cy="562.2" r="1.55" fill="#2b40a0"/>
<circle cx="228.75" cy="563.33" r="1.55" fill="#2b40a0"/>
<circle cx="227.25" cy="567.87" r="1.55" fill="#2b40a0"/>
<circle cx="241.75" cy="590.53" r="1.55" fill="#e2231c"/>
<circle cx="239.75" cy="597.33" r="1.55" fill="#e2231c"/>
<circle cx="243.75" cy="595.63" r="1.55" fill="#e2231c"/>
<line x1="216.75" y1="535" x2="216.75" y2="620" stroke="#333" stroke-width="0.6"/>
<line x1="216.75" y1="620" x2="251" y2="620" stroke="#333" stroke-width="0.6"/>
<line x1="214.25" y1="620" x2="216.75" y2="620" stroke="#333" stroke-width="0.6"/>
<text x="212.45" y="623" font-size="8.5" text-anchor="end">0.0</text>
<line x1="214.25" y1="591.67" x2="216.75" y2="591.67" stroke="#333" stroke-width="0.6"/>
<text x="212.45" y="594.67" font-size="8.5" text-anchor="end">0.5</text>
<line x1="214.25" y1="563.33" x2="216.75" y2="563.33" stroke="#333" stroke-width="0.6"/>
<text x="212.45" y="566.33" font-size="8.5" text-anchor="end">1.0</text>
<line x1="214.25" y1="535" x2="216.75" y2="535" stroke="#333" stroke-width="0.6"/>
<text x="212.45" y="538" font-size="8.5" text-anchor="end">1.5</text>
<line x1="227.25" y1="620" x2="227.25" y2="622" stroke="#333" stroke-width="0.6"/>
<line x1="241.75" y1="620" x2="241.75" y2="622" stroke="#333" stroke-width="0.6"/>
<path d="M227 560 L227 552.5 L242 552.5 L242 587.5" fill="none" stroke="#444" stroke-width="0.5"/>
<text x="221.3" y="547.5" font-size="6.6" fill="#111"><tspan font-style="italic">P</tspan> = 0.0234</text>
<text x="234.5" y="632.5" font-size="8" text-anchor="middle">Aco</text>
<text transform="translate(184.9 578.5) rotate(-90)" font-size="8.2" text-anchor="middle">Metabolite levels</text>
<text transform="translate(195 578.5) rotate(-90)" font-size="8.2" text-anchor="middle">(norm to vehicle)</text>
<rect x="303.25" y="592.3" width="9.5" height="27.2" fill="#8fa0d3" stroke="#7f90c8" stroke-width="0.4"/>
<rect x="318" y="554.84" width="9.5" height="64.66" fill="#f4908a" stroke="#ee7d76" stroke-width="0.4"/>
<line x1="308" y1="592.86" x2="308" y2="591.75" stroke="#2b40a0" stroke-width="0.6"/>
<line x1="306.2" y1="592.86" x2="309.8" y2="592.86" stroke="#2b40a0" stroke-width="0.6"/>
<line x1="306.2" y1="591.75" x2="309.8" y2="591.75" stroke="#2b40a0" stroke-width="0.6"/>
<line x1="322.75" y1="555.95" x2="322.75" y2="553.73" stroke="#e2231c" stroke-width="0.6"/>
<line x1="320.95" y1="555.95" x2="324.55" y2="555.95" stroke="#e2231c" stroke-width="0.6"/>
<line x1="320.95" y1="553.73" x2="324.55" y2="553.73" stroke="#e2231c" stroke-width="0.6"/>
<circle cx="306" cy="592.58" r="1.55" fill="#2b40a0"/>
<circle cx="308" cy="591.75" r="1.55" fill="#2b40a0"/>
<circle cx="310" cy="592.58" r="1.55" fill="#2b40a0"/>
<circle cx="320.75" cy="555.67" r="1.55" fill="#e2231c"/>
<circle cx="322.75" cy="553.46" r="1.55" fill="#e2231c"/>
<circle cx="324.75" cy="555.4" r="1.55" fill="#e2231c"/>
<line x1="298.25" y1="536.25" x2="298.25" y2="619.5" stroke="#333" stroke-width="0.6"/>
<line x1="298.25" y1="619.5" x2="332" y2="619.5" stroke="#333" stroke-width="0.6"/>
<line x1="295.75" y1="619.5" x2="298.25" y2="619.5" stroke="#333" stroke-width="0.6"/>
<text x="293.95" y="622.5" font-size="8.5" text-anchor="end">0</text>
<line x1="295.75" y1="591.75" x2="298.25" y2="591.75" stroke="#333" stroke-width="0.6"/>
<text x="293.95" y="594.75" font-size="8.5" text-anchor="end">1</text>
<line x1="295.75" y1="564" x2="298.25" y2="564" stroke="#333" stroke-width="0.6"/>
<text x="293.95" y="567" font-size="8.5" text-anchor="end">2</text>
<line x1="295.75" y1="536.25" x2="298.25" y2="536.25" stroke="#333" stroke-width="0.6"/>
<text x="293.95" y="539.25" font-size="8.5" text-anchor="end">3</text>
<line x1="308" y1="619.5" x2="308" y2="621.5" stroke="#333" stroke-width="0.6"/>
<line x1="322.75" y1="619.5" x2="322.75" y2="621.5" stroke="#333" stroke-width="0.6"/>
<path d="M308 587.5 L308 543.8 L322.5 543.8 L322.5 551.3" fill="none" stroke="#444" stroke-width="0.5"/>
<text x="302" y="540" font-size="6.6" fill="#111"><tspan font-style="italic">P</tspan> = 0.0015</text>
<text x="315.5" y="632" font-size="8" text-anchor="middle">α-KG</text>
<text transform="translate(270.4 578.5) rotate(-90)" font-size="8.2" text-anchor="middle">Metabolite levels</text>
<text transform="translate(280.5 578.5) rotate(-90)" font-size="8.2" text-anchor="middle">(norm to vehicle)</text>
<rect x="387.5" y="563.8" width="9.5" height="54.95" fill="#8fa0d3" stroke="#7f90c8" stroke-width="0.4"/>
<rect x="401.75" y="610.98" width="9.5" height="7.77" fill="#f4908a" stroke="#ee7d76" stroke-width="0.4"/>
<line x1="392.25" y1="565.47" x2="392.25" y2="562.14" stroke="#2b40a0" stroke-width="0.6"/>
<line x1="390.45" y1="565.47" x2="394.05" y2="565.47" stroke="#2b40a0" stroke-width="0.6"/>
<line x1="390.45" y1="562.14" x2="394.05" y2="562.14" stroke="#2b40a0" stroke-width="0.6"/>
<line x1="406.5" y1="611.53" x2="406.5" y2="610.42" stroke="#e2231c" stroke-width="0.6"/>
<line x1="404.7" y1="611.53" x2="408.3" y2="611.53" stroke="#e2231c" stroke-width="0.6"/>
<line x1="404.7" y1="610.42" x2="408.3" y2="610.42" stroke="#e2231c" stroke-width="0.6"/>
<circle cx="390.25" cy="564.36" r="1.55" fill="#2b40a0"/>
<circle cx="392.25" cy="561.03" r="1.55" fill="#2b40a0"/>
<circle cx="394.25" cy="563.8" r="1.55" fill="#2b40a0"/>
<circle cx="404.5" cy="611.26" r="1.55" fill="#e2231c"/>
<circle cx="406.5" cy="610.42" r="1.55" fill="#e2231c"/>
<circle cx="408.5" cy="610.98" r="1.55" fill="#e2231c"/>
<line x1="381.75" y1="535.5" x2="381.75" y2="618.75" stroke="#333" stroke-width="0.6"/>
<line x1="381.75" y1="618.75" x2="416.3" y2="618.75" stroke="#333" stroke-width="0.6"/>
<line x1="379.25" y1="618.75" x2="381.75" y2="618.75" stroke="#333" stroke-width="0.6"/>
<text x="377.45" y="621.75" font-size="8.5" text-anchor="end">0.0</text>
<line x1="379.25" y1="591" x2="381.75" y2="591" stroke="#333" stroke-width="0.6"/>
<text x="377.45" y="594" font-size="8.5" text-anchor="end">0.5</text>
<line x1="379.25" y1="563.25" x2="381.75" y2="563.25" stroke="#333" stroke-width="0.6"/>
<text x="377.45" y="566.25" font-size="8.5" text-anchor="end">1.0</text>
<line x1="379.25" y1="535.5" x2="381.75" y2="535.5" stroke="#333" stroke-width="0.6"/>
<text x="377.45" y="538.5" font-size="8.5" text-anchor="end">1.5</text>
<line x1="392.25" y1="618.75" x2="392.25" y2="620.75" stroke="#333" stroke-width="0.6"/>
<line x1="406.5" y1="618.75" x2="406.5" y2="620.75" stroke="#333" stroke-width="0.6"/>
<path d="M392 558.8 L392 551.3 L406.3 551.3 L406.3 607.5" fill="none" stroke="#444" stroke-width="0.5"/>
<text x="386.3" y="547.5" font-size="6.6" fill="#111"><tspan font-style="italic">P</tspan> = 0.0008</text>
<text x="398.8" y="632" font-size="8" text-anchor="middle">Suc</text>
<text transform="translate(349.4 578.5) rotate(-90)" font-size="8.2" text-anchor="middle">Metabolite levels</text>
<text transform="translate(359.5 578.5) rotate(-90)" font-size="8.2" text-anchor="middle">(norm to vehicle)</text>
<rect x="65" y="670.88" width="9.5" height="57.37" fill="#8fa0d3" stroke="#7f90c8" stroke-width="0.4"/>
<rect x="79.5" y="726.87" width="9.5" height="1.38" fill="#f4908a" stroke="#ee7d76" stroke-width="0.4"/>
<line x1="69.75" y1="675.84" x2="69.75" y2="665.91" stroke="#2b40a0" stroke-width="0.6"/>
<line x1="67.95" y1="675.84" x2="71.55" y2="675.84" stroke="#2b40a0" stroke-width="0.6"/>
<line x1="67.95" y1="665.91" x2="71.55" y2="665.91" stroke="#2b40a0" stroke-width="0.6"/>
<circle cx="69.75" cy="664.81" r="1.55" fill="#2b40a0"/>
<circle cx="67.75" cy="674.74" r="1.55" fill="#2b40a0"/>
<circle cx="71.75" cy="673.08" r="1.55" fill="#2b40a0"/>
<circle cx="82.25" cy="727.15" r="1.55" fill="#e2231c"/>
<circle cx="84.25" cy="727.15" r="1.55" fill="#e2231c"/>
<circle cx="86.25" cy="727.15" r="1.55" fill="#e2231c"/>
<line x1="60" y1="645.5" x2="60" y2="728.25" stroke="#333" stroke-width="0.6"/>
<line x1="60" y1="728.25" x2="93.8" y2="728.25" stroke="#333" stroke-width="0.6"/>
<line x1="57.5" y1="728.25" x2="60" y2="728.25" stroke="#333" stroke-width="0.6"/>
<text x="55.7" y="731.25" font-size="8.5" text-anchor="end">0.0</text>
<line x1="57.5" y1="700.67" x2="60" y2="700.67" stroke="#333" stroke-width="0.6"/>
<text x="55.7" y="703.67" font-size="8.5" text-anchor="end">0.5</text>
<line x1="57.5" y1="673.08" x2="60" y2="673.08" stroke="#333" stroke-width="0.6"/>
<text x="55.7" y="676.08" font-size="8.5" text-anchor="end">1.0</text>
<line x1="57.5" y1="645.5" x2="60" y2="645.5" stroke="#333" stroke-width="0.6"/>
<text x="55.7" y="648.5" font-size="8.5" text-anchor="end">1.5</text>
<line x1="69.75" y1="728.25" x2="69.75" y2="730.25" stroke="#333" stroke-width="0.6"/>
<line x1="84.25" y1="728.25" x2="84.25" y2="730.25" stroke="#333" stroke-width="0.6"/>
<path d="M70 662.5 L70 654.5 L84.3 654.5 L84.3 724.5" fill="none" stroke="#444" stroke-width="0.5"/>
<text x="63.8" y="651.3" font-size="6.6" fill="#111"><tspan font-style="italic">P</tspan> = 0.0027</text>
<text x="75" y="737" font-size="8" text-anchor="middle">Mal</text>
<text transform="translate(26.2 688) rotate(-90)" font-size="8.2" text-anchor="middle">Metabolite levels</text>
<text transform="translate(36.3 688) rotate(-90)" font-size="8.2" text-anchor="middle">(norm to vehicle)</text>
<rect x="145.75" y="674.88" width="9.5" height="53.12" fill="#8fa0d3" stroke="#7f90c8" stroke-width="0.4"/>
<rect x="160.5" y="726.62" width="9.5" height="1.38" fill="#f4908a" stroke="#ee7d76" stroke-width="0.4"/>
<line x1="150.5" y1="682.63" x2="150.5" y2="667.13" stroke="#2b40a0" stroke-width="0.6"/>
<line x1="148.7" y1="682.63" x2="152.3" y2="682.63" stroke="#2b40a0" stroke-width="0.6"/>
<line x1="148.7" y1="667.13" x2="152.3" y2="667.13" stroke="#2b40a0" stroke-width="0.6"/>
<circle cx="150.5" cy="667.69" r="1.55" fill="#2b40a0"/>
<circle cx="150.5" cy="674.33" r="1.55" fill="#2b40a0"/>
<circle cx="150.5" cy="683.18" r="1.55" fill="#2b40a0"/>
<circle cx="163.25" cy="726.89" r="1.55" fill="#e2231c"/>
<circle cx="165.25" cy="726.89" r="1.55" fill="#e2231c"/>
<circle cx="167.25" cy="726.89" r="1.55" fill="#e2231c"/>
<line x1="140.75" y1="645" x2="140.75" y2="728" stroke="#333" stroke-width="0.6"/>
<line x1="140.75" y1="728" x2="175" y2="728" stroke="#333" stroke-width="0.6"/>
<line x1="138.25" y1="728" x2="140.75" y2="728" stroke="#333" stroke-width="0.6"/>
<text x="136.45" y="731" font-size="8.5" text-anchor="end">0.0</text>
<line x1="138.25" y1="700.33" x2="140.75" y2="700.33" stroke="#333" stroke-width="0.6"/>
<text x="136.45" y="703.33" font-size="8.5" text-anchor="end">0.5</text>
<line x1="138.25" y1="672.67" x2="140.75" y2="672.67" stroke="#333" stroke-width="0.6"/>
<text x="136.45" y="675.67" font-size="8.5" text-anchor="end">1.0</text>
<line x1="138.25" y1="645" x2="140.75" y2="645" stroke="#333" stroke-width="0.6"/>
<text x="136.45" y="648" font-size="8.5" text-anchor="end">1.5</text>
<line x1="150.5" y1="728" x2="150.5" y2="730" stroke="#333" stroke-width="0.6"/>
<line x1="165.25" y1="728" x2="165.25" y2="730" stroke="#333" stroke-width="0.6"/>
<path d="M150.8 663.8 L150.8 656.3 L165 656.3 L165 723.8" fill="none" stroke="#444" stroke-width="0.5"/>
<text x="144.5" y="653" font-size="6.6" fill="#111"><tspan font-style="italic">P</tspan> = 0.0080</text>
<text x="157.5" y="737.5" font-size="8" text-anchor="middle">Asp</text>
<text transform="translate(107.9 688) rotate(-90)" font-size="8.2" text-anchor="middle">Metabolite levels</text>
<text transform="translate(118 688) rotate(-90)" font-size="8.2" text-anchor="middle">(norm to vehicle)</text>
<rect x="225.5" y="706.06" width="9.5" height="20.19" fill="#8fa0d3" stroke="#7f90c8" stroke-width="0.4"/>
<rect x="240" y="671.34" width="9.5" height="54.91" fill="#f4908a" stroke="#ee7d76" stroke-width="0.4"/>
<line x1="230.25" y1="706.87" x2="230.25" y2="705.25" stroke="#2b40a0" stroke-width="0.6"/>
<line x1="228.45" y1="706.87" x2="232.05" y2="706.87" stroke="#2b40a0" stroke-width="0.6"/>
<line x1="228.45" y1="705.25" x2="232.05" y2="705.25" stroke="#2b40a0" stroke-width="0.6"/>
<line x1="244.75" y1="673.96" x2="244.75" y2="668.72" stroke="#e2231c" stroke-width="0.6"/>
<line x1="242.95" y1="673.96" x2="246.55" y2="673.96" stroke="#e2231c" stroke-width="0.6"/>
<line x1="242.95" y1="668.72" x2="246.55" y2="668.72" stroke="#e2231c" stroke-width="0.6"/>
<circle cx="228.25" cy="706.26" r="1.55" fill="#2b40a0"/>
<circle cx="230.25" cy="705.05" r="1.55" fill="#2b40a0"/>
<circle cx="232.25" cy="706.06" r="1.55" fill="#2b40a0"/>
<circle cx="244.75" cy="667.71" r="1.55" fill="#e2231c"/>
<circle cx="242.75" cy="672.15" r="1.55" fill="#e2231c"/>
<circle cx="246.75" cy="671.74" r="1.55" fill="#e2231c"/>
<line x1="220" y1="645.5" x2="220" y2="726.25" stroke="#333" stroke-width="0.6"/>
<line x1="220" y1="726.25" x2="254.5" y2="726.25" stroke="#333" stroke-width="0.6"/>
<line x1="217.5" y1="726.25" x2="220" y2="726.25" stroke="#333" stroke-width="0.6"/>
<text x="215.7" y="729.25" font-size="8.5" text-anchor="end">0</text>
<line x1="217.5" y1="706.06" x2="220" y2="706.06" stroke="#333" stroke-width="0.6"/>
<text x="215.7" y="709.06" font-size="8.5" text-anchor="end">1</text>
<line x1="217.5" y1="685.88" x2="220" y2="685.88" stroke="#333" stroke-width="0.6"/>
<text x="215.7" y="688.88" font-size="8.5" text-anchor="end">2</text>
<line x1="217.5" y1="665.69" x2="220" y2="665.69" stroke="#333" stroke-width="0.6"/>
<text x="215.7" y="668.69" font-size="8.5" text-anchor="end">3</text>
<line x1="217.5" y1="645.5" x2="220" y2="645.5" stroke="#333" stroke-width="0.6"/>
<text x="215.7" y="648.5" font-size="8.5" text-anchor="end">4</text>
<line x1="230.25" y1="726.25" x2="230.25" y2="728.25" stroke="#333" stroke-width="0.6"/>
<line x1="244.75" y1="726.25" x2="244.75" y2="728.25" stroke="#333" stroke-width="0.6"/>
<path d="M230 702.5 L230 657 L244.5 657 L244.5 665" fill="none" stroke="#444" stroke-width="0.5"/>
<text x="225.5" y="653.8" font-size="6.6" fill="#111"><tspan font-style="italic">P</tspan> = 0.0021</text>
<text x="237" y="736.3" font-size="8" text-anchor="middle">Gln</text>
<text transform="translate(194.9 687.5) rotate(-90)" font-size="8.2" text-anchor="middle">Metabolite levels</text>
<text transform="translate(205 687.5) rotate(-90)" font-size="8.2" text-anchor="middle">(norm to vehicle)</text>
<rect x="307.5" y="689.38" width="9.5" height="38.12" fill="#8fa0d3" stroke="#7f90c8" stroke-width="0.4"/>
<rect x="321.75" y="656.21" width="9.5" height="71.29" fill="#f4908a" stroke="#ee7d76" stroke-width="0.4"/>
<line x1="312.25" y1="690.52" x2="312.25" y2="688.23" stroke="#2b40a0" stroke-width="0.6"/>
<line x1="310.45" y1="690.52" x2="314.05" y2="690.52" stroke="#2b40a0" stroke-width="0.6"/>
<line x1="310.45" y1="688.23" x2="314.05" y2="688.23" stroke="#2b40a0" stroke-width="0.6"/>
<line x1="326.5" y1="658.49" x2="326.5" y2="653.92" stroke="#e2231c" stroke-width="0.6"/>
<line x1="324.7" y1="658.49" x2="328.3" y2="658.49" stroke="#e2231c" stroke-width="0.6"/>
<line x1="324.7" y1="653.92" x2="328.3" y2="653.92" stroke="#e2231c" stroke-width="0.6"/>
<circle cx="310.25" cy="690.14" r="1.55" fill="#2b40a0"/>
<circle cx="312.25" cy="687.85" r="1.55" fill="#2b40a0"/>
<circle cx="314.25" cy="689.76" r="1.55" fill="#2b40a0"/>
<circle cx="325" cy="656.59" r="1.55" fill="#e2231c"/>
<circle cx="328.3" cy="656.59" r="1.55" fill="#e2231c"/>
<circle cx="326.5" cy="661.16" r="1.55" fill="#e2231c"/>
<line x1="302" y1="651.25" x2="302" y2="727.5" stroke="#333" stroke-width="0.6"/>
<line x1="302" y1="727.5" x2="336" y2="727.5" stroke="#333" stroke-width="0.6"/>
<line x1="299.5" y1="727.5" x2="302" y2="727.5" stroke="#333" stroke-width="0.6"/>
<text x="297.7" y="730.5" font-size="8.5" text-anchor="end">0.0</text>
<line x1="299.5" y1="708.44" x2="302" y2="708.44" stroke="#333" stroke-width="0.6"/>
<text x="297.7" y="711.44" font-size="8.5" text-anchor="end">0.5</text>
<line x1="299.5" y1="689.38" x2="302" y2="689.38" stroke="#333" stroke-width="0.6"/>
<text x="297.7" y="692.38" font-size="8.5" text-anchor="end">1.0</text>
<line x1="299.5" y1="670.31" x2="302" y2="670.31" stroke="#333" stroke-width="0.6"/>
<text x="297.7" y="673.31" font-size="8.5" text-anchor="end">1.5</text>
<line x1="299.5" y1="651.25" x2="302" y2="651.25" stroke="#333" stroke-width="0.6"/>
<text x="297.7" y="654.25" font-size="8.5" text-anchor="end">2.0</text>
<line x1="312.25" y1="727.5" x2="312.25" y2="729.5" stroke="#333" stroke-width="0.6"/>
<line x1="326.5" y1="727.5" x2="326.5" y2="729.5" stroke="#333" stroke-width="0.6"/>
<path d="M312 686.3 L312 646.3 L326.3 646.3 L326.3 653" fill="none" stroke="#444" stroke-width="0.5"/>
<text x="303.8" y="642.5" font-size="6.6" fill="#111"><tspan font-style="italic">P</tspan> = 0.0017</text>
<text x="318.8" y="737" font-size="8" text-anchor="middle">Glu</text>
<text transform="translate(270.4 692.5) rotate(-90)" font-size="8.2" text-anchor="middle">Metabolite levels</text>
<text transform="translate(280.5 692.5) rotate(-90)" font-size="8.2" text-anchor="middle">(norm to vehicle)</text>
<circle cx="361.3" cy="672" r="2.6" fill="#3a4cb0"/>
<text x="370" y="675" font-size="8.3">Vehicle</text>
<circle cx="361.3" cy="685" r="2.6" fill="#e8392e"/>
<text x="370" y="687.8" font-size="8.3">ONC201</text>
<text x="6.2" y="755" font-size="10.5" font-weight="bold">G</text>
<text x="98.5" y="755.5" font-size="7.6" text-anchor="middle" font-weight="bold">DIPG-XIII*P</text>
<line x1="79.5" y1="758.3" x2="117.5" y2="758.3" stroke="#222" stroke-width="0.6"/>
<text x="139" y="755.5" font-size="7.6" text-anchor="middle" font-weight="bold">DIPG007</text>
<line x1="120" y1="758.3" x2="158" y2="758.3" stroke="#222" stroke-width="0.6"/>
<text x="181" y="755.5" font-size="7.6" text-anchor="middle" font-weight="bold">SF7761</text>
<line x1="161.2" y1="758.3" x2="200.8" y2="758.3" stroke="#222" stroke-width="0.6"/>
<text x="21.3" y="767.5" font-size="7.35">ONC201(µmol/L)</text>
<text x="85" y="767.5" font-size="7.8" text-anchor="middle">0</text>
<text x="99.3" y="767.5" font-size="7.8" text-anchor="middle">5</text>
<text x="112.5" y="767.5" font-size="7.8" text-anchor="middle">10</text>
<text x="125.8" y="767.5" font-size="7.8" text-anchor="middle">0</text>
<text x="138.8" y="767.5" font-size="7.8" text-anchor="middle">5</text>
<text x="153.3" y="767.5" font-size="7.8" text-anchor="middle">10</text>
<text x="167" y="767.5" font-size="7.8" text-anchor="middle">0</text>
<text x="181.3" y="767.5" font-size="7.8" text-anchor="middle">5</text>
<text x="196.3" y="767.5" font-size="7.8" text-anchor="middle">10</text>
<text x="76.3" y="780" font-size="8.3" text-anchor="end">OGDH</text>
<rect x="79.5" y="771.25" width="38" height="13.25" fill="#e9e9e9" stroke="#c8c8c8" stroke-width="0.3"/>
<rect x="120" y="771.25" width="38" height="13.25" fill="#e6e6e6" stroke="#c8c8c8" stroke-width="0.3"/>
<rect x="161.2" y="771.25" width="39.6" height="13.25" fill="#ebebeb" stroke="#c8c8c8" stroke-width="0.3"/>
<text x="76.3" y="794.3" font-size="8.3" text-anchor="end">ACLY</text>
<rect x="79.5" y="786.25" width="38" height="12.5" fill="#aaaaaa" stroke="#c8c8c8" stroke-width="0.3"/>
<rect x="120" y="786.25" width="38" height="12.5" fill="#a6a6a6" stroke="#c8c8c8" stroke-width="0.3"/>
<rect x="161.2" y="786.25" width="39.6" height="12.5" fill="#a2a2a2" stroke="#c8c8c8" stroke-width="0.3"/>
<text x="76.3" y="809" font-size="8.3" text-anchor="end">DLD</text>
<rect x="79.5" y="801.25" width="38" height="12.75" fill="#e8e8e8" stroke="#c8c8c8" stroke-width="0.3"/>
<rect x="120" y="801.25" width="38" height="12.75" fill="#d6d6d6" stroke="#c8c8c8" stroke-width="0.3"/>
<rect x="161.2" y="801.25" width="39.6" height="12.75" fill="#dadada" stroke="#c8c8c8" stroke-width="0.3"/>
<text x="76.3" y="824.3" font-size="8.3" text-anchor="end">DLAT</text>
<rect x="79.5" y="816.25" width="38" height="12.75" fill="#d6d6d6" stroke="#c8c8c8" stroke-width="0.3"/>
<rect x="120" y="816.25" width="38" height="12.75" fill="#e6e6e6" stroke="#c8c8c8" stroke-width="0.3"/>
<rect x="161.2" y="816.25" width="39.6" height="12.75" fill="#c6c6c6" stroke="#c8c8c8" stroke-width="0.3"/>
<text x="76.3" y="840" font-size="8.3" text-anchor="end">PDHB</text>
<rect x="79.5" y="831.25" width="38" height="12.5" fill="#e4e4e4" stroke="#c8c8c8" stroke-width="0.3"/>
<rect x="120" y="831.25" width="38" height="12.5" fill="#e2e2e2" stroke="#c8c8c8" stroke-width="0.3"/>
<rect x="161.2" y="831.25" width="39.6" height="12.5" fill="#dcdcdc" stroke="#c8c8c8" stroke-width="0.3"/>
<text x="76.3" y="853.3" font-size="8.3" text-anchor="end">SDHB</text>
<rect x="79.5" y="846.25" width="38" height="11.25" fill="#d2d2d2" stroke="#c8c8c8" stroke-width="0.3"/>
<rect x="120" y="846.25" width="38" height="11.25" fill="#d6d6d6" stroke="#c8c8c8" stroke-width="0.3"/>
<rect x="161.2" y="846.25" width="39.6" height="11.25" fill="#dadada" stroke="#c8c8c8" stroke-width="0.3"/>
<text x="76.3" y="868" font-size="8.3" text-anchor="end">FH</text>
<rect x="79.5" y="859.5" width="38" height="12.5" fill="#c2c2c2" stroke="#c8c8c8" stroke-width="0.3"/>
<rect x="120" y="859.5" width="38" height="12.5" fill="#c0c0c0" stroke="#c8c8c8" stroke-width="0.3"/>
<rect x="161.2" y="859.5" width="39.6" height="12.5" fill="#c6c6c6" stroke="#c8c8c8" stroke-width="0.3"/>
<text x="76.3" y="882.5" font-size="8.3" text-anchor="end">β-Actin</text>
<rect x="79.5" y="874.25" width="38" height="12.5" fill="#ececec" stroke="#c8c8c8" stroke-width="0.3"/>
<rect x="120" y="874.25" width="38" height="12.5" fill="#e8e8e8" stroke="#c8c8c8" stroke-width="0.3"/>
<rect x="161.2" y="874.25" width="39.6" height="12.5" fill="#eaeaea" stroke="#c8c8c8" stroke-width="0.3"/>
<rect x="120" y="801.25" width="38" height="12.75" fill="url(#gd)"/>
<rect x="161.2" y="801.25" width="39.6" height="12.75" fill="url(#gd)"/>
<g filter="url(#b1)">
<rect x="79.54" y="777.34" width="10.58" height="2.4" rx="1.2" fill="#171717"/>
<rect x="95.74" y="777.79" width="5.52" height="1.5" rx="0.75" fill="#dddddd"/>
<rect x="108.91" y="777.79" width="5.52" height="1.5" rx="0.75" fill="#cecece"/>
<rect x="121.19" y="777.19" width="8.28" height="2.7" rx="1.35" fill="#373737"/>
<rect x="136.24" y="777.79" width="5.52" height="1.5" rx="0.75" fill="#dbdbdb"/>
<rect x="161.05" y="777.26" width="11.5" height="2.55" rx="1.27" fill="#101010"/>
<rect x="191.02" y="777.71" width="7.36" height="1.65" rx="0.83" fill="#b3b3b3"/>
<rect x="80.69" y="790.23" width="8.28" height="2.55" rx="1.27" fill="#676767"/>
<rect x="94.36" y="790.38" width="8.28" height="2.25" rx="1.12" fill="#959595"/>
<rect x="107.53" y="790.38" width="8.28" height="2.25" rx="1.12" fill="#929292"/>
<rect x="121.19" y="789.92" width="8.28" height="3.15" rx="1.58" fill="#595959"/>
<rect x="134.86" y="790.38" width="8.28" height="2.25" rx="1.12" fill="#939393"/>
<rect x="148.03" y="790.38" width="8.28" height="2.25" rx="1.12" fill="#969696"/>
<rect x="162.2" y="790.08" width="9.2" height="2.85" rx="1.42" fill="#484848"/>
<rect x="176.86" y="790.23" width="8.28" height="2.55" rx="1.27" fill="#6d6d6d"/>
<rect x="190.56" y="790.38" width="8.28" height="2.25" rx="1.12" fill="#898989"/>
<rect x="80.69" y="805.94" width="8.28" height="2.1" rx="1.05" fill="#4e4e4e"/>
<rect x="95.28" y="806.24" width="6.44" height="1.5" rx="0.75" fill="#d6d6d6"/>
<rect x="108.45" y="806.24" width="6.44" height="1.5" rx="0.75" fill="#cdcdcd"/>
<rect x="120.04" y="805.34" width="10.58" height="3.3" rx="1.65" fill="#2a2a2a"/>
<rect x="134.86" y="805.64" width="8.28" height="2.7" rx="1.35" fill="#484848"/>
<rect x="149.41" y="806.24" width="5.52" height="1.5" rx="0.75" fill="#cbcbcb"/>
<rect x="161.74" y="807.06" width="10.12" height="2.85" rx="1.42" fill="#1c1c1c"/>
<rect x="177.78" y="806.29" width="6.44" height="2.4" rx="1.2" fill="#7d7d7d"/>
<rect x="191.94" y="806.29" width="5.52" height="2.4" rx="1.2" fill="#737373"/>
<rect x="78.85" y="821.31" width="11.96" height="3.9" rx="1.95" fill="#0c0c0c"/>
<rect x="93.9" y="822.06" width="9.2" height="2.4" rx="1.2" fill="#202020"/>
<rect x="107.3" y="822.14" width="8.74" height="2.25" rx="1.12" fill="#242424"/>
<rect x="120.04" y="821.99" width="10.58" height="2.55" rx="1.27" fill="#101010"/>
<rect x="135.78" y="822.51" width="6.44" height="1.5" rx="0.75" fill="#c5c5c5"/>
<rect x="149.41" y="822.51" width="5.52" height="1.5" rx="0.75" fill="#d4d4d4"/>
<rect x="161.74" y="821.84" width="10.12" height="2.85" rx="1.42" fill="#1e1e1e"/>
<rect x="176.4" y="822.21" width="9.2" height="2.1" rx="1.05" fill="#4d4d4d"/>
<rect x="190.33" y="822.29" width="8.74" height="1.95" rx="0.98" fill="#5f5f5f"/>
<rect x="80.46" y="835.83" width="8.74" height="2.1" rx="1.05" fill="#2c2c2c"/>
<rect x="94.82" y="836.12" width="7.36" height="1.5" rx="0.75" fill="#cacaca"/>
<rect x="107.99" y="836.12" width="7.36" height="1.5" rx="0.75" fill="#c3c3c3"/>
<rect x="120.5" y="835.6" width="9.66" height="2.55" rx="1.27" fill="#161616"/>
<rect x="135.78" y="836.12" width="6.44" height="1.5" rx="0.75" fill="#d0d0d0"/>
<rect x="148.95" y="836.12" width="6.44" height="1.5" rx="0.75" fill="#c8c8c8"/>
<rect x="161.74" y="835.6" width="10.12" height="2.55" rx="1.27" fill="#161616"/>
<rect x="176.4" y="835.75" width="9.2" height="2.25" rx="1.12" fill="#202020"/>
<rect x="189.87" y="835.67" width="9.66" height="2.4" rx="1.2" fill="#1c1c1c"/>
<rect x="80.23" y="851.01" width="9.2" height="2.85" rx="1.42" fill="#0f0f0f"/>
<rect x="94.36" y="851.46" width="8.28" height="1.95" rx="0.98" fill="#828282"/>
<rect x="107.53" y="851.46" width="8.28" height="1.95" rx="0.98" fill="#6f6f6f"/>
<rect x="120.96" y="850.94" width="8.74" height="3" rx="1.5" fill="#101010"/>
<rect x="135.32" y="851.54" width="7.36" height="1.8" rx="0.9" fill="#999999"/>
<rect x="148.49" y="851.54" width="7.36" height="1.8" rx="0.9" fill="#8f8f8f"/>
<rect x="162.43" y="851.09" width="8.74" height="2.7" rx="1.35" fill="#161616"/>
<rect x="177.32" y="851.69" width="7.36" height="1.5" rx="0.75" fill="#c1c1c1"/>
<rect x="191.48" y="851.69" width="6.44" height="1.5" rx="0.75" fill="#c9c9c9"/>
<rect x="80.23" y="864.55" width="9.2" height="2.4" rx="1.2" fill="#999999"/>
<rect x="93.9" y="864.55" width="9.2" height="2.4" rx="1.2" fill="#999999"/>
<rect x="107.07" y="864.55" width="9.2" height="2.4" rx="1.2" fill="#999999"/>
<rect x="120.73" y="864.48" width="9.2" height="2.55" rx="1.27" fill="#818181"/>
<rect x="134.4" y="864.55" width="9.2" height="2.4" rx="1.2" fill="#8d8d8d"/>
<rect x="147.57" y="864.55" width="9.2" height="2.4" rx="1.2" fill="#868686"/>
<rect x="162.2" y="864.48" width="9.2" height="2.55" rx="1.27" fill="#848484"/>
<rect x="176.4" y="864.55" width="9.2" height="2.4" rx="1.2" fill="#919191"/>
<rect x="190.1" y="864.55" width="9.2" height="2.4" rx="1.2" fill="#9d9d9d"/>
<rect x="80.46" y="880.38" width="8.74" height="1.5" rx="0.75" fill="#4f4f4f"/>
<rect x="94.36" y="880.38" width="8.28" height="1.5" rx="0.75" fill="#4f4f4f"/>
<rect x="107.3" y="880.3" width="8.74" height="1.65" rx="0.83" fill="#444444"/>
<rect x="120.04" y="880.08" width="10.58" height="2.1" rx="1.05" fill="#171717"/>
<rect x="134.17" y="880.15" width="9.66" height="1.95" rx="0.98" fill="#222222"/>
<rect x="147.11" y="880.15" width="10.12" height="1.95" rx="0.98" fill="#1d1d1d"/>
<rect x="162.43" y="880.38" width="8.74" height="1.5" rx="0.75" fill="#646464"/>
<rect x="176.63" y="880.38" width="8.74" height="1.5" rx="0.75" fill="#595959"/>
<rect x="190.33" y="880.38" width="8.74" height="1.5" rx="0.75" fill="#595959"/>
<rect x="153.2" y="801.6" width="4.6" height="6" fill="#222" opacity="0.9"/>
<rect x="111.5" y="781.8" width="2.2" height="1.4" fill="#222"/>
</g>
<text x="238" y="755.5" font-size="10.5" font-weight="bold">H</text>
<circle cx="310" cy="847" r="32.5" fill="none" stroke="#c9c9c9" stroke-width="0.6"/>
<rect x="296" y="809" width="26" height="10" fill="#fff"/>
<rect x="313" y="821" width="36" height="10" fill="#fff"/>
<rect x="336" y="838" width="14" height="11" fill="#fff"/>
<rect x="296" y="876" width="38" height="10" fill="#fff"/>
<rect x="258" y="856" width="37" height="10" fill="#fff"/>
<rect x="265" y="828" width="24" height="10" fill="#fff"/>
<line x1="308.3" y1="756.5" x2="308.3" y2="774.5" stroke="#c9c9c9" stroke-width="0.6"/>
<line x1="308.3" y1="784.5" x2="308.3" y2="810" stroke="#c9c9c9" stroke-width="0.6"/>
<line x1="273" y1="779.5" x2="287" y2="779.5" stroke="#c9c9c9" stroke-width="0.6"/>
<line x1="321" y1="818" x2="352.5" y2="818" stroke="#c9c9c9" stroke-width="0.6"/>
<line x1="283" y1="812" x2="297" y2="822" stroke="#c9c9c9" stroke-width="0.6"/>
<line x1="350" y1="850.5" x2="350" y2="867" stroke="#c9c9c9" stroke-width="0.6"/>
<line x1="350" y1="877.5" x2="350" y2="886" stroke="#c9c9c9" stroke-width="0.6"/>
<text x="308.4" y="753.8" font-size="7.05" text-anchor="middle">Glucose</text>
<line x1="245.8" y1="777" x2="245.8" y2="784" stroke="#111" stroke-width="0.95"/>
<path d="M243.7 778.6 L245.8 775.5 L247.9 778.6 Z" fill="#111"/>
<text x="249.3" y="782" font-size="7.05">Lactate</text>
<line x1="290" y1="775.5" x2="290" y2="783" stroke="#111" stroke-width="0.95"/>
<path d="M287.9 781.4 L290 784.5 L292.1 781.4 Z" fill="#111"/>
<text x="294.3" y="782" font-size="7.05">Pyruvate</text>
<line x1="311.3" y1="791" x2="311.3" y2="798" stroke="#2c8c5a" stroke-width="0.95"/>
<path d="M309.2 796.4 L311.3 799.5 L313.4 796.4 Z" fill="#2c8c5a"/>
<text x="315" y="793.8" font-size="7.05" fill="#2c8c5a" style="stroke:#2c8c5a">PDC</text>
<text x="314.5" y="802.3" font-size="7.05" fill="#2c8c5a" style="stroke:#2c8c5a">(PDHB, DLAT, DLD)</text>
<line x1="246.3" y1="802.3" x2="246.3" y2="809" stroke="#111" stroke-width="0.95"/>
<path d="M244.2 807.4 L246.3 810.5 L248.4 807.4 Z" fill="#111"/>
<text x="250" y="808.8" font-size="7.05">Aspartate</text>
<text x="298.3" y="816.8" font-size="7.05">Citrate</text>
<line x1="329.5" y1="807.3" x2="329.5" y2="814.3" stroke="#2c8c5a" stroke-width="0.95"/>
<path d="M327.4 812.7 L329.5 815.8 L331.6 812.7 Z" fill="#2c8c5a"/>
<text x="332" y="814.5" font-size="7.05" fill="#2c8c5a" style="stroke:#2c8c5a">ACLY</text>
<text x="354.5" y="820.5" font-size="7.05">Acetyl-CoA</text>
<line x1="312.5" y1="822.3" x2="312.5" y2="829" stroke="#111" stroke-width="0.95"/>
<path d="M310.4 827.4 L312.5 830.5 L314.6 827.4 Z" fill="#111"/>
<text x="316.3" y="829.3" font-size="7.05">Aconitate</text>
<text x="267" y="836" font-size="7.05">Malate</text>
<line x1="338.8" y1="841.5" x2="338.8" y2="848.8" stroke="#111" stroke-width="0.95"/>
<path d="M336.7 843.1 L338.8 840 L340.9 843.1 Z" fill="#111"/>
<text x="342.8" y="847" font-size="7.05">α-KG</text>
<line x1="260" y1="857.3" x2="260" y2="864.8" stroke="#111" stroke-width="0.95"/>
<path d="M257.9 863.2 L260 866.3 L262.1 863.2 Z" fill="#111"/>
<text x="263.8" y="864.5" font-size="7.05">Fumarate</text>
<line x1="313" y1="856" x2="313" y2="863" stroke="#2c8c5a" stroke-width="0.95"/>
<path d="M310.9 861.4 L313 864.5 L315.1 861.4 Z" fill="#2c8c5a"/>
<text x="316.3" y="863.3" font-size="7.05" fill="#2c8c5a" style="stroke:#2c8c5a">OGDH</text>
<line x1="268" y1="875.5" x2="268" y2="883" stroke="#2c8c5a" stroke-width="0.95"/>
<path d="M265.9 881.4 L268 884.5 L270.1 881.4 Z" fill="#2c8c5a"/>
<text x="271.3" y="882.5" font-size="7.05" fill="#2c8c5a" style="stroke:#2c8c5a">SDHB</text>
<line x1="296.3" y1="877.3" x2="296.3" y2="884.8" stroke="#111" stroke-width="0.95"/>
<path d="M294.2 883.2 L296.3 886.3 L298.4 883.2 Z" fill="#111"/>
<text x="299.5" y="884.3" font-size="7.05">Succinate</text>
<line x1="338.8" y1="869.5" x2="338.8" y2="876.3" stroke="#111" stroke-width="0.95"/>
<path d="M336.7 871.1 L338.8 868 L340.9 871.1 Z" fill="#111"/>
<text x="342.5" y="874.5" font-size="7.05">Glutamate</text>
<line x1="338.8" y1="887.8" x2="338.8" y2="895" stroke="#111" stroke-width="0.95"/>
<path d="M336.7 889.4 L338.8 886.3 L340.9 889.4 Z" fill="#111"/>
<text x="342.5" y="893.2" font-size="7.05">Glutamine</text>
<text x="6.8" y="907.5" font-size="10.5" font-weight="bold">I</text>
<text x="45.4" y="922.5" font-size="7.2" text-anchor="middle">ONC201 vs. vehicle</text>
<text x="45.3" y="932.5" font-size="7.2" text-anchor="middle">(Log<tspan font-size="5" dy="1.6">2</tspan><tspan dy="-1.6"> FC, X-axis)</tspan></text>
<path d="M32.6 949.2 L32.6 953.2 A14.15 10.9 0 0 0 60.9 953.2 L60.9 949.2 Z" fill="#ee6b2f"/>
<ellipse cx="46.75" cy="949.2" rx="13.85" ry="10.6" fill="#fbe6da" stroke="#c9e0e8" stroke-width="0.7"/>
<ellipse cx="46.75" cy="950.9" rx="13.15" ry="8.8" fill="#f1824a"/>
<ellipse cx="46.75" cy="950.4" rx="12.25" ry="8" fill="#e8531c"/>
<line x1="46" y1="967.5" x2="46" y2="991.48" stroke="#222" stroke-width="0.9"/>
<polygon points="46,994 44.36,990.13 47.64,990.13" fill="#222"/>
<text x="32" y="1003" font-size="7.2">RNA-seq</text>
<line x1="62.5" y1="997.5" x2="84.32" y2="980.36" stroke="#222" stroke-width="0.9"/>
<polygon points="86.3,978.8 84.27,982.48 82.25,979.9" fill="#222"/>
<line x1="62" y1="1007.5" x2="84.45" y2="1028.29" stroke="#222" stroke-width="0.9"/>
<polygon points="86.3,1030 82.35,1028.58 84.58,1026.17" fill="#222"/>
<text x="61.3" y="973.3" font-size="7.2">Downregulated</text>
<text x="70" y="1040.5" font-size="7.2">Upregulated</text>
<line x1="113.5" y1="972.2" x2="121.5" y2="972.2" stroke="#222" stroke-width="0.7"/>
<path d="M112 972.2 L114.8 970.5 L114.8 973.9 Z" fill="#222"/>
<path d="M123 972.2 L120.2 970.5 L120.2 973.9 Z" fill="#222"/>
<line x1="113.5" y1="1038.6" x2="121.5" y2="1038.6" stroke="#222" stroke-width="0.7"/>
<path d="M112 1038.6 L114.8 1036.9 L114.8 1040.3 Z" fill="#222"/>
<path d="M123 1038.6 L120.2 1036.9 L120.2 1040.3 Z" fill="#222"/>
<text x="127.7" y="964.2" font-size="7.2">Genes positively</text>
<text x="127.7" y="973.5" font-size="7.2">correlating with</text>
<text x="127.7" y="982.7" font-size="7.2">response</text>
<text x="127.7" y="1031" font-size="7.2">Genes negatively</text>
<text x="127.7" y="1040.2" font-size="7.2">correlating with</text>
<text x="127.7" y="1048.8" font-size="7.2">response</text>
<text x="191.7" y="917" font-size="7.2" text-anchor="middle">ONC201</text>
<text x="192.7" y="925.8" font-size="7.2" text-anchor="middle">Responders vs. nonresponders</text>
<text x="192.7" y="934.4" font-size="7.2" text-anchor="middle">(Spearman correlate, Y-axis)</text>
<text x="231" y="944.8" font-size="7.2" text-anchor="middle">Responders</text>
<text x="231.2" y="1058" font-size="7.2" text-anchor="middle">Nonresponders</text>
<text x="192.3" y="998.7" font-size="7.2">RNA-seq</text>
<line x1="190.8" y1="992" x2="177.36" y2="981.18" stroke="#222" stroke-width="0.9"/>
<polygon points="175.4,979.6 179.44,980.75 177.38,983.3" fill="#222"/>
<line x1="189.2" y1="1002" x2="176.95" y2="1017.62" stroke="#222" stroke-width="0.9"/>
<polygon points="175.4,1019.6 176.49,1015.55 179.08,1017.57" fill="#222"/>
<circle cx="231" cy="950.83" r="1.7" fill="#5c3a8e"/>
<rect x="229.06" y="952.99" width="3.89" height="5.76" rx="0.86" fill="#5c3a8e"/>
<path d="M229.7 953.49 L227.18 957.09 M232.3 953.49 L234.82 957.09" stroke="#5c3a8e" stroke-width="1.27" stroke-linecap="round" fill="none"/>
<path d="M229.93 958.03 L229.88 962.85 M232.07 958.03 L232.12 962.85" stroke="#5c3a8e" stroke-width="1.51" stroke-linecap="round" fill="none"/>
<circle cx="231" cy="968.23" r="1.7" fill="#7d60ab"/>
<rect x="229.06" y="970.39" width="3.89" height="5.76" rx="0.86" fill="#7d60ab"/>
<path d="M229.7 970.89 L227.18 974.49 M232.3 970.89 L234.82 974.49" stroke="#7d60ab" stroke-width="1.27" stroke-linecap="round" fill="none"/>
<path d="M229.93 975.43 L229.88 980.25 M232.07 975.43 L232.12 980.25" stroke="#7d60ab" stroke-width="1.51" stroke-linecap="round" fill="none"/>
<circle cx="231" cy="985.63" r="1.7" fill="#ab98cf"/>
<rect x="229.06" y="987.79" width="3.89" height="5.76" rx="0.86" fill="#ab98cf"/>
<path d="M229.7 988.29 L227.18 991.89 M232.3 988.29 L234.82 991.89" stroke="#ab98cf" stroke-width="1.27" stroke-linecap="round" fill="none"/>
<path d="M229.93 992.83 L229.88 997.65 M232.07 992.83 L232.12 997.65" stroke="#ab98cf" stroke-width="1.51" stroke-linecap="round" fill="none"/>
<circle cx="231" cy="1003.03" r="1.7" fill="#b9d7ea"/>
<rect x="229.06" y="1005.19" width="3.89" height="5.76" rx="0.86" fill="#b9d7ea"/>
<path d="M229.7 1005.69 L227.18 1009.29 M232.3 1005.69 L234.82 1009.29" stroke="#b9d7ea" stroke-width="1.27" stroke-linecap="round" fill="none"/>
<path d="M229.93 1010.23 L229.88 1015.05 M232.07 1010.23 L232.12 1015.05" stroke="#b9d7ea" stroke-width="1.51" stroke-linecap="round" fill="none"/>
<circle cx="231" cy="1020.43" r="1.7" fill="#8fb8de"/>
<rect x="229.06" y="1022.59" width="3.89" height="5.76" rx="0.86" fill="#8fb8de"/>
<path d="M229.7 1023.09 L227.18 1026.69 M232.3 1023.09 L234.82 1026.69" stroke="#8fb8de" stroke-width="1.27" stroke-linecap="round" fill="none"/>
<path d="M229.93 1027.63 L229.88 1032.45 M232.07 1027.63 L232.12 1032.45" stroke="#8fb8de" stroke-width="1.51" stroke-linecap="round" fill="none"/>
<circle cx="231" cy="1037.83" r="1.7" fill="#6c95c9"/>
<rect x="229.06" y="1039.99" width="3.89" height="5.76" rx="0.86" fill="#6c95c9"/>
<path d="M229.7 1040.49 L227.18 1044.09 M232.3 1040.49 L234.82 1044.09" stroke="#6c95c9" stroke-width="1.27" stroke-linecap="round" fill="none"/>
<path d="M229.93 1045.03 L229.88 1049.85 M232.07 1045.03 L232.12 1049.85" stroke="#6c95c9" stroke-width="1.51" stroke-linecap="round" fill="none"/>
<path d="M335.8 955.02h0M332.19 964.31h0M340.65 944.3h0M333.59 953.54h0M333.23 956.36h0M344.87 952.95h0M339.07 957.38h0M336.53 949.78h0M340.34 943.69h0M329 969.38h0M332.13 964.08h0M344.99 949.34h0M349.98 965.41h0M343.04 956.47h0M349.42 967.22h0M341.81 945.44h0M347.54 969.17h0M344.66 963.07h0M336.53 966.67h0M343.48 958.59h0M344.63 956.02h0M341.78 970.87h0M336.45 948.36h0M340.15 972.63h0M336.22 963.11h0M337.17 967.93h0M336.7 972.04h0M343.31 949.98h0M334.27 957.03h0M343.92 960.51h0M334.71 969.75h0M339.47 953.39h0M326.98 948.99h0M332.78 959.35h0M341.39 945.56h0M338.83 956.89h0M348.62 950.24h0M338.55 964.53h0M330.33 966.8h0M322.09 970.83h0M327.95 954.92h0M325.4 972.89h0M348.11 944.05h0M332.76 971.84h0M348.36 948.02h0M335.79 961.48h0M329.46 945.62h0M350.01 946.62h0M345.23 945.76h0M342.84 969.04h0M346.43 957.39h0M347.31 970.5h0M347.29 969.92h0M342.99 947.74h0M349.71 952.84h0M342.2 970.61h0M333.15 965.09h0M341.49 972.83h0M345.6 964.16h0M328.39 971.76h0M331.17 962.14h0M331.61 952.66h0M346.45 947.43h0M337.86 947.91h0M348.62 960.87h0M346.71 953.34h0M338.14 945.11h0M331.91 964.1h0M338.74 953.23h0M335.48 960.44h0M349.41 968.08h0M340.04 967.9h0M334.17 967.55h0M338.76 970.03h0M332.1 944.45h0M328.5 970.2h0M344.53 944.6h0M332.84 954.5h0M344.46 957.46h0M345.07 955.98h0M330.49 958.58h0M332.66 965.06h0M331.64 963.49h0M347.23 945.35h0M345.54 958.83h0M334.02 954.03h0M349.5 961.99h0M344.56 963.06h0M340.63 946.99h0M340.21 946.89h0M347.88 961.98h0M334.4 948.11h0M343.34 950.39h0M328.01 963.07h0M345.51 956.91h0M349.81 965.39h0M338.25 955.66h0M329.5 964.88h0M346.75 959.42h0M342.28 967.49h0M343.63 963.54h0M339.84 954.44h0M337.26 971.09h0M331.79 962.96h0M347.33 952.27h0M347.3 953.27h0M338.7 956.23h0M340.09 949.02h0M335.01 967.03h0M329.83 962.11h0M340.77 952.03h0M328.17 949.55h0M338.96 955.68h0M338.1 952.55h0M330.17 949.48h0M344.48 945.33h0M337.31 947.67h0M336.67 945.24h0M345.37 951.15h0M344.05 952.84h0M331.27 966.43h0M347.78 966.57h0M345.73 955.61h0M346.86 948.03h0M341.36 955.77h0M343.89 951.3h0M346.51 956.59h0M346.28 961.98h0M325.37 965.38h0M336.58 960.08h0M340.69 947.21h0M341.59 970.03h0M332.12 964.99h0M343.21 966.04h0M330.87 967.73h0M340.7 955.74h0M330.23 967.58h0M342.82 957.48h0M338.99 947.42h0M326.4 947.17h0M344.51 945.44h0M344.85 953.49h0M346.54 961.35h0M349.15 952.41h0M333.58 947.81h0M346.47 951.39h0M338.31 967.89h0M338.57 947.06h0M346.77 945.38h0M332.77 967.95h0M326.46 952.64h0M342 960.33h0M350.02 944.03h0M329.62 972.87h0M349.09 945.25h0M340.97 966.57h0M330.29 962.98h0M337.31 957.68h0M341.87 944.94h0M334.34 949.36h0M334.62 948.36h0M349.68 945.12h0M338.49 948.24h0M332.43 970.58h0M344.8 950.01h0M331.76 958.7h0M341.28 943.51h0M338.84 968.74h0M324.31 944.65h0M333.81 967.75h0M341.95 958.35h0M343.15 959.95h0M337.84 957.37h0M337.37 970.85h0M331.71 951.39h0M338.63 955.29h0M342.07 972.31h0M342.48 972.73h0M342.49 964.76h0M345.13 944.05h0M335.13 969.47h0M348.3 962.42h0M337.02 962.87h0M332.95 954.27h0M339.44 944.07h0M349.61 948.57h0M338.08 949.01h0M349.42 949.14h0M334.1 943.27h0M332.19 948.2h0M334.82 962.46h0M332.06 960.02h0M330.23 961.25h0M343.1 954.29h0M342.8 964.12h0M345.44 960.73h0M345.57 954.24h0M330.34 958.35h0M337.86 967.34h0M327.68 969.28h0M336.08 953.04h0M334.76 961.37h0M345.19 950.8h0M337.68 954.63h0M350.05 970.92h0M338.5 947.59h0M327.42 958.62h0M336.65 946.29h0M333.64 961h0M349.76 965.69h0M341.71 959.18h0M336.22 946.9h0M327.57 968.02h0M328.87 951.6h0M335.6 946.06h0M331.8 971.8h0M340.55 948.8h0M342.96 947.55h0M334.16 959.29h0M349.59 945.99h0M328.81 949.97h0M330.82 943.57h0M337.77 949.58h0M343.58 963.17h0M347.13 963.31h0M349.7 964.33h0M344.77 949.78h0M349.62 950.5h0M347.1 954.94h0M342.3 944.54h0M349.09 956.1h0M345.61 945.33h0M348.06 964.86h0M336.44 946.9h0M330.9 965.35h0M336.34 953.28h0M341.71 958.4h0M347.25 952.71h0M332.85 957.38h0M350 966.15h0M340.17 963.48h0M339.84 952.1h0M325.49 964.97h0M346.34 972.22h0M333.16 959.92h0M339.26 967.68h0M338.43 951.49h0M335.27 947.97h0M337.05 962.42h0M341.96 946.86h0M344.62 969.01h0M342.49 972.29h0M341.52 961.26h0M346.81 956.87h0M337.54 947.75h0M335.41 955.23h0M335.64 952.2h0M332.86 967.02h0M333.45 958.7h0M344.14 954.2h0M336.01 962.21h0M332.45 965.86h0M334.64 954.87h0M344.58 951.48h0M340.76 963.47h0M340.22 954.81h0M350.04 943.34h0M349.11 958.01h0M343 956.71h0M344.06 954.82h0M338.86 958.2h0M346.98 965.59h0M340.87 949.33h0M343.6 956.9h0M335.42 964.87h0M342.64 968.23h0M346.6 947.92h0M338.33 959.46h0M330.68 962.98h0M342.06 949.08h0M327.64 968.28h0M346.88 943.77h0M343.39 962.25h0M347.97 960.64h0M346.3 953.21h0M346.2 968.83h0M333.22 956.71h0M346.16 947.1h0M349.52 966.89h0M316.72 955.93h0M342.24 972.33h0M343.53 945.87h0M347.44 945.41h0M347.86 956.68h0M344.64 945.77h0M332.4 962.49h0M335.54 967.03h0M345.38 953.97h0M338.31 951.95h0M338.52 949.2h0M346.59 951.65h0M332.92 966.44h0M328.68 965.8h0M344.8 959.49h0M345.75 945.91h0M348.25 946.46h0M349.58 957.57h0M336.84 943.54h0M344.03 951.07h0M330.68 965.31h0M336.96 970.07h0M334.8 950.9h0M349.79 971.83h0M340.31 970.27h0M340.47 947.85h0M341.35 961.4h0M337.41 962.64h0M327.77 970.18h0M350.05 945.41h0M340.56 948.68h0M349.76 945.6h0M345.93 968.29h0M337.48 950.72h0M336.59 952.65h0M348.93 950.25h0M338.57 954.47h0M326.39 963.86h0M346.64 959.8h0M341.79 964.45h0M337.19 947.36h0M342.43 963.87h0M329.43 960.39h0M341.51 959.37h0M347.85 954.61h0M334.91 960.78h0M333.03 972.04h0M331.63 953.1h0M349.6 967.83h0M340.2 945.96h0M343.28 957.17h0M334.62 948.23h0M340.13 955.16h0M347.5 957.12h0M337.81 962.16h0M333.91 962.6h0M347.9 950.8h0M344.64 960.01h0M325.71 959.63h0M336.5 967.1h0M347.44 965.16h0M343.6 958.77h0M330.8 963.25h0M345.4 965.18h0M334.27 957.55h0M331.28 954.71h0M345.82 951.26h0M338.17 960.53h0M334.59 967.95h0M335.51 972.43h0M349.86 952.62h0M349.82 949.46h0M347.02 949.28h0M336.02 968.63h0M340.02 972.04h0M347.67 945.46h0M348.45 954.34h0M344.97 944.67h0M341.53 966.36h0M328.65 959.78h0M344.39 960.79h0M346.43 957.19h0M348.45 961.29h0M329.27 953.89h0M336.67 958.64h0M332.2 962.41h0M350 958.89h0M337.66 966.17h0M333.47 968.16h0M342.83 970.19h0M339.83 961.06h0M327.67 970.27h0M328.22 964.45h0M340.74 961.1h0M347.07 967.94h0M327.25 962.85h0M342.82 953.08h0M341.31 952.18h0M348.3 946.65h0M345.53 944.02h0M339.75 969.42h0M338.72 964.8h0M335.67 947.44h0M341.87 952.95h0M341.8 945.96h0M335.93 967.82h0M339.05 971.41h0M346.23 965.23h0M347.48 943.99h0M331.15 969.32h0M336.34 951.22h0M335.34 950.99h0M341.66 948.95h0M348.31 972.82h0M340.89 947.19h0M348.09 944.06h0M328.27 964.74h0M341.67 971.71h0M338.69 944.94h0M326.91 961.64h0M339.22 965.55h0M331.93 960.39h0M333.53 971.91h0M344.57 944.54h0M338.97 961.7h0M332.82 950h0M342.27 954.07h0M346.55 969.16h0M326.42 967.85h0M346.5 965.69h0M331.23 969.86h0M344.49 944.75h0M349.46 965.56h0M310.59 966.42h0M338.32 961.27h0M342.39 944.35h0M345.19 952.01h0M340.9 962.6h0M320.62 955.58h0M319.06 968.47h0M346.1 964.74h0M346.26 957.76h0M347.31 957.31h0M342.39 952.46h0M338.15 967.02h0M348.06 947.49h0M338.31 967.39h0M347.19 964.33h0M336.46 954.74h0M330 966.85h0M336.28 971.21h0M336.27 953.09h0M345.69 958.64h0M349.87 948.14h0M348.23 948.71h0M332.81 968.52h0M344.81 945.82h0M348.6 964.4h0M335.14 958.59h0M341.06 949.16h0M339.69 949.51h0M349.57 948.58h0M340.92 966.28h0M336.34 970.9h0M344.9 962.15h0M329.31 962.5h0M342.36 966.78h0M340.34 954.45h0M333.32 952.69h0M335.58 949.41h0M336.19 950.42h0M344.07 946.16h0M337.26 952.28h0M343.14 959.32h0M341.35 962.39h0M342.69 961.53h0M339.04 962.68h0M336.13 968.68h0M344.57 961.48h0M343.99 958.51h0M321.18 957.27h0M336.53 969.43h0M345.24 957.25h0M333.81 959.13h0M335.12 944.88h0M325.43 967.99h0M338.08 964.84h0M346.27 950.12h0M330.78 964.12h0M341.29 956.18h0M338.19 972.39h0M340.95 966.82h0M337.67 947.25h0M340.17 966.75h0M329.16 966.27h0M339.41 967h0M346.69 950.28h0M331.2 950.32h0M343.11 944.4h0M342.59 964.57h0M339.28 944.04h0M345.4 945.07h0M336.15 967.31h0M332.47 968.07h0M343.41 968.03h0M349.42 956.72h0M332.94 965.93h0M348.45 944.62h0M340.82 946.94h0M340.91 953.77h0M332.99 959.04h0M335.37 972.22h0M343.72 946.41h0M349.05 965.59h0M339.3 965.27h0M348.89 954.03h0M342.29 946.89h0M344.29 954.43h0M348.37 954.98h0M338.42 962.31h0M341.41 964.46h0M332.9 970.56h0M343.35 952.26h0M344.43 966.17h0M348.24 961.88h0M349.89 948.06h0M338.73 952.39h0M343.43 958.98h0M348.33 945.93h0M346.05 955.67h0M348.05 956.44h0M342.55 946.29h0M337.9 963.96h0M335.44 960.06h0M349.46 963.08h0M338.2 945.49h0M344.07 953.29h0M344.75 962.82h0M330.36 962.19h0M335.46 958.54h0M343.07 971.99h0M336.14 952.8h0M347.88 944.06h0M348.24 963.73h0M330.23 965.17h0M333.72 953.57h0M344.8 945.86h0M333.35 962.99h0M334.45 963.58h0M349.54 970.4h0M336.32 965.02h0M335.01 947.94h0M341 972.05h0M335.11 965.6h0M337.39 944.33h0M331.66 962.63h0M345.54 951.14h0M332.54 968.78h0M331.37 966.08h0M349.83 946.89h0M342.23 947.7h0M337.31 967.22h0M344.95 972.52h0M341.65 948.7h0M348.1 952.55h0M334.29 961.15h0M340.71 963.38h0M341.58 959.26h0M328.63 971.2h0M346.22 954.49h0M340.27 950.59h0M332.38 966.54h0M349.79 960.52h0M335.1 954.57h0M345.01 946.47h0M338.7 957.53h0M316.2 960.44h0M333.38 959.13h0M338.98 972.81h0M331.79 968.95h0M331.35 963.23h0M332.4 958.66h0M334.96 963.56h0M344.62 957.54h0M338.78 952.38h0M343.8 964.05h0M347.65 947.34h0M331.13 970.2h0M325.2 964.73h0M334.52 958.28h0M347.02 954.26h0M344.88 955.39h0M346.65 963.78h0M349.76 962.51h0M338.53 959.37h0M329.28 964.39h0M341.71 957.92h0M345.89 961.86h0M344.44 961.18h0M341.97 964.42h0M340 966.21h0M329.91 965.92h0M339.1 956.98h0M329.48 955.15h0M336.97 971.01h0M334.97 959.77h0M349.2 958.5h0M349.6 960.58h0M346.12 943.57h0M340.43 957.19h0M335.76 961.68h0M332.47 969.88h0M347.35 943.87h0M331.98 963.46h0M343.97 965.36h0M348.21 962.4h0M334.2 965.17h0M341.83 947.48h0M346.54 959.86h0M341.33 972.39h0M330.74 961.21h0M340.23 969.39h0M336.67 953.66h0M340.08 945.76h0M338.16 954.72h0M347.99 955.76h0M335.22 943.76h0M335.5 944.04h0M333.32 963.48h0M337.69 946.74h0M335.93 948.23h0M335.96 962.77h0M332.83 951.19h0M330.94 966.95h0M327.63 947.37h0M337.22 949.39h0M346.04 971.95h0M341.56 949.15h0M339.65 943.44h0M349.25 967.39h0M344.09 958.14h0M345.19 957.03h0M339.52 949.11h0M327.02 950.31h0M344.15 947.09h0M323.24 957.69h0M337.92 947.96h0M346.34 951.28h0M342.86 945.31h0M343.48 952.34h0M334.65 964.63h0M333.64 943.32h0M345.89 956.66h0M342.75 970.3h0M340.38 967.82h0M327.67 970.61h0M332.3 954.59h0M332.41 966.42h0M339.02 952h0M337.39 947.64h0M339.8 943.82h0M328.51 969.9h0M336.17 953.12h0M337.25 951.75h0M340.18 967.37h0M334.54 972.6h0M343.53 962.96h0M336.91 946.42h0M342.19 948.18h0M337.97 958.19h0M338.6 951.11h0M348.67 965.62h0M348.77 943.25h0M349.79 970.21h0M339.83 961.53h0M335.48 946.11h0M326.03 964.27h0M326.32 971.08h0M335.4 963.43h0M333.6 957.46h0M336.71 960.6h0M336.85 946.33h0M336.54 970.07h0M340.64 955.02h0M348.29 966.22h0M345.4 961.23h0M334.12 951.96h0M325.79 966h0M350.02 952.99h0M345.14 944.1h0M347.13 967.47h0M344.01 945.28h0M340.65 943.76h0M339.41 972.67h0M341.9 967.17h0M342.52 943.95h0M344.37 950.2h0M346.55 965.47h0M349.47 952.64h0M349.32 944.2h0M333.06 964.68h0M348.2 952.72h0M338.29 968h0M349 943.76h0M342.93 956.13h0M345.95 971.15h0M344.35 943.41h0M326.24 963.69h0M345.29 944.42h0M344.66 959.57h0M334.23 970.08h0M343.15 953.8h0M339.47 943.27h0M330.47 955.36h0M337.54 953.63h0M338.79 955.52h0M348.61 950.76h0M349.71 965.52h0M347.76 965.89h0M333.06 960.31h0M331.19 964.47h0M340.65 952.28h0M347.8 948.45h0M337.78 969.31h0M340.6 972.21h0M348.4 943.54h0M330.94 961.67h0M337.86 970.5h0M336.67 957.61h0M340.04 956.1h0M335.12 951.21h0M342.24 970.96h0M346.4 965.51h0M320.5 959.89h0M343.73 953.14h0M340.48 943.66h0M336.28 960.69h0M333.78 970.54h0M337.51 968.6h0M329.75 960.2h0M333.2 964.9h0M339.39 958.56h0M341.16 946.13h0M349.45 952.81h0M347.67 959.26h0M340.56 965.43h0M337.28 947.92h0M338.8 948.45h0M345.63 966.32h0M342.57 949.98h0M332.85 955.6h0M335.27 948.33h0M339.23 965.08h0M337.24 970.5h0M334.9 948.09h0M329.86 970.73h0M336.86 959.11h0M332.65 957.55h0M337.16 949.97h0M338.7 964.86h0M343.55 956.93h0M347.62 949.08h0M345.15 965.61h0M343.95 964.12h0M341.53 951.86h0M341.1 946.27h0M339.74 961.03h0M337.94 965.45h0M348.08 944.5h0M313.28 961.72h0M337.04 960.83h0M348.9 943.46h0M339.7 960.28h0M345.57 959.61h0M333.03 962.53h0M325.62 967.53h0M336.02 944.07h0M340.21 959.89h0M328.05 948.09h0M343.81 965.04h0M323.37 948.5h0M347.32 949.18h0M335.44 956.32h0M345.95 952.31h0M349.69 943.27h0M343.76 945.8h0M331.13 945.96h0M349.94 963.96h0M349.42 947.64h0M333.11 972.76h0M338.62 959.5h0M349.51 966.91h0M345.76 944.73h0M337.48 964.22h0M332.26 960.8h0M339.1 961.69h0M337.67 944.46h0M337.36 970.94h0M337.57 971.75h0M341.52 951.57h0M350.1 969.5h0M328.76 961.6h0M336.04 957.9h0M349.72 956.36h0M333.34 962.87h0M332.39 970.4h0M331.88 957.67h0M342.68 945.53h0M334 964.21h0M331.95 967.84h0M339.65 965.75h0M345.56 966.95h0M344.81 972.57h0M322.04 949.62h0M348.72 960.27h0M338.16 952.2h0M337.37 962.95h0M333.15 955.82h0M342.89 972.28h0M346.4 956.83h0M343.11 970.5h0M348.92 965.88h0M344.77 949.54h0M347.21 951.95h0M343.74 962.14h0M343.59 946.4h0M341.57 965.83h0M342.63 963.89h0M343.21 944.89h0M341.09 965.49h0M330.25 971.98h0M342.37 967.71h0M341.43 963.07h0M342.68 956.2h0M333.86 963.05h0M347.13 972.89h0M337.88 962.83h0M347.13 972.11h0M339.31 963.53h0M337.48 966.77h0M336.31 956.85h0M345 949.28h0M340.26 966.08h0M334.94 948.45h0M341.9 960.57h0M342.52 963.33h0M339.3 945.17h0M341.67 952.06h0M340.16 955.94h0M343.88 959.2h0M348.57 948.38h0M338.78 953.89h0M349.37 946.27h0M346.91 947.33h0M333.15 957.36h0M337.78 961.3h0M324.35 962.05h0M336.74 952.34h0M342.9 968.67h0M332.95 954.03h0M348.54 951.32h0M331.42 962.95h0M326.2 957.41h0M341.31 971.02h0M332.56 955.21h0M303.13 965.64h0M346.06 944.97h0M343.95 960.08h0M339.54 967.4h0M339.62 950.41h0M336.38 961.13h0M327.05 956.69h0M349.67 960.43h0M345.69 971.98h0M332.86 966.96h0M344.59 947.7h0M335.81 965.63h0M338.68 963.4h0M338.08 953.98h0M312.31 971.59h0M337.15 946.83h0M337.86 966.17h0M335.9 964.57h0M336.57 959.52h0M345.05 962.86h0M337.04 951.16h0M350.08 964.23h0M335.41 960.95h0M334.06 944.17h0M338.36 950.02h0M348.93 960.82h0M339.35 965.51h0M339.79 946.41h0M334.64 950.71h0M345.81 962.87h0M343.93 962.56h0M346.06 947.82h0M331.83 961.69h0M326.06 970.34h0M333.61 960.87h0M343.75 947.94h0M349.7 957.36h0M338.09 967.69h0M345.15 954.89h0M332.91 966.59h0M337.55 954.46h0M342.94 958.01h0M338.95 959.65h0M332.56 973.07h0M346.69 960.07h0M335.83 955.4h0M343.7 969.71h0M328.69 971.17h0M349.79 972.82h0M336.35 951.81h0M346.28 966.44h0M333.94 949.81h0M339.17 954.5h0M334.13 950.89h0M330.34 962.98h0M333.68 956.9h0M341.36 944.28h0M349.48 951.66h0M349.98 946.98h0M344.69 949.38h0M341.97 947.07h0M335.79 944.9h0M337.68 961.9h0M348.78 946.68h0M347.44 949.16h0M349.27 957.76h0M349.29 970.98h0M329.76 967.19h0M342.92 965.51h0M337.03 961.13h0M345.64 968.92h0M346.87 944.66h0M336.92 955.62h0M340.39 970.61h0M331.07 965h0M330.39 964.04h0M347.87 954.79h0M315.71 961.95h0M326.65 972.11h0M342.66 960.58h0M343.8 967.16h0M346.41 970.49h0M348.79 963.85h0M338.39 964.81h0M337.43 965.1h0M341.36 951.74h0M346.22 960.81h0M343.25 953.14h0M324.99 966.64h0M344.91 961.55h0M332.69 962.54h0M349.21 945.23h0M340.68 965.85h0M348.24 968.86h0M325.83 973.1h0M348.3 969.02h0M334.22 963.74h0M340.99 946.55h0M333.75 956.91h0M347.05 944.42h0M345.79 949.04h0M346.14 955.59h0M339.47 957.77h0M335.51 948.43h0M331.29 967.48h0M346.16 957.13h0M337.45 967.24h0M339.21 959.75h0M348.45 954.33h0M327.76 963.86h0M349.16 952.91h0M348.2 951h0M347.38 962.57h0M327.91 954.74h0M347.27 966.64h0M329.35 970.67h0M349.97 958.23h0M337.87 954.87h0M337.73 968.34h0M342.47 960.47h0M338.47 943.95h0M336.78 944.68h0M346.95 965.85h0M342.97 959.52h0M338.49 970.29h0M331.94 964.53h0M332.89 950.95h0M338.85 946.24h0M345.45 946.23h0M338.41 970.17h0M333.78 958.1h0M345.6 953.64h0M340.64 952.98h0M343.09 970.32h0M339.37 968.54h0M342.74 945.6h0M341.72 969.14h0M328.69 961.74h0M343.65 953.83h0M347.03 963.89h0M338.52 955.65h0M340.74 945.71h0M347.31 970.55h0M335.77 960.28h0M341.04 957.76h0M334.54 970.62h0M346.8 959.48h0M337.88 959.48h0M338.74 965.76h0M339.45 948.02h0M346.67 962.22h0M346.98 944.37h0M333.36 959.47h0M314.99 970.08h0M348.97 951.89h0M348.21 956.82h0M334.94 949.89h0M336.05 971.15h0M335.59 961.19h0M339.66 961.47h0M345.23 959.04h0M350.08 956.85h0M348.56 965.63h0M331.01 956.56h0M320.37 972.08h0M348.56 944.04h0M337.19 972.96h0M332.83 969.52h0M334.45 957.7h0M331.01 966.65h0M342.82 960.25h0M348.1 956.3h0M337.45 965.72h0M343.06 952.54h0M330.9 971.49h0M335 947.52h0M343.16 968.72h0M335.85 964.91h0M335.51 954.49h0M339.72 955.24h0M335.95 956.04h0M338.09 962.11h0M339.48 945.04h0M335.23 950.15h0M340.23 958h0M328.1 954.76h0M350 950.17h0M336.86 949.44h0M344.34 948.95h0M349.53 950.29h0M341.46 950.65h0M340.8 963.98h0M331.3 960.06h0M341.48 953h0M331.16 954.17h0M336.55 953.29h0M341.8 965.74h0M347.94 948.7h0M344.67 955.47h0M343.08 969.74h0M339.33 956.9h0M332.19 963.36h0M346.1 944.04h0M344.88 963.36h0M335.83 966.69h0M346.82 961.04h0M325.17 969.61h0M336.36 944.69h0M338.21 962.58h0M323.36 946.83h0M334.85 971.58h0M345.02 955.97h0M335.28 964.43h0M341.68 951.51h0M333.45 963.21h0M332.7 968.17h0M336.98 947.77h0M348.99 961.74h0M334.59 967.53h0M335.03 969.93h0M334.85 951.76h0M342.05 962.31h0M339.31 950.8h0M329.21 962.88h0M342.25 955.36h0M338.51 965.42h0M342.44 968.15h0M348.67 952.63h0M342.93 947.7h0M341.14 956.26h0M332.68 943.64h0M334.6 951h0M335.37 972.86h0M348.73 956.58h0M343.81 956.75h0M337.08 950.58h0M332.34 956.39h0M344.04 957.76h0M341.01 961.3h0M345.47 943.44h0M348.42 959.29h0M336.01 954.9h0M343.83 944.31h0M338.86 949.24h0M347.9 959.35h0M347.58 954.59h0M346.27 954.77h0M346.92 968.24h0M338.42 971.5h0M344.77 953.49h0M345.28 968.2h0M339.46 970.58h0M309.36 964.37h0M341.03 962.44h0M342.93 953.31h0M340.09 957.8h0M349.33 962.99h0M336.64 944.99h0M343.74 963.5h0M331.87 950.93h0M334.19 949.24h0M323.97 972.01h0M336.71 958.08h0M339.67 959.31h0M337.78 954.5h0M331.69 963.78h0M340.69 969.45h0M344.4 950.18h0M348.63 972.19h0M333.63 946.49h0M348.91 957.45h0M337.43 964.6h0M332.46 959.68h0M349.19 947.83h0M347.01 947.16h0M332.58 958.8h0M338.46 960.25h0M346.04 944.88h0M334.64 968h0M340.49 972.55h0M340.56 960.17h0M347.39 956.95h0M345.28 957.91h0M342.83 969.68h0M346.9 965.39h0M337.54 959.08h0M343.36 972.18h0M333.89 951.09h0M346.67 944.5h0M344.22 951.95h0M328.15 956.04h0M336.96 950.64h0M349.14 951.06h0M344.84 950.57h0M339.41 943.9h0M335.98 955.12h0M343.97 963.99h0M342.96 954.38h0M339.15 944.13h0M347.77 955.82h0M330.1 962.67h0M337.97 948.11h0M344.59 943.77h0M335.62 972.97h0M336.5 962.73h0M332.7 965.34h0M339.91 965.98h0M340.48 971.63h0M342.47 964.02h0M345.21 943.32h0M330.23 970.51h0M349.29 946.59h0M335.91 971.69h0M341.45 943.25h0M344.07 964.36h0M347.83 968.6h0M344.69 963.13h0M347.92 943.46h0M339.15 960.3h0M334.91 954.04h0M338.86 950.33h0M349.17 962.82h0M324.95 956.22h0M336.72 943.81h0M334.91 969.03h0M341.21 969.19h0M333.99 967.22h0M339.7 956.83h0M336.41 957.75h0M342.49 959.44h0M348.92 961.79h0M334.14 959.24h0M349.68 954.51h0M336.08 946.13h0M343.57 965.96h0M343.02 957.84h0M339.64 959.69h0M334.87 959.6h0M339.59 945.77h0M343.02 948.37h0M335.5 959.33h0M340.07 972.06h0M349.34 959.33h0M348.44 964.93h0M339.22 956.48h0M349.15 950.77h0M331.25 955.83h0M336.2 949.73h0M344.46 946.35h0M334.93 952.46h0M337.34 943.66h0M349.03 962.02h0M333.6 964.79h0M337.45 970.54h0M337.71 949.89h0M335.38 956.55h0M343.64 953.85h0M336.43 954.76h0M333.56 962.53h0M344.97 971.05h0M346.18 953.36h0M344.76 969.09h0M337.95 971.81h0M340.25 955.63h0M334.95 943.94h0M346.3 944.95h0M339.88 947.4h0M332.73 967.12h0M347.77 951.28h0M337.74 943.2h0M335.1 960.82h0M347.91 956.43h0M348.35 959.37h0M339.79 958.26h0M347.01 947.81h0M344.51 948.66h0M339.8 967.66h0M340.94 952.28h0M339.52 952.45h0M345.54 943.61h0M338.87 968.29h0M330.07 970.78h0M346.47 953.47h0M340.75 944.2h0M335.1 952.26h0M344.64 946.66h0M349.09 963.67h0M340.51 945.42h0M339 955.32h0M348.63 961.61h0M346.52 960.3h0M348.33 955.67h0M348.96 946.91h0M336.22 946.85h0M321.58 969.74h0M335.16 959.06h0M340.33 951.44h0M344.28 966.47h0M332.16 963.61h0M344.6 964.57h0M341.74 950.8h0M339.99 946.31h0M344.05 963.16h0M338.74 961.81h0M343.11 965.65h0M344.73 958.76h0M319.71 947.72h0M339.89 944.81h0M349.24 944.25h0M339.41 961.59h0M343.46 943.5h0M345.97 961.57h0M337.06 943.91h0M337.72 953.17h0M349.54 946.91h0M343.54 967.5h0M340.55 969.4h0M342.24 943.47h0M349.3 949.6h0M342.97 951.24h0M339.49 965.12h0M339.91 948.96h0M333.81 956.69h0M342.01 962.63h0M341.42 964.23h0M327.16 967.38h0M349.53 954.75h0M341.33 962.01h0M338.85 943.77h0M332.95 956.13h0M341.47 955.77h0M321.76 966.43h0M333.83 954.56h0M332.55 954.36h0M343.82 961.3h0M338.54 962.7h0M334.08 957.41h0M346.76 951.8h0M336.77 962.12h0M347.08 967.23h0M335.71 947.41h0M342.56 972.38h0M339.49 949.91h0M346.53 947.65h0M349.28 955.37h0M337.11 945.56h0M337.47 949.98h0M347.53 954.69h0M327.55 960.62h0M321.7 965.79h0M341.25 945.63h0M340.58 948.12h0M323.63 952.84h0M343.09 972.5h0M322.5 967.83h0M333.25 967.46h0M337.32 968.06h0M338.19 972.71h0M338.34 963.67h0M347.42 950.72h0M335.33 947.24h0M337.72 970.31h0M344.91 945.72h0M348.84 958.04h0M345.18 950.28h0M339.1 967.74h0M345.71 970.85h0M348.75 943.58h0M340.56 951h0M341.66 972.23h0M344.41 964.37h0M345.98 945.1h0M350.08 954.75h0M338.95 966.48h0M340.95 943.65h0M330.86 965.82h0M329.6 972.35h0M349.09 947.62h0M332.4 969.18h0M341.19 961.19h0M337.44 948.23h0M341.8 948.92h0M343.43 965.61h0M345.19 945.22h0M338.78 952.99h0M335.6 963.49h0M340.08 965.13h0M349.67 961.24h0M338.98 963.88h0M349.86 958.38h0M342.24 946.36h0M325.7 951.91h0M329.48 951.41h0M339.39 968.33h0M331.6 961.79h0M335.66 959.63h0M349.76 968.97h0M329.91 967.27h0M342.95 973.05h0M339 958.17h0M345.76 972.86h0M331.5 961.33h0M346.22 970.25h0M341.5 950.68h0M328.2 972.04h0M347.1 945.49h0M339.21 949.15h0M330.17 956.19h0M342.66 957.08h0M341.75 943.46h0M340.68 956.03h0M343.58 954.26h0M340.93 960.25h0M338.39 966.23h0M347.42 947.13h0M324.03 972.52h0M341.88 948.44h0M343.07 952.43h0M348.19 950.01h0M328.74 966.48h0M335.3 957.62h0M341.97 952.18h0M340.54 972.36h0M330.45 957.34h0M341.86 952.51h0M344.81 964.96h0M344.04 960.76h0M332.54 962.33h0M339.56 949.8h0M340.91 961.64h0M341.05 964.99h0M339.42 965.69h0M338.67 962.66h0M340.83 948.28h0M346.78 956.67h0M343.05 955.39h0M340.7 969.61h0M348.02 946.81h0M336.72 971.91h0M337.53 951.39h0M342.9 953.75h0M337.71 955.61h0M343.75 953.4h0M348.01 949.65h0M332.23 957.61h0M326.94 963.83h0M345.31 954.51h0M348.58 968.27h0M346.59 969.23h0M340.75 960.7h0M337.18 947.5h0M346.91 952.72h0M349.6 949.53h0M343.31 950.84h0M332.74 969.27h0M345.98 965.35h0M349.25 944.76h0M322.06 968.21h0M326.23 955.53h0M334.94 957.5h0M343.63 966.77h0M336.22 970.6h0M345.56 950.8h0M346.77 968.68h0M349.82 962.33h0M335.54 972.07h0M342.74 969.71h0M338.94 954.66h0M332.23 946.09h0M332.65 957.1h0M346.8 964.96h0M329.55 969.22h0M333.82 952.44h0M347.27 951.15h0M338.04 956.03h0M346.32 965.18h0M329.78 967.03h0M336.8 948.53h0M347.03 950.45h0M343.75 960.16h0M337.81 951.02h0M337.47 968.66h0M334.81 963.38h0M337.52 967.52h0M336.67 956.36h0M329.54 972.41h0M333.16 961.37h0M330.19 972.28h0M320.54 968h0M337.76 956.26h0M348.96 954.25h0M336.81 945.82h0M348.18 964.54h0M336.21 954.68h0M348.6 970.48h0M348.09 972h0M340.26 944.78h0M344.21 971.93h0M329.41 971.34h0M331.03 950.91h0M336.97 944.64h0M346.64 950.04h0M336.92 950.45h0M344.92 960.8h0M328.8 964.68h0M337.56 961.36h0M327.04 969.42h0M340.44 943.88h0M339.16 950.67h0M329.87 960.41h0M345 945.55h0M330.48 970.1h0M347.37 944.47h0M346.43 943.94h0M339.36 947.51h0M342.96 950.35h0M330.53 953.01h0M331.24 958.27h0M343.53 952.14h0M340.51 949.95h0M347.72 960.98h0M343.19 966.14h0M331.9 957.83h0M339.64 960.27h0M343.65 970.48h0M340.19 957.64h0M335.6 961.89h0M334.47 954.58h0M337.3 955.34h0M339.19 959.98h0M328.71 963.19h0M348.92 969.55h0M347.27 962.37h0M332.85 957.2h0M333.97 970.84h0M336.81 952.5h0M318.3 948.98h0M346.52 959.64h0M339.62 945.46h0M336.07 954.63h0M337.59 944.4h0M322.73 949.46h0M345.62 959.28h0M330.55 958.94h0M349.9 967.08h0M349.43 961.56h0M340.73 959.21h0M335.24 961.51h0M329.03 950.76h0M339.88 966.75h0M347.65 944.07h0M330.53 960.7h0M327.12 967.6h0M332.46 970.13h0M322.9 962.66h0M343.51 949.26h0M347.12 944.4h0M339.34 969.67h0M339.18 961.12h0M349.85 953.88h0M339.34 949.77h0M333.9 966.82h0M338.24 955.2h0M335.16 971.48h0M335.48 968.03h0M337.88 972.31h0M336.76 955.95h0M342.86 954.07h0M343.98 961.49h0M341.83 948.24h0M338.1 950.88h0M347.94 957.61h0M342.29 958.11h0M340.85 946.4h0M347.37 954.68h0M341.44 945.42h0M332.01 971.22h0M344.85 962h0M346.01 970.27h0M342.12 945.43h0M348.8 957.63h0M336.96 955.21h0M345.8 964.9h0M347.62 962.05h0M344.16 957.73h0M319.47 968.02h0M344.69 952.43h0M341.35 959.31h0M339.29 946h0M324.37 966.29h0M335.13 954.66h0M343.88 965.73h0M332.02 962.99h0M328.03 971.86h0M338.54 943.95h0M338.41 969.88h0M343.46 946.4h0M333.05 958.79h0M325.44 961.93h0M333.59 956.51h0M344.23 949.29h0M332.88 959.24h0M349.23 944.24h0M341.02 959.42h0M342.51 946.48h0M348.73 959.2h0M345.23 947.07h0M339.59 948.15h0M336 945.27h0M339.35 966.03h0M344.82 945.43h0M342.26 945.87h0M349.24 945.35h0M337.65 943.29h0M335.03 966.84h0M341.61 946.15h0M340.94 953.6h0M335.97 957.95h0M344.2 963.84h0M337 945.07h0M336.02 969.6h0M345.83 946.82h0M346.7 961.21h0M346.72 943.21h0M348.67 962.72h0M333.65 953.24h0M333.35 970.52h0M337.92 960.6h0M347.36 960.16h0M341.03 944.72h0M336.34 963.65h0M334.27 966.12h0M337.93 947.4h0M338.46 948.12h0M338.19 951.75h0M336.55 971.62h0M341.27 952.63h0M343.97 970.15h0M334.43 952.45h0M341.3 959.56h0M333.09 957.2h0M348.49 952.49h0M333.45 945.04h0M333.23 962.64h0M343.68 969.25h0M343.43 957.33h0M337.88 947.37h0M338.81 967.94h0M348.38 965.43h0M325.72 972.81h0M335.83 949.09h0M337.94 947.58h0M328.05 965.18h0M337.44 972.83h0M342.88 961.38h0M347.87 971.53h0M331.75 968.66h0M341.92 945.51h0M336.5 943.98h0M344.9 955.54h0M348.93 964.36h0M345.07 954.01h0M339.3 952.47h0M345.1 970.77h0M332.33 944.31h0M347.54 949.41h0M349.58 971.72h0M335.7 949.81h0M341.73 959.37h0M345.85 955.19h0M332.29 955.69h0M341.95 949.11h0M335.15 954.47h0M334.87 963.28h0M332.56 963.45h0M334.84 966h0M339.22 947.02h0M333.42 966.57h0M345.55 959.81h0M333.29 955.47h0M344.62 970.04h0M343.32 961.2h0M341.16 954.71h0M345.58 953.11h0M343.52 957.2h0M323.02 945.14h0M345.39 943.22h0M326.89 961.52h0M341.4 947.53h0M340.7 956.19h0M342.08 945.28h0M340.77 946.02h0M342.63 951.84h0M335.61 944.82h0M322.57 957.28h0M347.49 955.75h0M349.52 951.11h0M334.63 973.02h0M334.51 951.45h0M329.32 954.37h0M349.81 970.61h0M343.24 944.43h0M327.57 966.35h0M348.93 955.87h0M349.34 947.77h0M344.89 948.91h0M331.99 955.71h0M336.34 943.48h0M343.14 950.72h0M348.85 959.77h0M337.01 952.67h0M345.87 958.26h0M331.86 972.92h0M330.25 963.32h0M348.25 958.67h0M336.08 957.86h0M346.35 948.32h0M327.9 972.55h0M335.57 970.58h0M328.81 958.34h0M331.42 955.69h0M347.95 946.52h0M347.66 968.14h0M333.15 954.23h0M334.54 956.77h0M340.1 967.34h0M349.75 960.6h0M330.91 960.33h0M331.95 960.18h0M332.79 972.68h0M349.94 957.7h0M331.24 968.44h0M349.17 950.57h0M348.58 967.75h0M340.31 959.67h0M334.06 965.56h0M335.91 955.56h0M339.83 951.83h0M336.12 965.73h0M345.6 949.26h0M341.04 948.52h0M346.98 945.14h0M344.64 953.95h0M343.75 952.47h0M313.32 966.5h0M336.51 952.83h0M339.8 967.71h0M330.44 948.31h0M341.56 943.47h0M348.39 968.26h0M349.68 972.98h0M349.03 954.57h0M346.45 945.49h0M335.44 966.69h0M332.07 963.24h0M342.29 973.01h0M346.61 972.86h0M348.89 957.02h0M347.93 947.54h0M336.76 944.59h0M339.64 961.56h0M330.29 963.74h0M334.87 949.63h0M341.52 962.51h0M336.21 948.95h0M343.14 958.21h0M339.29 965.93h0M345.84 948.37h0M344.81 967.26h0M346.21 972.94h0M341.11 949.45h0M339.06 948.25h0M334.28 965.23h0M334.82 962.71h0M325.46 971.9h0M342.52 965.18h0M347.93 946.02h0M343.85 958.37h0M334.51 959.77h0M340.17 965.29h0M342.24 954.87h0M343.71 966.53h0M348.97 954.83h0M330.18 969h0M340.84 955.32h0M338.46 957.12h0M345.8 951.04h0M339.52 943.93h0M349.32 957.89h0M347.39 949.68h0M333.61 967.64h0M328.18 972.91h0M331.5 951.01h0M346 946.61h0M342.33 969.29h0M346.59 950.19h0M344.43 969.61h0M339.36 967.1h0M335.71 962.5h0M335.15 950.5h0M339.96 949.53h0M349.04 967.94h0M332.48 962.76h0M343.04 965.54h0M335.2 955.51h0M329.43 968.86h0M338.6 970.98h0M316.77 967.67h0M340.82 952.19h0M342.72 952.28h0M345.37 945.24h0M344.18 954.06h0M341.85 967.46h0M344.37 945.06h0M330.01 962.44h0M346.32 943.5h0M349.31 963.56h0M334.25 949.77h0M323.76 967.23h0M349.69 961.44h0M330.11 951.89h0M344.15 949.73h0M344.08 952.82h0M338.68 968.54h0M345.38 965.04h0M339.13 962.04h0M338.66 946.29h0M334.93 961.87h0M349.84 943.35h0M345.6 949.15h0M341.79 944.54h0M346.33 962.64h0M344.1 971.51h0M344.79 957.81h0M348.73 965.46h0M345.12 953.3h0M325.91 943.73h0M331.65 967.47h0M329.43 967.88h0M336.93 943.84h0M339.66 961.4h0M338.47 962.23h0M338.87 953.66h0M345.94 950.54h0M343.18 952.38h0M342.44 953.32h0M341.36 963.38h0M331.9 957.72h0M344.66 945.98h0M348.25 949.5h0M349.79 958.72h0M335.8 970.66h0M346.67 960.72h0M348.04 959.41h0M349.66 945.21h0M342.4 954.59h0M331.29 964.22h0M332.69 951.86h0M340.6 951.8h0M344.55 966.66h0M330.12 965.32h0M334.19 961.79h0M343.42 943.87h0M346.08 958.87h0M338.47 946.11h0M334.54 972.41h0M326.08 971.25h0M344.6 970.91h0M335.23 950.29h0M340.06 949.55h0M346.49 962.3h0M342.58 959.15h0M344.16 953.26h0M329.99 972.76h0M329.42 970.25h0M348.6 960.98h0M338.02 969.75h0M344.85 961.11h0M332.05 957.88h0M339.49 947.75h0M327.57 970.99h0M349.63 967.36h0M341.09 951.04h0M340.88 944.44h0M339.09 958.29h0M343.26 943.72h0M346.22 951.54h0M322.32 957.53h0M345.06 945.87h0M348.8 958.06h0M334.13 956h0M341.44 955.09h0M344.38 972.07h0M321.85 958.16h0M337.25 969.14h0M347.82 967.23h0M345.13 970.25h0M341.48 958.9h0M348.89 966.94h0M344.35 972.12h0M345.23 955.27h0M348.07 956.96h0M348.25 972.19h0M336.89 958.5h0M333.03 962.96h0M342.03 952.7h0M348.95 951.66h0M343.4 943.56h0M346.33 958.67h0M336.14 945.69h0M348.7 960.8h0M347.91 959.88h0M333.87 966.4h0M332.83 949.7h0M337.64 948.61h0M331.81 958.79h0M339.3 945.84h0M340.66 954.32h0M342.22 943.47h0M342.54 954.73h0M344.63 945.94h0M320.73 954.05h0M331.21 964.12h0M344.64 971.01h0M336.24 968.01h0M335.62 950.34h0M324.44 958.82h0M329.75 967.12h0M328.89 969.61h0M345.74 965.45h0M347.09 948.49h0M332.01 957.32h0M340.88 964.63h0M344.44 944.31h0M325.96 963.68h0M344.55 962.52h0M337.89 969.54h0M342.3 956.9h0M335.18 963.63h0M343.98 965.28h0M340.38 956.83h0M337.32 951.41h0M335 957.91h0M343.1 952.21h0M337.31 965.3h0M349.56 946.28h0M347.61 948.47h0M347.51 960.34h0M345.21 960.44h0M348.78 943.57h0M337.15 953.79h0M335.72 950.44h0M333.48 962.62h0M343.13 946.75h0M337.2 945.15h0M336.8 966.63h0M339.85 947.93h0M331.8 944.17h0M330.75 958.03h0M346.7 954.93h0M346.67 964.96h0M346.43 950.62h0M336.61 950.88h0M336.86 948.34h0M349.97 967.58h0M343.19 968.63h0M330.6 970.72h0M333.1 965.75h0M333.05 961.24h0M347.19 972.01h0M350.04 966.68h0M343.49 945.37h0M334.41 968.96h0M330.04 964.27h0M335.07 961.43h0M337.07 948.22h0M331.11 956.42h0M335.75 954.96h0M335.14 971.92h0M348.58 967.01h0M336.87 945.86h0M334.36 951.56h0M336.41 962.08h0M338.82 956.4h0M339.16 956.07h0M341.41 948.58h0M344.21 956.92h0M341.82 966.27h0M335.06 967.97h0M345.71 952.64h0M344.4 969.57h0M333.74 959.81h0M341.7 972.67h0M347.82 946.48h0M347.15 943.82h0M334.97 962.85h0M349.65 954.08h0M338.56 970.01h0M330.42 972.26h0M320.54 973.03h0M345.63 971.23h0M337.19 959.56h0M334.06 956.95h0M345.32 959.87h0M346 959.69h0M343.04 959.38h0M325.22 972.82h0M338.6 957.73h0M331.85 958.38h0M340.81 970.68h0M342.15 959.12h0M339.86 943.86h0M337.29 944.61h0M334.19 963.41h0M336 944.01h0M328.24 972.99h0M338.54 958.22h0M340.47 945.48h0M342.34 945.91h0M333.54 953.68h0M347.24 948.42h0M345.34 970.38h0M330.52 970.23h0M339.26 946.92h0M330.38 970.75h0M341.42 956.51h0M348.89 957.01h0M349.79 955.37h0M333.77 970.84h0M333.52 944.76h0M345.03 963.69h0M344.95 951.68h0M344.59 946.39h0M340.8 960.04h0M338.69 967.25h0M345.55 967.46h0M336.85 955.65h0M328.9 946.58h0M346.11 958.56h0M340.14 949.13h0M327.91 971.98h0M349.5 968.47h0M335.98 954.18h0M340.86 956.03h0M344.03 955.98h0M322.79 948.9h0M335.07 965.98h0M342.26 960.47h0M334.59 956.07h0M345.74 964.19h0M343.12 962.23h0M348.68 949.65h0M337.86 943.33h0M341.76 953.14h0M344.12 945.22h0M331.21 968.53h0M345.38 948.04h0M328.49 953.79h0M342.93 947.18h0M318.72 970.49h0M332.45 969.45h0M345.63 944.37h0M344.75 960.44h0M345.87 967.91h0M332 957.97h0M329.63 964.06h0M332.61 958.61h0M341.81 961.12h0M345.66 953.89h0M341.63 950.41h0M328.58 972.85h0M327.8 973.1h0M344.99 947.58h0M347.25 971.09h0M343.11 966.43h0M342.35 948.54h0M338.89 966.33h0M329.25 963.4h0M349.8 965.16h0M337.68 959.38h0M347.7 966.07h0M331.28 971.49h0M335.68 960.51h0M326.5 968.33h0M344.36 944.32h0M347.91 970.96h0M348.9 963.99h0M336.49 970.37h0M336.62 954.13h0M344.68 950.48h0M348.09 943.34h0M334.17 946.87h0M331.38 957.29h0M339.1 945.58h0M332.18 966.02h0M332.57 955.11h0M319.59 961.27h0M342.8 949.37h0M343.84 965.29h0M335.03 953.68h0M333.02 944.34h0M333.95 962.37h0M343.45 969.59h0M349.38 963.79h0M330.33 969.76h0M333.33 964.58h0M346.68 965.78h0M341.09 949.55h0M337.15 969.6h0M348.77 967.32h0M347.92 959.73h0M333.16 964.6h0M330.47 966.66h0M346.56 943.27h0M335.09 967.92h0M332.02 972.3h0M330.47 961.83h0M325.86 967.61h0M331.42 969.23h0M344.12 946.95h0M338.02 958.19h0M343.45 965.45h0M349.88 955.39h0M342.88 949.91h0M346.29 952.91h0M348.22 968.84h0M327.31 954.03h0M345.14 952.11h0M346.28 963.9h0M340.72 951.33h0M345.44 972.59h0M333.74 967.84h0M347.3 954.79h0M332.31 967.78h0M347.04 954.03h0M338.46 951.02h0M337.2 945.14h0M344.27 967.54h0M347.96 967.53h0M334.61 972.56h0M341.94 961.75h0M342.33 945.04h0M343.04 966.88h0M344.45 944.45h0M329.86 958.83h0M340.68 963.9h0M349.77 951.91h0M344.28 944.09h0M336.35 943.72h0M335.2 948.41h0M337.42 948.49h0M332.61 964.16h0M329.38 947.11h0M329.12 972.27h0M332.96 968.84h0M338.95 949.37h0M347.03 961.8h0M338.08 944.37h0M348.29 953.85h0M347.57 965.17h0M342.25 947.59h0M339.58 946.93h0M338.71 948.52h0M330.64 971.54h0M345.62 957.22h0M346.9 954.65h0M328.93 971h0M338.35 944h0M343.6 954.63h0M339.79 952.54h0M347.18 964.93h0M341.88 945.39h0M328.15 972.18h0M341.24 946.66h0M327.25 968.36h0M337.22 971.99h0M344.91 948.66h0M343.1 948.12h0M345.95 946.5h0M337.93 960.91h0M340.9 958.79h0M341.37 949.83h0M342.24 947.22h0M329.43 968.58h0M334.32 954.49h0M334.33 957.09h0M335.94 949.32h0M337.97 947.32h0M345.79 945.15h0M340.85 944.06h0M338.05 966.27h0M339.83 967.91h0M335.47 956.64h0M333.59 952.41h0M333.08 972.41h0M320.18 959.73h0M337.19 944.63h0M331.66 963.94h0M335.94 946.15h0M335.59 969.16h0M348.81 970.44h0M348.24 961.14h0M337.08 952.49h0M349.1 958.36h0M339.59 948.05h0M348.43 971.61h0M341.7 958.11h0M330.59 953.75h0M347.74 972.63h0M337.22 968.08h0M345.84 952.28h0M338.17 969.37h0M344.15 951.07h0M340.55 948.16h0M338.85 946.34h0M329.16 957.86h0M341.69 955.13h0M341.71 956.54h0M346.58 967.8h0M332.63 949.26h0M342.47 962.63h0M342.88 966.32h0M340.38 953.41h0M338.17 950.87h0M347.2 946.93h0M321.14 970.13h0M342.84 968.64h0M343.98 949.71h0M331.46 963.64h0M349.98 950.65h0M345.21 945.73h0M348.82 957.02h0M343.03 960.17h0M337.22 972.15h0M342.59 950.26h0M320.96 948.14h0M335.84 966.77h0M337.53 972.9h0M337.07 954.82h0M346.79 944.88h0M335.53 966.96h0M347.4 969.41h0M344.62 943.84h0M342.55 967.99h0M338.11 952.54h0M349.63 944.21h0M335.39 969.92h0M344.78 957.21h0M336.16 948.64h0M332.64 966.68h0M341.87 957.94h0M334.89 958.75h0M345.21 948.13h0M340.44 962.2h0M347.35 946.72h0M339.1 956.2h0M322.36 949.76h0M333.18 943.91h0M332.42 968.94h0M329.7 956.44h0M331.88 971.87h0M349.16 946.49h0M323.64 969.66h0M334.79 952.09h0M326.25 971.83h0M330.28 961.14h0M336.23 956.87h0M336.47 950.92h0M335.47 967.83h0M343.25 952.45h0M348.03 956.79h0M347.56 968.31h0M341.54 962.76h0M334.5 971.07h0M349.28 962.73h0M347.64 953.39h0M349.03 959.94h0M332.6 953.31h0M345.7 959.82h0M343.19 957.1h0M332.63 954.83h0M348.94 950.45h0M336.04 965.53h0M337.52 950.59h0M348.87 967.99h0M346.01 958.91h0M335.76 962.45h0M343.67 949.63h0M334.16 953.9h0M345.58 943.78h0M307.5 958.67h0M347.7 945.11h0M349.88 966.56h0M326.34 951.6h0M328.67 951.43h0M345.28 956.91h0M343.75 953.9h0M341.99 964.12h0M339.38 955.64h0M332.93 966.69h0M343.01 966.79h0M341.2 970.8h0M333.3 944.41h0M341.27 951.92h0M340.91 966.48h0M338.33 955.13h0M331.08 957.44h0M347.99 959.72h0M346.57 945.07h0M320.71 969.53h0M337.92 948.6h0M341.69 955.31h0M336.79 960.09h0M334.6 957.27h0M338.76 945h0M338.8 968.95h0M347.8 972.34h0M333.79 968.78h0M343.88 967.08h0M330.53 966.04h0M334.55 957.35h0M347.91 969.09h0M338.06 972.21h0M336.63 968.75h0M338.11 944.19h0M339.9 968.56h0M347.56 947.96h0M347.71 948.45h0M338.93 961.64h0M328.24 972.96h0M333.06 947.87h0M340.47 946.58h0M343.04 971.24h0M334.77 959.57h0M339.97 953.48h0M336.74 949.47h0M346.1 950.68h0M348.89 970.56h0M349.05 956.27h0M311.69 973.02h0M349.21 959.47h0M336.79 956.18h0M338.12 963.43h0M346.64 966.69h0M332.76 951.84h0M324.54 962.67h0M345.51 951.76h0M337.45 961.8h0M337.93 948.59h0M332.16 962.97h0M344.53 950.31h0M349.69 966.61h0M322.4 961.42h0M345.84 946.46h0M349.7 950.94h0M342.4 959.7h0M346 965.3h0M337.23 956.06h0M335.54 960.65h0M334.23 967.12h0M338.71 967.54h0M347.94 957.14h0M343.82 956.02h0M342.9 972.33h0M334.48 972.43h0M324.75 961.58h0M334.55 961.28h0M336.77 972.14h0M344.09 955.09h0M348.59 948.83h0M331.47 971.68h0M341.19 968.54h0M349.41 968.28h0M327.02 961.44h0M338.27 962.69h0M348.71 971.17h0M349.4 965.47h0M330.49 962.03h0M338.13 970.69h0M327.52 973.08h0M337.62 969.75h0M338.81 947.98h0M339.72 960.29h0M338.68 944.39h0M331.85 969.99h0M346.27 944.36h0M346.38 967.72h0M339.56 949.83h0M334.7 954.99h0M343.65 948.13h0M324.34 962.37h0M346.09 953.72h0M338 973.02h0M348.34 947.57h0M346.94 960.15h0M336.58 953.76h0M347.09 943.56h0M342.89 960.69h0M336.42 964.17h0M335.76 946.54h0M329.82 952.8h0M330.77 961.95h0M339.28 971.46h0M345.83 956.85h0M341.54 955.06h0M336.49 948.19h0M338.25 970.32h0M345.5 951.53h0M340.01 972.12h0M335.35 947.39h0M333.88 969.51h0M349.04 950.93h0M327.65 971.68h0M342.51 959.68h0M336.87 964.43h0M342.45 954.43h0M344.3 943.28h0M341.95 952.2h0M342.72 951.07h0M332.01 946.14h0M333.1 965.22h0M320.37 958.86h0M308.65 970.48h0M326.28 953.52h0M335.91 954.65h0M328.7 952.3h0M333.18 947.82h0M313.2 947.07h0M306.42 967.22h0M333.85 956.69h0M323.67 946.22h0M328.71 944.48h0M315.03 964.03h0M325.12 952.04h0M317.44 947.41h0M324.54 966.84h0M306.66 954.11h0M303.19 969.94h0M313.31 947.88h0M334.05 966.05h0M323.18 953.89h0M328.37 965.03h0M322.69 956.87h0M334.11 952.36h0M316.37 961.45h0M302.6 944.31h0M328.32 959.73h0M335.24 969.82h0M313.38 943.73h0M328.66 970.6h0M320.41 945.08h0M334.41 962.92h0M310.25 953.68h0M305.04 967.01h0M319.32 965.12h0M305.33 954.73h0M323.83 968.02h0M330.68 947.35h0M326.05 946.41h0M307.98 958.83h0M310.14 966.24h0M317.89 970.52h0M325.56 945.42h0M335.43 945.67h0M317.94 961.4h0M332.38 954.34h0M320.31 967.86h0M329.08 960.59h0M326.25 968.91h0M334.05 953.4h0M311.92 964.58h0M314.57 954.95h0M318.99 963.82h0M304.17 964.21h0M328.23 943.34h0M309.44 965.76h0M330.98 970.29h0M329.59 954.13h0M329.07 968.08h0M317.9 958.38h0M317.86 968.69h0M333.42 954.9h0M330.66 946.67h0M332.58 953.38h0M335.17 953.8h0M324.8 949.71h0M325.05 953.57h0M330.29 952.65h0M323.24 946.29h0M307.34 960.48h0M326 948.27h0M327.28 959.1h0M328.94 952.23h0M333.89 957.71h0M324.31 970.33h0M318.4 944.36h0M335.69 957.58h0M332.25 956.84h0M328.55 958.45h0M322.17 962.92h0M322.06 955.29h0M333.74 964.31h0M326.62 969.94h0M328.59 964.97h0M332.82 943.92h0M316.84 949.12h0M331.59 952.04h0M330.74 968.83h0M320.13 960.2h0M318.64 961.69h0M320.81 961.27h0M326.87 960.85h0M315.57 947.19h0M335.09 959.35h0M330.29 958.04h0M315.76 952.16h0M334.69 943.5h0M334.93 969.83h0M328.18 965.59h0M328.56 959.04h0M332.98 964.76h0M323.38 945.34h0M302.6 948.22h0M322.47 965.02h0M308.68 963.11h0M307.67 945.14h0M329.31 950.38h0M310.15 960.43h0M316.72 944.2h0M316.08 970.1h0M315.32 970.12h0M322.92 959.01h0M317.88 950.51h0M309.6 952.44h0M313.5 957.57h0M318.24 970.02h0M320.32 960.06h0M333.84 964.12h0M314.88 967.92h0M328.6 953.81h0M303.51 961.91h0M329.98 957.74h0M332.62 969.54h0M314.2 968.45h0M330.12 970.07h0M324.23 957.7h0M316.07 955.93h0M331.37 946.75h0M317.24 950.9h0M319.5 963.5h0M332.12 947.41h0M322.63 952.64h0M326.99 963.9h0M325.28 946.22h0M308.62 952.7h0M309.57 955.24h0M314.76 966.55h0M327.18 965.33h0M335.78 968.55h0M326.3 964.58h0M310.22 965.78h0M328.99 966.7h0M314.15 949.58h0M327.64 967.75h0M333.55 957.55h0M304.58 952.17h0M334.23 957.82h0M328.86 968.77h0M315.18 961.22h0M325.35 970.07h0M304.58 970.64h0M331.57 957.33h0M305.4 965.06h0M306.25 969.4h0M329.81 968.08h0M316.17 950.34h0M335.03 948.82h0M324.61 969.16h0M305.82 956.31h0M331.22 964.09h0M314.92 948.1h0M332.3 968.05h0M314.93 967.39h0M331.91 957.54h0M329.77 968.54h0M307.75 960.58h0M309.69 946.79h0M320.12 955.89h0M334.32 944.28h0M318.81 949.29h0M318.97 949.08h0M306.49 968.73h0M335.77 969.52h0M335.84 954.89h0M331.81 945.15h0M334.99 958.47h0M332.57 970.54h0M309.18 970.02h0M323.46 958.67h0M317.13 959.65h0M335.11 970.67h0M330.37 969.14h0M323.09 954.68h0M323.87 968.77h0M303.26 960.55h0M318.19 943.83h0M328.95 961.36h0M314.47 961.24h0M335.16 956.24h0M308.17 960.17h0M309.23 960.41h0M330.3 964h0M324.72 946.8h0M315.3 958.94h0M326.49 948.98h0M308.65 944.34h0M305.39 967.76h0M333 964.47h0M323.61 946.55h0M310.76 952.42h0M306.92 965.8h0M314.03 944.53h0M324.53 962.5h0M308.94 956.39h0M331.01 962.62h0M303.37 948.82h0M306.1 966.37h0M308.3 952.49h0M328.82 944.18h0M308.96 964.83h0M305.35 969.49h0M326.48 946.88h0M333.19 966.34h0M324.38 948.4h0M318.22 969.09h0M313.46 955.46h0M308.14 964.39h0M335.79 954.88h0M326.42 943.37h0M306.59 948.79h0M308.38 968.9h0M322.68 958.58h0M320.75 969.68h0M329.38 950.25h0M313.73 969.56h0M316.82 946.97h0M363.76 987.49h0M367.36 973.5h0M363.87 988.22h0M354.07 985.1h0M359.76 978.48h0M372.19 973.25h0M364.4 992.31h0M365.36 984.58h0M370.52 979.28h0M360.64 986.37h0M351.73 1002.7h0M372.05 976.38h0M360.3 973.68h0M353.49 974.79h0M358.82 994.46h0M374.11 985.85h0M360.26 992.57h0M359.09 997.25h0M368.57 991.47h0M360.59 981.6h0M365.47 978.53h0M371.72 981.02h0M353.22 973.18h0M365.7 983.08h0M364.98 1002.89h0M355.11 983.85h0M360.39 997.6h0M355.58 992.91h0M366.81 992.36h0M355.86 993.95h0M351.78 995.93h0M378.97 981.96h0M371.65 989.35h0M359.01 989.86h0M364.19 976.25h0M352.51 991.92h0M376.39 975.67h0M359.94 996.64h0M351.93 976.32h0M355.65 983.53h0M358.47 996.86h0M362.24 994.57h0M363.53 997.24h0M365.9 991.13h0M354.54 985.72h0M368.9 979.39h0M351.78 986.48h0M360.21 997.83h0M365.54 996.67h0M359.07 987.3h0M352.16 993.91h0M355.28 983.72h0M371.07 977.7h0M358.72 985.94h0M366.49 995.16h0M356.82 993.29h0M368.17 991.73h0M367.12 984.65h0M360.08 990.49h0M359.26 1001.31h0M351.77 973.27h0M358.53 981.56h0M368.04 993.44h0M370.48 989.94h0M367.72 989.47h0M351.57 983.2h0M352.99 997.12h0M359.1 990.04h0M368.58 992.55h0M367.33 983.42h0M363.61 985.47h0M364.24 981.97h0M369.08 990.63h0M365.94 980.41h0M371.73 979.1h0M368.44 986.86h0M351.87 992.38h0M353.49 1000.88h0M366.47 997.5h0M363.39 982.06h0M360.41 1001.33h0M364.07 999.92h0M368.74 994.76h0M370.15 978.13h0M367.01 992.3h0M364.51 997.94h0M363.41 983.72h0M366.46 997.05h0M356.63 989.15h0M371.38 977.45h0M372.79 977.47h0M360.62 997.84h0M363.55 993.58h0M360.5 979.86h0M368.98 976.58h0M360.7 995.38h0M364.32 994.11h0M369.48 985.58h0M363.61 999.89h0M353.08 980.62h0M364.51 989.08h0M353.34 1000.12h0M372.63 974.74h0M375.63 982.64h0M355.27 990.34h0M351.78 987.87h0M363.74 990.5h0M358.44 987.82h0M356.72 983.8h0M354.49 992.99h0M353.74 994.56h0M360.74 996.64h0M363.71 990.37h0M361.27 987.22h0M363.17 973.94h0M358.28 987.44h0M356.25 994.37h0M359.5 973.89h0M364.97 980.84h0M360.98 993.18h0M357.94 974.95h0M353.19 1002.27h0M359.91 1000.89h0M359.19 981.88h0M373.97 985.63h0M351.69 998.64h0M362.34 989.12h0M357.6 986.6h0M372.03 982.18h0M368.37 984.56h0M352.85 989.31h0M352.36 996.05h0M358.65 994.83h0M352.87 976.03h0M360.36 989.38h0M363.71 989.45h0M352.88 990.98h0M364.29 979.78h0M371.24 975.78h0M356.77 999.65h0M384.58 985.69h0M364.09 992.12h0M367.43 982.89h0M362.61 973.94h0M364.81 1001.45h0M357.88 980.24h0M355 976.9h0M352.54 976.39h0M364.99 976.84h0M360.74 974.16h0M355.57 986.95h0M364.36 999.51h0M368.9 973.39h0M354.16 991.06h0M351.97 989.44h0M374.25 985.92h0M354.36 992.78h0M363.89 991.37h0M357.26 988.45h0M356.59 983.04h0M357 985.89h0M367.84 980.8h0M358.62 991.82h0M369.04 982.61h0M368.14 979.75h0M353.84 993.74h0M361.05 996.5h0M359.86 992.74h0M366.77 979.49h0M356.41 978.93h0M362.75 994.4h0M359.96 975.75h0M364.07 987h0M359.26 997.89h0M354.79 984.5h0M368.39 992.22h0M368.54 973.18h0M370.59 995.18h0M361.29 994.52h0M361.85 978.71h0M351.97 975.45h0M371.13 980.53h0M367.88 974.67h0M355.08 987.91h0M359.44 1001.35h0M351.8 990.74h0M363.35 993.41h0M359.15 981.46h0M358.64 1001.84h0M356.6 980.73h0M357.51 997.92h0M354.3 985.3h0M352.57 985.59h0M352.23 988.51h0M372.54 974.88h0M364.78 998.15h0M353.86 977.2h0M366.91 989.26h0M373.44 998.25h0M364.21 1000h0M365.45 992.93h0M373.78 997.97h0M369.82 976.5h0M362.53 1000.78h0M387.84 984.59h0M360.04 973.65h0M362.41 992.93h0M356.78 997.48h0M375.52 976.82h0M361.06 1002.67h0M353.88 995.9h0M367.36 999.89h0M370.75 981.02h0M363.33 992.6h0M366.1 993.27h0M351.48 980.09h0M365.9 988.51h0M362 974h0M355.73 975.39h0M353.61 982.57h0M367.82 974.48h0M361.48 987.62h0M358.53 993.63h0M361.26 1000.41h0M353.16 977.63h0M356.5 992.22h0M391.09 987.09h0M358.73 975.06h0M355.03 977.74h0M359.89 1001.64h0M361.66 973.15h0M380.6 973.65h0M353.63 991.12h0M368.65 976.81h0M363.05 975.15h0M355.57 974.73h0M365.55 1001.18h0M362.63 996.4h0M355.02 996.51h0M366.86 989.74h0M362.1 991.95h0M365.71 975.8h0M358.8 990.54h0M353.28 993.12h0M367.33 986.59h0M361.61 992.84h0M358.24 981.43h0M357.59 993.01h0M360.11 979.4h0M355.78 979.86h0M372.11 982.42h0M361.5 981.51h0M352.28 1001.31h0M355.6 980.45h0M352.57 988.08h0M362.35 992.58h0M367.55 976.41h0M358.83 1002.18h0M360.69 996.09h0M351.68 988.29h0M364.44 995.54h0M359.03 978.55h0M367.52 976.92h0M363.21 980.7h0M357.34 977.47h0M362.55 975.39h0M367.45 988.6h0M364.63 977.1h0M353.07 985.93h0M364.8 1002.33h0M359.02 988.07h0M364.67 988.21h0M370.92 978.93h0M355.17 997.45h0M356.27 983.73h0M371.29 984.95h0M372.86 978.23h0M356.3 973.74h0M377.4 974.69h0M367.44 987.21h0M370.38 987.08h0M366.97 978.2h0M361.93 987.37h0M374.27 981.48h0M352.12 1000.44h0M357.72 974.36h0M355.8 986.97h0M352.24 999.56h0M376.46 980.62h0M366.09 1000.06h0M361.83 992.67h0M369.11 979.01h0M364.63 990.68h0M357.77 996.4h0M360.53 1002.79h0M356.55 980.74h0M355.18 984h0M359.54 997.73h0M356.19 978.1h0M355.78 996.52h0M353.52 973.41h0M356.68 973.97h0M360.45 982.6h0M357.73 975.93h0M366.88 984.68h0M366.44 973.4h0M364.04 1002.02h0M366.6 974.66h0M355.19 998.41h0M354.02 999.38h0M352.29 977.83h0M359.54 984.47h0M362.5 987.47h0M372.86 973.35h0M384.77 998.06h0M366.47 975.24h0M355.03 997.71h0M365.3 996.38h0M380.67 987.06h0M357.57 994.14h0M353.88 974.66h0M357.22 996.45h0M359.57 984.11h0M364.61 974.85h0M361.08 998.91h0M371.31 992.31h0M352.67 982.41h0M366.81 985.68h0M361.8 993.84h0M377.12 997.2h0M352.79 985.49h0M357.69 991.13h0M376.14 977.8h0M365.88 980.93h0M375.68 975.64h0M363.45 990.76h0M356.49 993.07h0M355.38 986.84h0M362.52 1000.02h0M352.34 995.54h0M356.15 1000.26h0M377.77 977.25h0M365.8 1000.56h0M369.13 975.86h0M353.41 977.18h0M356.2 982.72h0M361.58 978.4h0M358.5 998.23h0M367.53 996.22h0M356.67 985.96h0M359.44 997.46h0M371.92 973.88h0M358.43 998.79h0M358.63 999.95h0M368.56 992.5h0M352.79 979.06h0M357.05 988.84h0M364.91 977.64h0M355.72 988.25h0M382.9 984.71h0M355.18 984.61h0M370.13 992.99h0M361.67 998.04h0M364.28 997.58h0M354.47 981.48h0M366.56 992.17h0M378.34 992.94h0M368.6 993.02h0M353.06 1000.43h0M358.6 986.2h0M359.75 988.87h0M359.01 995.52h0M369.76 977.21h0M361.09 973.63h0M369.06 991.17h0M367.81 975.18h0M363.11 995.16h0M352.25 993.44h0M362.38 986.54h0M369.16 991.55h0M356.15 977.77h0M356.49 998.12h0M357.45 1000.56h0M363.12 980.32h0M352.38 993.9h0M360.11 999.41h0M355.64 981.97h0M359.69 995.85h0M356.32 979.63h0M361.97 992h0M353.59 990.99h0M365.32 991.1h0M356.47 981h0M362.3 1001.59h0M355.23 1002.36h0M360.81 978.37h0M355.29 994.61h0M364.08 988.37h0M364.3 985.85h0M355.58 989.66h0M361.12 985.48h0M370 993.94h0M364.08 980.02h0M351.97 979.94h0M354.29 983.07h0M351.33 1000.59h0M360.01 986.76h0M369.93 975.06h0M368.52 987.13h0M366.27 997.7h0M369.96 992.53h0M352.46 977.45h0M358.74 990.32h0M361.54 983.17h0M366.75 975.44h0M355.55 999.94h0M356.93 980.75h0M360.06 999.97h0M352.67 995.16h0M365.61 974.17h0M359.34 988.21h0M376.6 999.55h0M353.08 990.57h0M364.27 985.35h0M356.42 1000.25h0M359.56 988.87h0M358.55 998.03h0M351.3 992.36h0M364.25 990.9h0M357.49 994.35h0M356.46 994.17h0M360.62 995.66h0M356.49 989.85h0M362.58 991.26h0M354.26 990.78h0M353.38 1001.43h0M361.55 983.72h0M360.74 982.39h0M363.24 987.46h0M370.59 998.91h0M356.09 1002.34h0M371.46 994.02h0M353.42 992.34h0M370.68 985.92h0M367.16 994.2h0M356.94 975.19h0M353.22 986.29h0M356.61 980.67h0M360.5 999.37h0M351.6 1001.22h0M358.55 990.77h0M368.05 998.77h0M365.38 992.43h0M352.06 979.13h0M359.9 994.98h0M366.88 984.84h0M368.65 987.72h0M364.72 992.81h0M354.82 1001.68h0M366.85 993.79h0M365.16 987h0M367.37 982.64h0M369.9 984.01h0M359.37 983.9h0M360.85 979.99h0M360.12 990.97h0M358.98 998.46h0M372.05 978.88h0M358.85 1001.87h0M364.17 974.83h0M361.51 986.48h0M358.56 993.23h0M369.98 974.16h0M357.71 989.85h0M371.28 982.49h0M355.04 979.12h0M355.92 987.59h0M361.48 986.42h0M351.53 1001.98h0M360.44 981.05h0M370.27 980.25h0M359.28 995.48h0M364.85 1002.95h0M379.64 977.89h0M359.44 987.42h0M382.76 985.61h0M358.32 986.34h0M356.97 992.94h0M364.15 997.32h0M359.48 985.88h0M373.95 973.7h0M351.38 975.26h0M355.16 985.43h0M359.03 979.75h0M354.07 978.11h0M363.34 988.73h0M357.52 979.52h0M357.47 981.82h0M368.27 979.5h0M358.78 991.9h0M355.26 979.47h0M361.02 973.83h0M374.94 975.2h0M356.48 995.07h0M360.99 999.81h0M369.1 979.51h0M361.43 990.49h0M367.92 975.88h0M351.81 997.74h0M366.25 981.28h0M362.63 976.76h0M369.86 981.71h0M353.19 977.98h0M365.86 994.98h0M361.19 999.19h0M366.22 974.44h0M365.87 973.83h0M361.32 976.99h0M368.16 997.18h0M365.97 999.35h0M351.55 998.48h0M365.12 997.09h0M365.52 983.63h0M353.59 1000.95h0M358.7 1001.23h0M362.31 999.58h0M372.19 980.73h0M357.06 999.31h0M356.25 1001.48h0M364.99 989.62h0M358.31 994.32h0M371.89 981.86h0M368.39 975.31h0M359.64 1001.03h0M369.96 974.28h0M352.08 997.71h0M369.28 981.12h0M359.38 999.91h0M353.12 990.87h0M364.87 987.33h0M363.22 1000.85h0M368.53 989.71h0M354.59 985.29h0M367.66 996.81h0M368.18 980.09h0M351.72 973.63h0M372.19 974.81h0M358.53 999.96h0M373.87 974.84h0M373.69 980.98h0M368.77 978.84h0M382.28 978.36h0M368.58 985.91h0M364.85 973.13h0M378.11 976.42h0M360.04 977.59h0M365.9 978.08h0M352.34 975.12h0M381.64 980.54h0M360.15 1001.19h0M359.32 981.59h0M353.75 981.17h0M356.4 977.3h0M351.45 987.84h0M354.64 975.24h0M376.72 974.03h0M353.37 997h0M360.23 995.66h0M367.09 1001.69h0M351.57 992.81h0M354.21 973.43h0M366.82 990.94h0M354.03 977.03h0M372.76 986.56h0M354.25 975.99h0M365.82 993.6h0M354.85 973.55h0M365.64 981.65h0M354.92 996.78h0M364.67 981.49h0M361.69 983.48h0M351.73 973.3h0M369.18 989.23h0M374 974.74h0M354.99 986.44h0M366.15 998.99h0M354.64 986.44h0M363.44 998.02h0M365.76 994.1h0M354.18 977.87h0M366.84 985.3h0M352.68 999.41h0M361.45 990.14h0M357.57 978.11h0M365.13 987.35h0M366.31 994.66h0M355.74 974.11h0M374.43 976.91h0M361.52 1000.53h0M351.92 1001.77h0M361.29 990.63h0M363.07 987.21h0M358.56 977.59h0M363.79 999.8h0M355.74 985.78h0M352.07 990.46h0M352.46 980.85h0M359.73 987.97h0M358.31 999.48h0M354.34 999.44h0M366.19 982.61h0M363.05 994.81h0M371.56 979.93h0M370.89 980.31h0M366.14 994.85h0M362.36 982.16h0M363.36 995.07h0M360.53 983.32h0M352.66 974.22h0M361.01 993.09h0M363.36 988.11h0M372.19 986.1h0M371.21 973.48h0M358.86 987.47h0M352.32 1001.47h0M367.44 982.51h0M374.26 973.19h0M356.02 988.51h0M359.38 987.45h0M365.25 981.19h0M359.97 980.56h0M357.68 979.63h0M368.71 977.06h0M368.78 984.39h0M358.11 1002.25h0M369.98 981.23h0M383.12 990.79h0M355.89 992.03h0M359.97 991.24h0M369.5 983.21h0M359.59 975.62h0M357.71 998.39h0M364.35 995.66h0M371.63 975.05h0M352.3 993.26h0M351.75 995.32h0M354.46 980.4h0M353.87 1000.02h0M353.43 992.4h0M356.93 975.64h0M354.66 995.42h0M352.5 995.74h0M365.52 974.32h0M356.28 1002.86h0M352.69 992.71h0M358.28 978.91h0M358.93 993.13h0M355.1 992.18h0M365.07 997.8h0M352.91 990.98h0M357.26 983.39h0M358.49 993.55h0M354.05 981.17h0M357.21 989.83h0M355.44 974.58h0M353.36 1001.77h0M351.97 1000.58h0M355.77 997.71h0M373.57 980.23h0M369.97 984.78h0M369.19 985.54h0M359.44 990.21h0M352.87 997.88h0M354.95 973.85h0M355.82 984.02h0M372.16 1001.29h0M359.91 991.87h0M370.25 986.02h0M362.11 997.93h0M359.68 991.16h0M355.25 999.45h0M366.35 988.55h0M361.76 998.27h0M371.54 974.52h0M371.02 973.37h0M372.19 987.18h0M358.45 995.46h0M353.53 996.35h0M387.89 974.46h0M354.7 981.85h0M353.39 998.22h0M357.47 982.76h0M362.76 978.75h0M365.31 982.64h0M366.38 991.53h0M357.03 989.64h0M353.09 974.7h0M364.64 992.72h0M370.91 997.08h0M361.74 996.11h0M351.61 1001.25h0M362.22 994.1h0M361.5 980.44h0M356.69 998.78h0M362.73 982.21h0M353.66 980.81h0M353.85 984.61h0M363.04 996.99h0M357.16 997.91h0M363.42 973.77h0M364.81 980.43h0M360.69 995.54h0M359.28 997.9h0M383.39 977.83h0M365.88 991.19h0M359.68 974h0M351.38 983.16h0M363.22 990.99h0M351.48 997.64h0M351.44 983.82h0M361.9 997.04h0M354.43 1001.64h0M373.33 977.7h0M351.64 993.54h0M362.24 1001.28h0M353.77 979.52h0M367.2 988.29h0M369.84 982.77h0M388.11 974.55h0M367.71 975.1h0M358.94 1002.16h0M356.2 983.47h0M368.58 983.39h0M354.26 982.04h0M354.9 993.12h0M371.98 980.83h0M354.36 999.05h0M360.88 991h0M359.81 991.19h0M365.07 981.86h0M359.7 986.17h0M370.81 984.35h0M365.18 997.82h0M360.81 989.68h0M360.81 990.38h0M367.04 983.3h0M371.86 991.46h0M352.02 999.86h0M364.35 988.87h0M374.29 986.17h0M361.38 992.38h0M352.75 983.48h0M352.38 983.3h0M366.99 989.69h0M381.68 1002.38h0M370.62 978.47h0M369.11 988.33h0M357.86 994.94h0M360.19 975.65h0M371.91 975.47h0M352.89 999.31h0M359.24 1000.17h0M365.49 977.17h0M362.99 979.9h0M354.36 982.2h0M357.34 987.52h0M354.9 1001.17h0M366.88 988.22h0M351.36 983.74h0M358.98 994.96h0M364.97 974.35h0M368.88 985.82h0M351.34 987.13h0M358.93 985.3h0M382.58 976.57h0M361.61 999.44h0M351.97 997.12h0M368.85 989.29h0M358.49 981.38h0M360.21 981.57h0M352.37 1001.89h0M363.6 978.87h0M360.84 973.86h0M352.06 982.24h0M364.47 996.23h0M370.39 999.46h0M359.1 998.59h0M363.52 994.64h0M371.38 996.61h0M374.73 973.18h0M366.14 992.91h0M357.38 990.99h0M358.87 983.38h0M367.04 986.48h0M362.01 996.6h0M363.69 975.09h0M368.05 993.9h0M364.06 1000.36h0M365.16 1000.17h0M354.62 992.64h0M364.82 981.03h0M368.31 981.4h0M357.13 983.5h0M368.33 1000.24h0M357.65 984.3h0M359.99 1002.43h0M364.88 995h0M353.22 982.58h0M372.61 980.65h0M364.49 973.19h0M354.34 978.05h0M369.45 984.96h0M367.87 979.41h0M360.09 988.3h0M352.37 986.76h0M372.08 973.15h0M365.72 999.48h0M373.4 985.75h0M351.77 985.85h0M354.38 999.53h0M372.62 984.07h0M355.96 978.47h0M353.85 992.89h0M371.19 973.48h0M365.42 988.67h0M372.55 988.78h0M370.87 973.71h0M365.19 975.84h0M358.66 976.28h0M353.84 979.97h0M354.76 992.82h0M363.78 990.82h0M352.56 980.45h0M352.67 979.6h0M356.22 987.44h0M352.75 984.33h0M352.25 986.56h0M357.5 995.59h0M388.05 989.81h0M366.72 995.32h0M351.46 977.12h0M357.98 1002.88h0M369.69 980.22h0M351.81 981.13h0M363.62 980.91h0M365.11 986.99h0M352.12 973.84h0M361.41 1001.72h0M358.63 990.9h0M372.67 978.3h0M357.85 991.52h0M356.56 999.08h0M368.04 994.5h0M352.78 1000.59h0M362.85 990.06h0M357.93 998.85h0M351.48 1000.15h0M356.31 994.43h0M355.24 991.43h0M361.62 985.66h0M366.54 997.6h0M361.74 974.65h0M361.72 997.85h0M357.8 997.2h0M366.85 986.23h0M380.56 977.96h0M362.29 998.13h0M361.41 985.33h0M365.15 989.68h0M368.46 973.23h0M364.65 987.85h0M362.78 999.44h0M360.93 975.29h0M362.07 987.43h0M363.45 978.5h0M353.04 974.98h0M354.6 992.73h0M369.27 986.48h0M366.3 983.8h0M372.14 981.11h0M360.36 986.52h0M353.13 997.81h0M366.45 995.16h0M372.85 1001.3h0M364.15 995.42h0M352.87 991.03h0M353.6 996.03h0M355.45 988.16h0M375.22 991.65h0M365.83 991.23h0M368.1 984.25h0M363.99 975.45h0M371.6 979.71h0M365.2 996.07h0M370.86 992.99h0M368.8 988.55h0M354.27 988.49h0M368.18 984.02h0M367.76 997.73h0M355.86 1002.61h0M364.19 1002.97h0M353.56 975.84h0M360.63 988.25h0M354.51 992.71h0M355.16 986.92h0M352.44 989.63h0M361.12 979.55h0M370.2 989.23h0M369.26 990.97h0M359.48 1002.03h0M364.48 982.52h0M364.11 977.08h0M353.15 993.21h0M365.96 993.09h0M354.15 981.32h0M371.85 985.05h0M360.97 980.41h0M363.12 1001.99h0M353.95 991.76h0M359.24 996.41h0M358.7 1001.99h0M356.91 1002.56h0M358.77 978.4h0M359.24 1001.26h0M360.4 976.98h0M366.55 993.97h0M360.44 989.38h0M355.78 991.5h0M378.7 973.89h0M358.3 988.76h0M357.43 1000.47h0M370.46 976.52h0M352.29 973.84h0M360.72 1001.3h0M357.61 978.64h0M351.69 973.37h0M361.62 991.86h0M361.09 981.81h0M367.99 979.88h0M357.97 986.88h0M359.74 986.63h0M364.16 992.48h0M366.05 998.6h0M369.45 973.99h0M357.57 987.16h0M364.7 997.82h0M367.52 977.07h0M354.86 998.38h0M360.23 988.61h0M363.7 975.66h0M360.52 992.77h0M361.68 995.21h0M373.8 981.37h0M381.64 987.16h0M360.89 976.32h0M360.98 987.05h0M372.61 981.46h0M355.72 990.94h0M359.38 996.46h0M353.16 996.07h0M371.26 978.4h0M362.54 993.74h0M359.7 978.87h0M360.87 981.39h0M357.24 991.34h0M357.14 977.92h0M359.79 978.08h0M375.45 980.89h0M369.72 988.33h0M357.83 978.84h0M363.43 1000.74h0M368.2 990.59h0M360.83 1000.05h0M355.24 981.09h0M371.14 978.32h0M354.21 990.67h0M355.94 1002.64h0M359.04 998.6h0M367.97 992.56h0M362.74 982.64h0M358.66 1001.03h0M374.62 974.44h0M372.31 974.86h0M357.19 977.84h0M365.67 995.43h0M354.6 987.11h0M361.98 988.2h0M368.8 975.94h0M356.57 993.57h0M352.9 980.53h0M361.52 983.39h0M352.54 1000.96h0M358.27 1002.11h0M358.79 993.22h0M353.38 989.99h0M362.8 994.12h0M362.01 995.43h0M360.38 996.58h0M361.36 999.11h0M373.85 976.51h0M368.88 991.97h0M355.82 989.99h0M366.29 979.88h0M360.09 988.81h0M373.73 987.54h0M369.99 987.32h0M356.91 982.17h0M357.04 977.57h0M365.04 1000.75h0M357.21 996.38h0M352.35 978.68h0M367.71 984.6h0M355.44 999.9h0M370.39 976.18h0M366.7 993.18h0M353.21 993.88h0M353.62 989.75h0M351.9 973.47h0M367.37 993.1h0M356.33 987.52h0M354.78 984.16h0M364.03 979.29h0M360.62 991.65h0M366.09 989.23h0M359.95 977.59h0M352.5 979.03h0M352.08 980.01h0M371.1 997.27h0M354.33 975.54h0M362.46 1002.06h0M367.82 996.5h0M362.51 989.6h0M367.7 993.01h0M364.32 1002.17h0M356.61 1001.27h0M365.18 985.43h0M355.56 988.57h0M354.26 987.99h0M354.77 995.09h0M371.55 982.48h0M352.28 992.39h0M369.02 993.41h0M355.52 989.06h0M374.19 973.84h0M357.42 1001.9h0M357.32 974.11h0M359.71 993.82h0M368.6 983.05h0M366.36 998.13h0M363.86 984.94h0M363.03 1000.66h0M355 992.8h0M369.63 985.36h0M366.37 979.46h0M363.67 999.79h0M364.07 992.6h0M359.56 983.26h0M373.91 975.55h0M361.38 994.59h0M367.79 994.71h0M371.26 995.22h0M364.24 991.12h0M368.43 975.8h0M359.02 995.21h0M360.65 995.4h0M356.15 980.72h0M357.78 998.69h0M371.1 982.31h0M358.58 990.03h0M361.24 997.86h0M356.24 991.8h0M355.85 985.43h0M364.82 981.48h0M360.47 986.51h0M363.84 990.99h0M366.11 995.75h0M360.47 999.33h0M353.96 980.21h0M365.92 993.34h0M364.75 982.74h0M365.61 976.27h0M362.52 992.6h0M356.87 979.5h0M357.97 999.81h0M364.64 1002.24h0M364.05 996.93h0M359.96 997.44h0M354.65 986.99h0M369.32 994.5h0M361.75 992.93h0M367.58 980.57h0M358.69 980.93h0M359.56 1000.7h0M353.79 992.8h0M356.47 983.89h0M366.77 986.4h0M359.44 1001.97h0M366.76 999.61h0M365 990.9h0M355.8 1002.63h0M359.57 988.89h0M371.38 976.03h0M368.93 990.13h0M365.89 991.34h0M360.06 991.22h0M367.65 991.78h0M362.7 985.67h0M369.09 979.71h0M358.36 981.5h0M364.03 997.99h0M368.72 979.71h0M358.32 990.59h0M373.53 974.97h0M360.16 992.95h0M364.6 992.77h0M366.57 995.81h0M358.85 997.81h0M363.97 973.75h0M373.37 974.85h0M369.74 985.85h0M377.53 973.24h0M353.52 974.87h0M359.41 978.16h0M370.88 974.62h0M368.14 976.19h0M363.53 986.67h0M359.82 998.97h0M358.53 993.72h0M371.62 974.56h0M353.05 999.23h0M357.44 974.86h0M357.59 978.44h0M361.31 983.19h0M364.66 991.25h0M362.96 974.87h0M374.62 973.8h0M351.32 978.96h0M357.45 1001.62h0M363 980.58h0M363.95 974.79h0M367.67 996.28h0M365.59 999.81h0M367.13 978.07h0M369.79 984h0M355.46 982.59h0M365.27 988.84h0M372.72 979.05h0M365.82 977.86h0M364.68 990.04h0M356.01 990.57h0M370.88 986.14h0M365.53 992.2h0M354.3 1000.97h0M351.82 992.48h0M355.12 982.7h0M360.01 986.87h0M353.83 974.75h0M353.59 991.63h0M363.81 993.91h0M360.18 995.29h0M358.31 1002.33h0M361.88 998.25h0M354.37 977.99h0M356.54 991.2h0M356.91 988.27h0M359.27 1000.69h0M373.54 984.12h0M357.12 989.44h0M360.89 992.2h0M360.53 993.57h0M364.31 994.75h0M362.79 975h0M355.84 987.48h0M366.83 977.28h0M369.89 990.89h0M356.32 997.46h0M351.93 981.3h0M367.99 993.55h0M374.12 987.66h0M356.85 984.35h0M366.82 991.31h0M359.78 986.65h0M358.51 1000.16h0M352.68 977.77h0M365.61 990.54h0M371.14 977.08h0M360.05 975.23h0M361.24 992.81h0M355.01 999.4h0M372.39 977.12h0M367.1 987.02h0M354.4 996.27h0M361.94 986.11h0M384.11 976.7h0M374.83 998h0M357.39 1001.59h0M357.84 991.28h0M359.29 989.88h0M361.34 991.41h0M352.17 993.58h0M370.8 985.9h0M360.65 1002.77h0M363.33 997.71h0M358.75 995.12h0M359.44 979.44h0M351.32 1001.03h0M360.66 997.61h0M356.82 990.91h0M368.68 978.05h0M374.71 978.05h0M360.01 987.58h0M355.24 975.66h0M361.09 981.74h0M364.43 977.41h0M358.59 975.6h0M354.51 974.92h0M353.94 983.81h0M364.29 1001.62h0M359.65 990.09h0M366.49 996.35h0M374.57 983.96h0M361.79 990.03h0M363.1 995.4h0M357.3 992.21h0M360.67 990.25h0M370.04 984.16h0M364.11 985.58h0M354.69 974.58h0M358.92 1001.53h0M369.6 978.54h0M370.52 982.45h0M356.18 995.48h0M376.77 981h0M371.49 982.92h0M378.78 1002.72h0M360.32 995.63h0M355.85 984.25h0M369.33 979.07h0M372.82 974.59h0M369.96 987.93h0M358.04 987.88h0M365.79 975.11h0M361.87 974.59h0M356.21 984.23h0M358.68 976.15h0M354.04 993.72h0M353.03 992.08h0M371.79 978.07h0M367.75 998.31h0M385.52 979.47h0M366.04 982.95h0M370.27 975.06h0M353.98 989.96h0M378.88 996.45h0M366.72 979.54h0M361.04 999.29h0M353.26 989.43h0M361.28 994.85h0M361.86 986.38h0M351.33 1002.29h0M370.12 989.47h0M358.33 987.33h0M364.68 992.71h0M363.47 995.67h0M365.92 1000.22h0M354.56 991.04h0M362.29 981.55h0M360.07 998.65h0M359.44 984.8h0M352.07 987.65h0M352.92 990.5h0M361.82 1000.65h0M371.77 988.48h0M360.74 1002.23h0M359.98 994.32h0M363.94 996.9h0M366.8 992.03h0M359.68 996.65h0M362.99 996.12h0M361.73 985.48h0M369.16 997.74h0M354.24 973.45h0M369.55 980.88h0M371.11 980.62h0M375.28 975.02h0M361.61 980.74h0M368.59 986.23h0M366.19 988.84h0M354.22 1002.19h0M354.13 974.66h0M356.89 995.79h0M374.55 984.38h0M366.19 991.16h0M360.62 976.47h0M368.35 992.19h0M363.63 976.4h0M356.14 981.19h0M364.46 998.11h0M356.14 991.14h0M354.05 990.99h0M364.94 1000.08h0M355.07 989.5h0M351.83 992.35h0M361.28 998.44h0M365.48 999.22h0M353.41 978.46h0M384.29 978.89h0M356.82 978.98h0M353.16 987.25h0M368.18 996.35h0M370.27 988.12h0M358.54 999.4h0M366.42 1002.61h0M371.46 976.86h0M365.67 991.12h0M360.02 974.17h0M368.53 974.95h0M368.58 975.44h0M351.95 980.79h0M351.56 1002.98h0M364.39 1000.59h0M352.1 1000.91h0M359.15 982.39h0M377.93 974.12h0M370.89 977.19h0M362.98 983.02h0M378.07 976.73h0M353.71 990.73h0M355.98 992.21h0M362.84 995.05h0M368.2 974.5h0M362.16 977.59h0M362.89 982.32h0M367.37 987.03h0M353.68 991h0M361.57 1002.54h0M367.08 993.95h0M367.04 990.94h0M362.32 987.68h0M375.53 977.55h0M371.99 973.92h0M366.35 994.56h0M368.32 1000.95h0M367.02 996.41h0M366.81 991.85h0M363.96 985.15h0M359.41 988.29h0M362.27 994.42h0M362.87 979.02h0M352.43 978.15h0M368.56 976.27h0M364.2 1001.47h0M352.76 988.69h0M353.35 983.14h0M369.54 994h0M361.49 993.97h0M351.44 975.03h0M359.85 1000.42h0M370.86 999.58h0M358.9 980.91h0M377.03 974.9h0M363.09 997.15h0M363.95 982.24h0M353.35 1000.16h0M363.14 995.61h0M374.71 976.48h0M367.97 1000.25h0M367.72 1000.13h0M360.16 988.2h0M373.41 983.21h0M352.93 984.07h0M364.41 978.99h0M356.19 999.03h0M364.93 977.3h0M361.1 975.84h0M355.67 1001.19h0M352.55 974.05h0M352 997.96h0M353.84 991.26h0M370.05 985.44h0M370.92 980.23h0M353.73 976.96h0M366.39 993.58h0M361.66 993.5h0M364.55 996.92h0M362.71 1001.59h0M354.73 999.44h0M365.3 986.51h0M360.54 980h0M362.69 999.62h0M359.8 992.16h0M369.38 985.97h0M363.54 998.51h0M356.35 994.29h0M367.66 994.64h0M355.14 992.21h0M369.08 976.08h0M365.57 984.78h0M363.16 988.11h0M369.48 983.89h0M356.1 986.88h0M363.12 1001.51h0M363.44 999.07h0M359.83 984.24h0M353.5 993.53h0M356.78 998.82h0M360.19 987.29h0M376.09 980.34h0M379.28 979.15h0M356.76 976.56h0M362.01 994.68h0M358.3 989.35h0M368.52 989.58h0M361.84 992.39h0M363.95 973.87h0M363.91 998.49h0M364.02 994.84h0M357.64 987.71h0M352.86 1000.43h0M374.06 984.1h0M353.27 998.05h0M363.89 991.65h0M356.12 999.14h0M361.86 982.82h0M354.09 996.86h0M368.77 986.92h0M367.75 990.07h0M360.2 987.92h0M354.57 978.11h0M353.27 986.88h0M359.48 991.81h0M362.24 992.66h0M367.32 979.3h0M355.27 979.96h0M355.83 978.55h0M370.79 975.56h0M366.6 992.57h0M360.59 997.71h0M364.96 994.2h0M360.33 977.66h0M365.24 983.2h0M374.7 973.45h0M356.25 996.76h0M364.01 977.16h0M357.21 987.62h0M364.16 990.55h0M369.49 975.26h0M369.18 981.74h0M351.45 991.11h0M351.64 981.71h0M354.51 977.95h0M366.76 989.96h0M359.35 994.95h0M351.94 991.04h0M363.53 996.76h0M357.81 998.66h0M352.21 983.29h0M362.15 985.84h0M351.41 999.98h0M359.3 974.6h0M361.05 1001.51h0M360.53 977.35h0M356.68 988.03h0M380.11 976.24h0M363.1 982.75h0M373.56 983.88h0M372.07 980.7h0M373.59 975.18h0M364.58 998.82h0M362.95 988h0M369.03 986.09h0M355.21 982.62h0M366.32 974.87h0M363.98 1000.33h0M355.22 981.51h0M358.93 983.61h0M362.45 987.7h0M369.68 984.42h0M362.37 983.55h0M370.67 976.81h0M365.04 1000.1h0M359.05 985.6h0M351.5 992.45h0M360.15 988.53h0M352.53 986.11h0M363.55 980.95h0M362.82 993.92h0M367.91 973.84h0M358.52 987.59h0M353.61 994.17h0M361.17 996.95h0M361.89 990.21h0M365 1000.8h0M376.04 999.59h0M361.05 973.73h0M368.82 989.01h0M361.55 986.78h0M366.3 975.65h0M372.8 974.23h0M360.21 979.08h0M357.04 987.53h0M367.65 982.22h0M354.91 996.38h0M372.42 977.76h0M365.37 1001.92h0M355.26 989.25h0M353.35 1000.87h0M370.28 988.41h0M368.98 975.84h0M362.7 1002.08h0M364.82 989.17h0M357.4 973.12h0M357.36 1001.37h0M367.48 992.75h0M363.76 975.08h0M363.24 989.8h0M373.82 981.17h0M358.71 982.93h0M351.91 981.04h0M369.18 990.05h0M363.97 1001.63h0M360.48 982.92h0M353.8 979.28h0M353.86 986.48h0M351.69 994.46h0M356.97 982.38h0M355.04 982.05h0M360.3 997.59h0M358.98 985.57h0M353.96 997.87h0M373.01 975.75h0M367.88 992.64h0M355.34 983.35h0M362.23 993.71h0M367.51 994.5h0M357.92 994.51h0M362.55 994.78h0M355.71 985.19h0M359.61 980.76h0M361.29 980.75h0M364.87 996.31h0M370.87 980.88h0M359.06 991.33h0M361.78 994.66h0M367.67 975.32h0M363.89 974.93h0M353.28 1002.24h0M392.42 976.49h0M376.53 975.04h0M382.3 975.66h0M367.3 994.67h0M353.34 984.57h0M370.79 993.63h0M367.75 983.26h0M366.86 993.62h0M367.36 976.26h0M352.13 1001.77h0M360.9 1002.52h0M355.24 994.64h0M351.8 977.9h0M374.07 999.41h0M367.01 996.56h0M360.07 977.52h0M357.06 998.88h0M369.13 980.15h0M357.36 999.49h0M354.06 981.77h0M355.09 1001.65h0M371.57 983.54h0M355.34 978.07h0M364.27 983.28h0M354.15 983.67h0M359.63 978.53h0M365.54 988.64h0M362.64 992.04h0M370.22 1000.12h0M365.72 988.42h0M352.6 986.88h0M367.56 991.57h0M351.49 982.87h0M351.71 996.96h0M352.21 999.49h0M365.11 1000.66h0M371.43 984.16h0M357.25 984.89h0M372.14 978.13h0M359.37 995.6h0M369.39 981.53h0M367.99 988.37h0M369.36 983.83h0M366.62 988.92h0M365.79 995.56h0M352.49 990.22h0M364.91 986.82h0M355.32 997.34h0M367.38 973.41h0M361.34 991.53h0M353.64 985.32h0M359.99 980.94h0M359.44 987.87h0M365.96 998.03h0M367.35 988.54h0M368.82 984.01h0M369.41 989.92h0M355.41 978.41h0M367.44 983.23h0M356.03 974.07h0M366.71 986.17h0M369.99 996.88h0M352.67 982.27h0M353.81 985.66h0M352.31 988.43h0M369.32 989.43h0M354.66 992.97h0M353.05 984.36h0M364 982.1h0M362.82 974.94h0M360.48 985.02h0M361.17 988.98h0M359.56 975.79h0M351.87 980.88h0M373.46 980.31h0M364.19 977.79h0M368.71 1002.32h0M357.57 994.84h0M374.36 973.63h0M356.38 976.69h0M371.36 988.02h0M351.69 997.3h0M353.13 990.35h0M364.36 976.03h0M370.34 987.38h0M353.12 1002.25h0M363.35 973.22h0M364.84 974.05h0M359.69 996.16h0M369.05 998.38h0M355.18 985.4h0M363.59 995.72h0M369.94 975.16h0M360.01 999.97h0M364.36 1001.3h0M354.27 997.74h0M353.7 986.23h0M357.86 984.26h0M370.69 981.12h0M373.78 980.47h0M363.22 1002.57h0M354.49 988.51h0M373.49 984.36h0M351.77 974.42h0M357 994.49h0M359.97 998.31h0M363.86 991.82h0M370.17 995.9h0M352.67 982.05h0M358.92 994.86h0M357.66 995.73h0M370.74 994.2h0M363.08 975.02h0M353.57 994.79h0M367.63 989.24h0M364.69 988.66h0M363.75 984.81h0M359.84 976.87h0M353.76 992.66h0M393.32 982.36h0M373.71 980.74h0M365.16 992.04h0M364.9 988.62h0M356.88 976.91h0M365.24 985.1h0M356.18 978.62h0M369.84 980.78h0M369.87 990.35h0M367.27 977h0M360 983.15h0M352.99 985.26h0M363.72 995.6h0M367.91 979.21h0M359.74 989.6h0M354.9 990.64h0M365.8 999.61h0M364.47 981.19h0M362.94 994.96h0M364.41 989.35h0M357.92 998.24h0M357.65 993.87h0M365.92 982.5h0M368.04 982.26h0M355.4 983.92h0M357.2 982.24h0M371.82 998.66h0M371.67 982.24h0M364.71 997.1h0M369.38 983.8h0M357.54 997.56h0M357.07 973.47h0M371.13 985.03h0M366.97 989.38h0M360.61 995.9h0M362.54 996.52h0M369.23 978.29h0M361.78 983.64h0M364.9 990.88h0M358.14 994.44h0M368.71 985.37h0M358.88 983.81h0M359.39 978.58h0M361.52 1000.11h0M362.54 988.07h0M367.58 992.03h0M365.72 992.57h0M365.86 986.9h0M366.03 981.61h0M365.36 994.17h0M352.53 979.32h0M358.15 999.35h0M356.3 984.28h0M373.52 976.39h0M359.77 989.48h0M355.98 999.75h0M364.29 1002.7h0M352.64 997.81h0M361.67 980.58h0M369.69 993.53h0M353.38 999.57h0M368.56 990.85h0M364.26 983.65h0M363.66 994.14h0M354.73 995.9h0M365.63 978.26h0M359.29 997.17h0M364.9 984.7h0M351.83 1001.15h0M361.67 1000.38h0M358.56 998.01h0M355.03 981.38h0M351.77 998.19h0M356.28 1001.32h0M357.93 981.65h0M357.69 980.2h0M352.07 983.58h0M355.73 994.19h0M373.01 992.44h0M356.68 983.35h0M367.41 989.73h0M359.09 991.87h0M355.43 1001.32h0M360.16 1001.12h0M368.11 982.33h0M354.25 984.58h0M367.52 990.92h0M362.27 982.05h0M363.48 998.7h0M383.75 984.25h0M367.85 989.8h0M366.05 973.77h0M365.43 987.56h0M356.58 990.92h0M360.51 990.47h0M367.63 983.66h0M351.59 981.01h0M372.87 985.4h0M368.04 993.77h0M360.36 1000.09h0M359.99 982.62h0M364.33 990.82h0M366.3 989.61h0M359.29 998.18h0M354.55 989.52h0M357.58 1000.55h0M353.59 1001.12h0M366.97 976.12h0M352 994.21h0M369.59 982.09h0M365 993.39h0M362.79 986.59h0M363.45 983.27h0M363.54 997.98h0M365.12 983.99h0M351.98 995.1h0M367.13 992.7h0M367.33 981.55h0M375.92 973.34h0M365.04 974.13h0M365.07 998.76h0M364.02 988.21h0M367.57 974.68h0M360.22 991.41h0M360.49 991.89h0M358.99 985.01h0M363.1 997.43h0M359.96 983.24h0M374.57 996.9h0M385.98 973.5h0M373.17 982.52h0M362.31 993.23h0M364.61 992.34h0M370.29 977.84h0M381.64 999.85h0M370.82 984.95h0M364.73 1001.91h0M356.37 1001.69h0M359.02 979.44h0M370.58 978.71h0M356.65 977.83h0M369.81 991.42h0M356.91 997.67h0M373.5 977.14h0M366.41 983.61h0M359.32 1001.37h0M359.84 990.59h0M368.89 987.36h0M353.5 1000.72h0M366.83 987.36h0M353.46 989.43h0M368.69 991.16h0M363.48 998.66h0M359.96 986.39h0M381.44 987.08h0M360.95 977.53h0M355.46 987.41h0M358.27 980.33h0M365.04 998.82h0M363.15 990.97h0M368.73 992.45h0M374.93 984.33h0M358.82 990.84h0M354.3 1002.67h0M360.8 1002.35h0M362.68 975.11h0M362.05 1001.86h0M356.03 1001.29h0M357.02 985.26h0M371.54 982.32h0M353.63 987.33h0M385.37 976.08h0M362.39 989.44h0M361.8 998.26h0M369.35 990.36h0M364.99 998.17h0M355.28 978.26h0M382.11 973.93h0M352.88 974.78h0M371.67 985.23h0M355.34 1000.18h0M357.9 980.64h0M353.91 987.7h0M364.89 998.33h0M360.36 995.77h0M370.37 977.55h0M371.99 977.48h0M367.19 975.37h0M351.46 994.84h0M354.51 995.17h0M352.92 981.94h0M364.87 986.28h0M377.48 975.15h0M356.09 984.68h0M353.15 994.23h0M369.65 983h0M355.33 992.88h0M375.9 985.75h0M363.44 994.44h0M361.29 977.43h0M362.48 979.61h0M366.48 973.13h0M351.83 996.2h0M359.02 985.8h0M371.74 982.69h0M364.57 976.53h0M370.58 981.77h0M356.17 981.91h0M366.6 990.55h0M360.63 980.78h0M353.73 977.15h0M365.37 973.97h0M356.47 999.02h0M360.47 987.54h0M351.63 998.22h0M355.66 977.38h0M366.62 974.48h0M357.42 1001.2h0M360.6 1002.57h0M363.29 980.27h0M364.7 996.29h0M356.15 992.52h0M354.14 984.52h0M355.71 979.94h0M355.74 980.25h0M352.6 996.55h0M385.54 976.42h0M353.07 978.96h0M372.6 981.04h0M366.21 990h0M370.96 979.53h0M370.91 986.94h0M358.15 988.35h0M363.27 990.02h0M351.79 999.07h0M358.76 1000.09h0M368.54 992.41h0M357.23 992.81h0M365.62 998.63h0M361.66 974.75h0M370.08 992.05h0M358.66 985.41h0M366.46 987.14h0M358.29 1000.37h0M355.35 992.66h0M361.21 995.54h0M371.62 992.84h0M368.61 986.73h0M360.08 997.83h0M353.2 998.62h0M355.48 973.85h0M355.21 990.18h0M360.16 976.51h0M365.52 990.39h0M360.21 1001.74h0M358.52 978.85h0M366.37 987.07h0M361.01 998.89h0M352.86 1002.05h0M364.02 996.92h0M365.11 992.73h0M363.6 1002.27h0M358.49 978.11h0M357.86 987.54h0M354.59 985.56h0M353.23 994.32h0M356.46 982.87h0M354.93 990.89h0M354.25 994.85h0M358.92 995.69h0M356.5 998.61h0M366.71 994.4h0M359.77 1002.4h0M371.68 977.51h0M363.17 993.77h0M351.73 991.68h0M357.95 984.16h0M351.67 978.11h0M356.45 974.45h0M354.1 994.41h0M367.46 985.91h0M360.65 980.36h0M352.42 987.38h0M367.36 981.47h0M358.9 973.3h0M360.11 995.37h0M352.48 986.34h0M364.39 996.46h0M353.84 980.52h0M358.59 974.07h0M354.01 993.33h0M368.95 991.24h0M366.94 979.84h0M369.07 974.19h0M355.76 989.28h0M360.95 989.27h0M372.43 973.64h0M355.73 985.72h0M351.46 993.68h0M353.25 998.59h0M372.94 975.41h0M368.68 990.01h0M355.79 980.03h0M355.51 975.52h0M372.95 975.01h0M355.46 995.36h0M353.22 996.37h0M366.87 990.46h0M366.6 986.89h0M364.73 987.69h0M358.63 989.01h0M360.89 976.03h0M357.42 977.09h0M352.92 979.35h0M356.5 988.28h0M363.14 980.17h0M356.26 977.97h0M369.38 983.31h0M367.39 990.11h0M356.75 991.82h0M352.79 977.48h0M374.06 976.73h0M364.68 975.79h0M361.2 1002.94h0M357.8 985.4h0M361.36 979h0M358.94 982.71h0M374.53 973.51h0M374.62 978.56h0M369.78 986.78h0M362.48 984.55h0M361.15 986.9h0M365.84 1000.04h0M358.56 982.1h0M362.36 1000.1h0M362.82 1002.24h0M364.07 992.74h0M361.64 999.03h0M363.81 986.69h0M371.89 994.1h0M363.71 988.8h0M368.5 974.01h0M367.25 995.52h0M374.62 973.51h0M376 980.8h0M353.02 981.99h0M352.89 994.98h0M358.09 981.9h0M358.6 994.3h0M363.5 980.84h0M352.44 978.22h0M366.76 983.62h0M354.18 998.1h0M355.69 979.54h0M360.24 977.02h0M355.02 984.08h0M356.48 995.53h0M360.38 991.11h0M369.29 979.41h0M365.28 986.66h0M366.95 981.44h0M366.43 989.9h0M377.59 991.67h0M369.29 979.93h0M359.17 984.24h0M358.82 981.56h0M354.14 983.14h0M357.84 1001.64h0M359.33 984.53h0M353.44 984.77h0M363.98 991.36h0M355.54 977.79h0M368.58 975.25h0M366.42 987.82h0M353.78 973.81h0M372.56 978.16h0M358.47 993.99h0M351.71 999.73h0M368.18 986.8h0M359.01 986.86h0M358.6 980.14h0M362.1 988.85h0M354.46 993.45h0M377.73 997.33h0M355.76 996.14h0M362.33 995.02h0M354.11 991.38h0M362.26 995.56h0M365.53 991.86h0M367.03 975.57h0M357.16 989.96h0M358.84 980.64h0M354.69 989.94h0M356.94 1001.87h0M357.65 1000.69h0M356.04 1000.82h0M352.67 990.43h0M354.42 997.79h0M356.14 997.65h0M368.15 986.6h0M352.35 980.22h0M354.04 1002.47h0M367 985.6h0M369.05 1002.24h0M358.02 978.9h0M362.2 989.6h0M358.17 983.4h0M363.96 991.41h0M368.95 977.45h0M364.14 988.23h0M352.39 993.94h0M355.73 995.8h0M366.82 991.2h0M368.12 980.66h0M373.7 981.18h0M375.44 997.69h0M352 1001.01h0M363.49 989.65h0M373.1 1001.44h0M366.97 987.34h0M360.54 999.83h0M355.12 1001.15h0M354.44 986.74h0M360.53 981.04h0M370.9 994.12h0M366.59 974.94h0M368.79 989.39h0M355.27 985.69h0M370.07 992.92h0M355.11 987.38h0M352.34 979.88h0M364.19 1000.94h0M357 1000.74h0M353.88 974.88h0M372.51 978.76h0M364.43 1002.89h0M354.73 983.39h0M351.71 986.19h0M369.27 990.5h0M369.13 983.01h0M354.37 977.69h0M364.07 991.91h0M352.35 991.67h0M365.3 990.9h0M361.76 995.94h0M372.31 975.41h0M355.01 992.47h0M358.88 992.52h0M355.67 976h0M362.64 978.16h0M354.92 987.55h0M364.76 1002.08h0M355.36 995.95h0M364.76 977.56h0M366.1 985.65h0M364.17 996.62h0M358.18 999.89h0M360.37 997.34h0M368.34 999.55h0M357.54 993.63h0M354.14 1000.58h0M352 979.69h0M372.43 980.42h0M358.83 992.42h0M364.73 977.47h0M353.15 997.94h0M353.92 999.89h0M355.41 998.77h0M372.5 974.55h0M352.57 973.81h0M362.58 1001.67h0M354.53 1000.63h0M360.14 985.82h0M367.95 984.19h0M360.16 984.98h0M363.88 982.28h0M353.44 998.21h0M367.8 995.36h0M361.87 975.11h0M366.88 991.31h0M370.2 981.59h0M356.89 994.17h0M357.18 983.44h0M355.54 990.6h0M359.25 1001.06h0M352.5 981.39h0M358.39 998.19h0M351.83 991.96h0M362.81 987.49h0M369.71 974.58h0M355.36 975.23h0M362.85 985.07h0M352.19 997.37h0M364.74 983.46h0M367.58 989.3h0M365.73 981.29h0M359.93 979.73h0M372.5 1000.66h0M351.69 992.02h0M352.8 997.64h0M373.01 979.43h0M364.15 978h0M361.98 992.77h0M366.58 997.52h0M356.79 982.57h0M368.38 975.23h0M365.33 987.62h0M374.04 973.21h0M354.59 977.56h0M356.83 981.58h0M359.62 990.87h0M367.44 978.68h0M352.8 999.12h0M366.65 981.37h0M362.55 985.48h0M358.85 977.72h0M363.45 1002.69h0M368.14 990.55h0M390.26 976.35h0M363.28 989.48h0M355.46 999.63h0M357.4 999.63h0M358.44 978.91h0M364.42 1000.37h0M367.1 978.23h0M361.08 995.51h0M357.97 980.06h0M368.31 992.76h0M360.19 991.24h0M369.91 973.81h0M361.19 998.54h0M368.54 985.83h0M352.66 991.38h0M372.71 973.52h0M358.22 1002.09h0M360.14 987.25h0M365.88 989.93h0M361.68 998.69h0M367.18 999.26h0M365.93 973.6h0M370.8 978.17h0M357.74 994.55h0M352.28 988.76h0M366.66 978.06h0M361.59 990.53h0M352.63 999.75h0M370.16 982.76h0M364.69 995.16h0M365.51 992.14h0M360.42 993.93h0M360.22 982.2h0M358.43 980.98h0M359.07 978.71h0M353.47 1001.05h0M354.3 978.35h0M358.27 984.93h0M356.6 983.85h0M360.88 993.21h0M370.03 985.64h0M353.54 983.29h0M364.35 981.2h0M368.37 980.02h0M354.54 988.67h0M363.26 1000.75h0M372.11 977.74h0M373.7 978.51h0M367.22 984.62h0M352.5 994.1h0M354.5 1002.62h0M354.56 980.89h0M363.14 985.2h0M372.5 975.05h0M353.03 993.65h0M352.88 993.03h0M363.03 983.06h0M358.76 998.37h0M355.46 985.73h0M364.61 997.15h0M357.83 996.72h0M359.71 992.05h0M367.45 974.42h0M363 1000.22h0M359.89 998.68h0M370.93 974.15h0M377.94 994.32h0M364.67 988.61h0M369.79 991.4h0M367.47 984.82h0M353.06 985.37h0M360 990.68h0M351.98 974.37h0M367.15 976.21h0M355.53 992.74h0M356.95 977.28h0M359.17 976.51h0M366.82 991.01h0M364.7 978.56h0M353.07 996.38h0M354.15 995.74h0M355.13 979.86h0M359.63 988.35h0M360.8 982.3h0M364.62 979.16h0M352.74 1002.72h0M368.71 973.67h0M357.4 975.39h0M368 990.57h0M359.58 979.79h0M362.08 998.9h0M366.5 973.46h0M364.48 995.31h0M368.61 991.43h0M352.27 976.54h0M372.19 979.1h0M364.24 980.73h0M361.14 984.18h0M366.09 998.24h0M356.34 988.67h0M376.37 974.13h0M364 986.52h0M354.02 987.61h0M376.82 989.62h0M351.82 1000.87h0M362.88 997.52h0M355.75 978.31h0M378.02 990.48h0M358.34 985.58h0M367.15 991.08h0M370.12 979.3h0M371.1 993.39h0M351.68 984.57h0M364.24 984.45h0M366.98 985h0M352.59 992.18h0M353.39 998.74h0M365.02 992.61h0M353.26 1000.52h0M351.47 1002.4h0M356.47 977.34h0M369.2 975.01h0M356.03 985.43h0M360.86 985.79h0M369.46 980.14h0M353.26 986.8h0M368.61 978.5h0M363.34 989.63h0M372.68 982.49h0M362.55 994.59h0M352.8 992.94h0M361.58 994.79h0M355.48 986.33h0M364.33 992.98h0M359.26 980.85h0M355.89 996.17h0M360.87 997.46h0M363.52 986.1h0M351.96 989.89h0M351.62 994.24h0M358.38 992.45h0M359.08 994.17h0M358.71 990.39h0M360.46 994.48h0M359.34 978.8h0M353.23 995.26h0M358.23 994.25h0M361.78 987.19h0M369.66 981.77h0M357.32 982.11h0M363.36 975.19h0M357.77 998.4h0M370.63 976.61h0M365.32 982.43h0M373.4 974.85h0M372.3 975.03h0M351.93 993.72h0M356.72 987.88h0M374.04 978.4h0M359.7 975.81h0M362.68 996.84h0M354.96 995.7h0M355.37 999.01h0M367.42 986.01h0M361.94 1001.84h0M385.54 977.81h0M360.77 995.34h0M369.41 980.79h0M351.74 992.33h0M373.49 985.59h0M372.7 986.8h0M370.2 980.49h0M370.76 990.02h0M373.01 988.94h0M385.83 997.97h0M392.83 994.45h0M384.25 994.44h0M393.61 1002.38h0M365.55 982.48h0M393.06 992.06h0M378.63 993.88h0M384 992.9h0M385.98 991.12h0M365.69 985.73h0M386.09 999.97h0M392.98 991.54h0M381.61 982.82h0M382.78 977.71h0M387.87 1001.28h0M387.6 984.26h0M388.95 989.44h0M376.41 990.77h0M397.75 976.99h0M374.77 990.38h0M378.57 977.49h0M386.43 985.27h0M365.63 977.74h0M396.67 984.74h0M388.21 989.81h0M366.68 977.89h0M393.34 975.55h0M369.27 980.69h0M368.62 998.9h0M383.24 983.87h0M380.11 988.47h0M385.33 999.82h0M389.7 984.99h0M396.72 987.74h0M397.11 980.48h0M392.13 999.97h0M380.05 984.13h0M368.56 987.67h0M398.34 1001.41h0M398.81 998.58h0M375.59 989.84h0M380.78 991.66h0M379.78 993.8h0M390.06 1000.62h0M396.76 976.45h0M367.22 977.61h0M398.1 1001.46h0M376.65 980.26h0M365.75 997.95h0M370.57 992.77h0M375.14 982.62h0M369.34 980.53h0M394.44 996.37h0M386.15 987.63h0M396.4 1000.44h0M390.46 998.95h0M393.3 977.11h0M386.64 980.36h0M394.81 990.21h0M381.57 1002.72h0M385.07 976.84h0M395.6 995.41h0M382.88 979.21h0M376.61 999.19h0M370.45 997.4h0M377.37 982.75h0M391.36 987.48h0M388.42 984.45h0M387.3 979.01h0M365.88 996.75h0M385.62 981.62h0M394.52 983.27h0M378.89 1001.21h0M369.25 988.85h0M393.91 995.07h0M398.55 985.92h0M375.35 996.84h0M372.05 979.08h0M385.66 985.09h0M383.06 976.95h0M398.05 980.53h0M368.44 1002.78h0M376.3 984.42h0M379.35 998.93h0M379.16 1002.12h0M398.07 983.34h0M372.77 975.76h0M383.69 990.92h0M374.95 995.51h0M377.48 981.17h0M395.22 980.68h0M386.96 984.47h0M380.48 1000.16h0M371.14 988.39h0M366.66 983.89h0M391 980.16h0M373.17 985.27h0M371.17 990.77h0M397.68 997.34h0M368.59 1000.05h0M365.58 994.24h0M365.65 995.99h0M366.17 1001.7h0M365.52 985.3h0M389.98 977.29h0M382.69 993.37h0M381.98 976.03h0M370.56 990.85h0M371.09 976.36h0M383.57 982.76h0M397.66 987.7h0M369.57 994.25h0M388.75 992.21h0M371.6 978.8h0M382.53 982.77h0M383.91 978.63h0M386.06 992.23h0M377.94 992.41h0M389.28 1001.39h0M390.28 1002.45h0M367.13 994.56h0M383.51 989.3h0M370.73 990.17h0M365.57 985.1h0M389.55 982.18h0M380.21 988.6h0M378.74 1000.48h0M389.69 987.11h0M373.14 998.6h0M385.41 990.49h0M391.81 999.88h0M376.7 978.27h0M380.17 994.41h0M392.99 994.53h0M384.08 978.76h0M398.81 976.31h0M389.66 996.05h0M372.48 993.88h0M378.88 993.16h0M388.59 990.61h0M381.22 993.32h0M376.78 995.12h0M377.01 982.21h0M375.63 980.65h0M385.12 995.47h0M371.81 1001.79h0M371.96 979.43h0M377.3 975.54h0M375.73 990.91h0M390.35 994.16h0M385.58 982.22h0M392.24 981.72h0M380.72 989.16h0M380.96 978.93h0M373.74 979.39h0M386.72 993.98h0M374.62 983.91h0M398.02 977.54h0M378.19 975.99h0M365.65 999.8h0M379.43 995.72h0M377.61 983.16h0M397.39 988.46h0M381.4 986.19h0M365.74 991.53h0M381.28 987.62h0M370.39 990.21h0M387.71 976.37h0M395.24 993.86h0M376.53 983.96h0M366.37 982.46h0M378.27 980.29h0M398.85 976.63h0M384.33 997.07h0M373.15 995.98h0M391.94 983.83h0M385.84 977.26h0M387.06 976h0M379.83 980.07h0M377.85 996.57h0M377.27 979.89h0M372.77 987.05h0M386.36 985.67h0M382.64 978.03h0M371.21 988.99h0M371.61 994.97h0M370.01 987.6h0M376.54 981.28h0M372.73 984.44h0M389.66 978.37h0M389.04 985.43h0M396.32 999.39h0M369.73 987.14h0M368.23 978.51h0M381.18 976.58h0M388.15 997.49h0M380.78 989.72h0M392.2 981.98h0M373.46 981.81h0M381.57 990.19h0M380.17 1001.66h0M380.79 998.46h0M377.83 997.11h0M381.6 978.16h0M387.13 985.38h0M390.72 980.91h0M366.19 985.97h0M368.77 989.78h0M391.04 997.57h0M366.45 988.55h0M391.11 983.5h0M397.3 997.14h0M374.68 988.85h0M375.64 993.55h0M398.59 1000.25h0M366.85 1001.58h0" fill="none" stroke="#bcbcbc" stroke-width="1.2" stroke-linecap="round"/>
<path d="M334.49 941.17h0M347.27 938.09h0M346.12 932.9h0M339.73 941.63h0M316.07 940.7h0M349.17 938.98h0M346.19 940.55h0M349.14 939.95h0M346.71 936.16h0M345.92 929.99h0M336.7 932.93h0M343.61 935.09h0M339.41 934.29h0M317.08 937.81h0M328.25 940.75h0M338.34 941.34h0M344.89 937.76h0M341.88 936.28h0M328.36 931.05h0M339.78 936.77h0M343.38 939.27h0M335.5 937.71h0M343.73 927.34h0M346.28 938.58h0M343 931.22h0M342.14 939.61h0M345.66 935.6h0M329.75 938.91h0M344.52 938.08h0M334.76 933.37h0M347.73 937.65h0M337.66 937.71h0M341.32 938.16h0M338.43 925.98h0M340.21 941.87h0M349.12 940.76h0M339.52 935.31h0M345.13 934.92h0M348.76 922.49h0M337 938.81h0M344.68 936.05h0M321.72 935.23h0M338.88 940.08h0M335.56 940.88h0M320.01 938.3h0M341.46 933.78h0M348.66 937.95h0M346.3 936.05h0M347.65 940.31h0M341.2 925.56h0M344.73 938.45h0M344.11 940.14h0M346.65 933.59h0M339.85 940.02h0M345.74 940.51h0M338.66 930.92h0M326.08 943.05h0M347.1 933.04h0M343.38 940.8h0M342.02 941.25h0M345.9 929.64h0M341.6 939.57h0M345.41 934.19h0M346.79 936.64h0M338.37 940.46h0M339.82 937.68h0M317.13 939.74h0M346.17 941.64h0M336.57 937.3h0M348.17 936.02h0M337.41 936.41h0M337.62 940.04h0M346.02 935.27h0M349 939.42h0M343.85 939.86h0M348.07 931.46h0M338.31 940.55h0M347.86 928.42h0M341.55 938.09h0M349.15 941.76h0M337.4 938.06h0M349.65 941.91h0M342.85 941.33h0M342.35 938.42h0M342.05 940.19h0M343 939.99h0M342.75 940.88h0M346.33 937.46h0M344.79 937.98h0M333.49 939.34h0M349.53 938.61h0M340.33 937.28h0M345.62 935.84h0M334.59 942.05h0M347.28 928.24h0M345.63 941.7h0M344.33 940.39h0M342.3 926.78h0M343.03 932.07h0M348.4 933.13h0M346.73 933.68h0M338.2 934.72h0M339.22 940.75h0M345.25 940.65h0M339.19 940.44h0M339.85 933.5h0M340.48 935.26h0M344.08 939.68h0M345.13 927.47h0M323.43 938.91h0M349.65 937.77h0M337.82 941.28h0M346.25 939.82h0M343.26 934.41h0M338.16 940.14h0M334.64 939.76h0M317.91 940.55h0M325.36 940.05h0M339.32 936.77h0M336.79 935.38h0M340.09 938.27h0M339.75 939.23h0M340.92 936.03h0M344.85 941.48h0M348.84 938.98h0M344.26 928.21h0M343.71 939.59h0M344.44 933.31h0M349.04 936.92h0M314.2 937.21h0M348.23 938.08h0M343.48 934.11h0M340.41 938.95h0M337.13 936.17h0M340.54 937.01h0M320.19 942.56h0M343.42 941.96h0M338.11 931.4h0M346.25 940.17h0M339.45 939.73h0M338.13 932.7h0M337 939.9h0M339.95 933.07h0M328.36 941.4h0M348.05 936.7h0M334.43 940.83h0M348.99 941.66h0M341.85 940.95h0M324.13 941.03h0M343.07 938.58h0M345.12 930.48h0M343.77 934.12h0M330.4 932.13h0M347.42 935.02h0M349.25 939.23h0M341.77 939.83h0M322.15 934.13h0M342.48 940.28h0M348.46 934.12h0M349.7 931.06h0M326.62 941.14h0M334.61 937.49h0M342.66 940.82h0M341.66 938.45h0M340.42 929.86h0M338.19 940.08h0M343.46 938.86h0M340.23 938.08h0M366.74 1007.15h0M375.11 1015.41h0M362.95 1008.61h0M359.97 1010.11h0M356.33 1011.71h0M359.82 1018.41h0M352.23 1013.7h0M366.65 1007.27h0M356.22 1011.63h0M352.18 1019.73h0M357.06 1003.11h0M357.25 1003.88h0M358.32 1010.96h0M357.2 1005.24h0M355.03 1009.22h0M357.55 1004.27h0M352.82 1004.44h0M354.98 1005.07h0M357.9 1024.77h0M354.58 1011.23h0M377.88 1007.51h0M363.08 1009.18h0M369.09 1009.7h0M360.73 1005.56h0M362.45 1009.28h0M372.69 1003.07h0M353.82 1006.37h0M359.56 1006.98h0M353.57 1003.59h0M369 1003.23h0M367.25 1004.68h0M362.27 1008.51h0M360.36 1008.18h0M356.13 1013.37h0M353.66 1006.33h0M372.53 1008.17h0M355.37 1010.36h0M357.44 1004.92h0M355.43 1006.81h0M357.53 1003.26h0M354.73 1008.81h0M361.44 1006.69h0M367.28 1009.92h0M354.18 1014.49h0M358.06 1006.59h0M359.75 1004.05h0M362.26 1004.5h0M361.99 1008.32h0M359.56 1005.42h0M373.78 1011.17h0M356.59 1010.85h0M365.93 1003.09h0M354.3 1003.04h0M356.17 1011.42h0M355.95 1024.33h0M361.35 1012.43h0M353.01 1004.99h0M357.56 1012.86h0M352.76 1011.19h0M369.24 1006.46h0M369.45 1018.32h0M376.43 1004.7h0M372.85 1006.02h0M368.93 1005.16h0M357.86 1007.96h0M364.58 1006.28h0M357.79 1009.48h0M366.3 1004.64h0M363.23 1004.01h0M357.49 1016.96h0M367.27 1011.59h0M358.35 1003.14h0M364.56 1013.39h0M358.49 1003.41h0M355.49 1004.26h0M361.18 1012.83h0M360.1 1009.98h0M353.37 1006.26h0M363.84 1004.28h0M379.61 1005.82h0M356.41 1003.52h0M356.33 1019.51h0M355.37 1005.19h0M357.34 1010.52h0M359.63 1008.76h0M360.17 1008.61h0M358.65 1003.73h0M368.79 1015.68h0M356.97 1005.45h0M366.07 1013.58h0M366.75 1004.42h0M358.56 1015.56h0M359.16 1007.36h0M362.21 1015.86h0M367.74 1003.52h0M353.08 1005.01h0M377.63 1003.45h0M352.57 1008.84h0M354.81 1010.48h0M362.48 1013.8h0M365.48 1004.29h0M386.66 1003.24h0M356.14 1011.98h0" fill="none" stroke="#0a0a0a" stroke-width="1.6" stroke-linecap="round"/>
<circle cx="344.78" cy="933.63" r="1" fill="#e8262a"/>
<circle cx="341.83" cy="937.22" r="1" fill="#e8262a"/>
<circle cx="338.87" cy="940.21" r="1" fill="#e8262a"/>
<circle cx="345.77" cy="938.42" r="1" fill="#e8262a"/>
<circle cx="342.81" cy="931.84" r="1" fill="#e8262a"/>
<circle cx="336.9" cy="941.41" r="1" fill="#e8262a"/>
<circle cx="346.76" cy="930.04" r="1" fill="#e8262a"/>
<circle cx="347.74" cy="936.02" r="1" fill="#e8262a"/>
<circle cx="340.84" cy="928.85" r="1" fill="#e8262a"/>
<circle cx="343.8" cy="940.21" r="1" fill="#e8262a"/>
<circle cx="348.73" cy="939.61" r="1" fill="#e8262a"/>
<rect x="301.2" y="913.3" width="98.8" height="119.7" fill="none" stroke="#444" stroke-width="0.7"/>
<line x1="301.2" y1="973.1" x2="400" y2="973.1" stroke="#111" stroke-width="0.9" stroke-dasharray="1.2 1.2"/>
<line x1="350.7" y1="913.3" x2="350.7" y2="1033" stroke="#111" stroke-width="0.9" stroke-dasharray="1.2 1.2"/>
<line x1="353.7" y1="973" x2="353.7" y2="919" stroke="#6a4aa0" stroke-width="0.8" stroke-dasharray="1.2 1.2"/>
<path d="M351.9 920 L353.7 916.2 L355.5 920 Z" fill="#6a4aa0"/>
<line x1="347.5" y1="973" x2="347.5" y2="1028" stroke="#7fa8d8" stroke-width="0.8" stroke-dasharray="1.2 1.2"/>
<path d="M345.7 1027.3 L347.5 1031 L349.3 1027.3 Z" fill="#7fa8d8"/>
<line x1="297" y1="913.3" x2="301.2" y2="913.3" stroke="#444" stroke-width="0.7"/>
<text x="294" y="916" font-size="7.6" text-anchor="end">1.0</text>
<line x1="297" y1="943.2" x2="301.2" y2="943.2" stroke="#444" stroke-width="0.7"/>
<text x="294" y="945.9" font-size="7.6" text-anchor="end">0.5</text>
<line x1="297" y1="973.1" x2="301.2" y2="973.1" stroke="#444" stroke-width="0.7"/>
<text x="294" y="975.8" font-size="7.6" text-anchor="end">0.0</text>
<line x1="297" y1="1003" x2="301.2" y2="1003" stroke="#444" stroke-width="0.7"/>
<text x="294" y="1005.7" font-size="7.6" text-anchor="end">−0.5</text>
<line x1="297" y1="1032.9" x2="301.2" y2="1032.9" stroke="#444" stroke-width="0.7"/>
<text x="294" y="1035.6" font-size="7.6" text-anchor="end">−1.0</text>
<line x1="301.4" y1="1033" x2="301.4" y2="1037.3" stroke="#444" stroke-width="0.7"/>
<text x="301.4" y="1047.2" font-size="8" text-anchor="middle">−5.0</text>
<line x1="326.05" y1="1033" x2="326.05" y2="1037.3" stroke="#444" stroke-width="0.7"/>
<text x="326.05" y="1047.2" font-size="8" text-anchor="middle">−2.5</text>
<line x1="350.7" y1="1033" x2="350.7" y2="1037.3" stroke="#444" stroke-width="0.7"/>
<text x="350.7" y="1047.2" font-size="8" text-anchor="middle">0.0</text>
<line x1="375.35" y1="1033" x2="375.35" y2="1037.3" stroke="#444" stroke-width="0.7"/>
<text x="375.35" y="1047.2" font-size="8" text-anchor="middle">2.5</text>
<line x1="400" y1="1033" x2="400" y2="1037.3" stroke="#444" stroke-width="0.7"/>
<text x="400" y="1047.2" font-size="8" text-anchor="middle">5.0</text>
<text x="292.8" y="1057.9" font-size="7.1">DIPG007 log<tspan font-size="4.8" dy="1.5">2</tspan><tspan dy="-1.5">FC (ONC201/vehicle)</tspan></text>
<text transform="translate(262.9 974.5) rotate(-90)" font-size="8.1" text-anchor="middle">Spearman R</text>
<text transform="translate(273.5 974.3) rotate(-90)" font-size="8.1" text-anchor="middle">ONC201 (Responders/nonresponders)</text>
<text x="331.4" y="920.6" font-size="5.6">PDHB</text>
<text x="305.2" y="931.3" font-size="5.6">ACLY</text>
<text x="333.2" y="950.2" font-size="5.6">SDHB</text>
<text x="364.5" y="925.4" font-size="5.9">Response</text>
<text x="308" y="1022.9" font-size="5.9">Nonresponse</text>
<circle cx="377.7" cy="936.41" r="2.08" fill="#6b3fa0"/>
<rect x="375.32" y="939.05" width="4.75" height="7.04" rx="1.06" fill="#6b3fa0"/>
<path d="M376.12 939.67 L373.04 944.07 M379.28 939.67 L382.36 944.07" stroke="#6b3fa0" stroke-width="1.55" stroke-linecap="round" fill="none"/>
<path d="M376.4 945.21 L376.33 951.11 M379 945.21 L379.07 951.11" stroke="#6b3fa0" stroke-width="1.85" stroke-linecap="round" fill="none"/>
<circle cx="326" cy="995.61" r="2.08" fill="#7fa8d8"/>
<rect x="323.62" y="998.25" width="4.75" height="7.04" rx="1.06" fill="#7fa8d8"/>
<path d="M324.42 998.87 L321.34 1003.27 M327.58 998.87 L330.66 1003.27" stroke="#7fa8d8" stroke-width="1.55" stroke-linecap="round" fill="none"/>
<path d="M324.7 1004.41 L324.63 1010.31 M327.3 1004.41 L327.37 1010.31" stroke="#7fa8d8" stroke-width="1.85" stroke-linecap="round" fill="none"/>
</svg>
</body></html>
